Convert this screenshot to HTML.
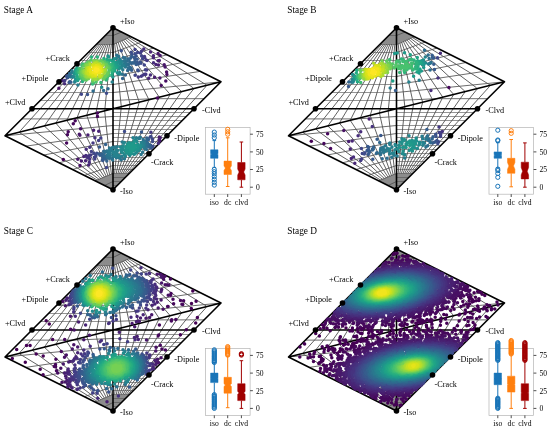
<!DOCTYPE html>
<html><head><meta charset="utf-8"><title>Source-type plots</title>
<style>html,body{margin:0;padding:0;background:#fff}svg{display:block}text{font-family:"Liberation Serif","Times New Roman",Times,serif;fill:#000}</style></head>
<body>
<svg width="550" height="432" viewBox="0 0 550 432">
<rect width="550" height="432" fill="#fff"/>
<g transform="translate(0 0)">
<text x="3.8" y="12.5" font-size="9.3">Stage A</text>
<g transform="translate(113.0 108.8)"><path d="M0 -81L-16.2 -64.8L0 -64.8L18 -72ZM0 81L16.2 64.8L0 64.8L-18 72Z" fill="#8c8c8c"/><path d="M0 72.7H8.1M0 64.7H16.2M0 56.7H24.3M0 48.7H32.4M0 40.7H40.5M0 32.7H48.6M0 24.7H56.7M0 16.7H64.8M0 7.7H72.9M0 -8.3H-72.9M0 -16.3H-64.8M0 -24.3H-56.7M0 -32.3H-48.6M0 -40.3H-40.5M0 -48.3H-32.4M0 -56.3H-24.3M0 -64.3H-16.2M0 -73.3H-8.1M0 3.7H76.95M0 11.7H68.85M0 20.7H60.75M0 28.7H52.65M0 36.7H44.55M0 44.7H36.45M0 52.7H28.35M0 60.7H20.25M0 68.7H12.15M0 76.7H4.05" fill="none" stroke="#525252" stroke-width="0.62"/><path d="M0 72.7L-8.53 76.74M0 64.7L-18 72M0 56.7L-28.59 66.71M0 48.7L-40.5 60.75M0 40.7L-54 54M0 32.7L-69.43 46.29M0 24.7L-87.23 37.38M0 16.7L-108 27M0 7.7L-40.5 10.12L-91.12 10.12M0 -8.3L40.5 -10.12L91.12 -10.12M0 -16.3L108 -27M0 -24.3L87.23 -37.38M0 -32.3L69.43 -46.29M0 -40.3L54 -54M0 -48.3L40.5 -60.75M0 -56.3L28.59 -66.71M0 -64.3L18 -72M0 -73.3L8.53 -76.74" fill="none" stroke="#525252" stroke-width="0.85"/><path d="M-16.02 71.21L-93.37 23.94L-92.53 21.81L-14.58 -64.8M-14.09 70.43L-79.79 21.16L-80.4 19.5L-12.96 -64.8M-12.19 69.68L-68.6 17.3L-67.45 15.36L-11.34 -64.8M-10.34 68.94L-56.55 15.03L-56.7 13.5L-9.72 -64.8M-8.53 68.21L-46.19 11.71L-45.56 10.12L-8.1 -64.8M-6.75 67.5L-35.56 9.88L-35.84 8.59L-6.48 -64.8M-5.01 66.8L-26.1 7.05L-26.04 5.79L-4.86 -64.8M-3.31 66.12L-17.01 4.48L-16.86 3.28L-3.24 -64.8M-1.64 65.45L-8.3 2.13L-8.2 1.04L-1.62 -64.8M1.62 64.8L8.2 -1.04L8.3 -2.13L1.64 -65.45M3.24 64.8L16.86 -3.28L17.01 -4.48L3.31 -66.12M4.86 64.8L26.04 -5.79L26.1 -7.05L5.01 -66.8M6.48 64.8L35.84 -8.59L35.56 -9.88L6.75 -67.5M8.1 64.8L45.56 -10.12L46.19 -11.71L8.53 -68.21M9.72 64.8L56.7 -13.5L56.55 -15.03L10.34 -68.94M11.34 64.8L67.45 -15.36L68.6 -17.3L12.19 -69.68M12.96 64.8L80.4 -19.5L79.79 -21.16L14.09 -70.43M14.58 64.8L92.53 -21.81L93.37 -23.94L16.02 -71.21" fill="none" stroke="#505050" stroke-width="0.9"/><path d="M0 -81L108 -27L0 81L-108 27ZM0 -81V81M-81 0H81M-108 27L108 -27" fill="none" stroke="#000" stroke-width="1.6" stroke-linejoin="round"/>
<g fill="none" stroke-linecap="round" stroke-width="3.5"><path stroke="#440154" d="M-49.7 50.6h0"/><path stroke="#46085c" d="M44.5 -10.9h0M-44.8 23h0M-37.8 11.9h0M-46.4 34.1h0M-45.6 26h0M-39.7 15h0M-15.5 4.1h0M-15.5 7.8h0"/><path stroke="#471063" d="M-54.1 -20.5h0M53.6 -36.9h0M48.2 -23.4h0M53.9 -34.3h0M52.8 -27.8h0M-33 56.7h0M-32.4 19.9h0"/><path stroke="#48186a" d="M45.1 -55.4h0M51.2 -44h0M52.1 -41.7h0M46.9 -30.7h0M47.1 -53.3h0M-35.2 50.4h0M-33.1 26.4h0M-33.7 25.4h0"/><path stroke="#481f70" d="M45.4 -43.7h0M45.1 -48h0M46.3 -48.3h0M41.6 -31.6h0M46.7 32.3h0M47.2 29h0M46.6 31.6h0M46.3 28.3h0M-31.6 52.1h0M-25.1 26.1h0M-19.4 21.5h0"/><path stroke="#482576" d="M-50.5 -28.1h0M40.4 -51.1h0M37.6 -56.8h0M35.7 -30.5h0M40.4 -53h0M42.9 -44.2h0M-29.2 47.7h0M46.2 30.6h0M-24.3 56.1h0M-27.4 51.9h0M-14.3 22.4h0"/><path stroke="#472d7b" d="M-48.4 -25h0M30.8 -59.9h0M40.5 -46.1h0M37.4 -33.8h0M45.3 34.4h0M-27.1 46.6h0M-23.7 53.4h0M-26.9 46.9h0M-26.8 40.4h0"/><path stroke="#46337f" d="M32.8 -34.5h0M-23.3 50.4h0M-25.5 48.6h0M-23.8 49.5h0M-25.8 48.2h0M-24.1 46.9h0M-23.2 38.5h0M-18.1 29h0"/><path stroke="#443983" d="M-48.2 -28.4h0M28.5 -57.5h0M33.7 -38.9h0M31.7 -51.4h0M34.1 -48.2h0M31.9 -34.6h0M28.3 -32.5h0M31.5 -52.3h0M30.1 -33.8h0M33.1 -48.9h0M25.3 -31.9h0M37.9 23.4h0M-22.2 46.2h0M-20 34.3h0"/><path stroke="#424086" d="M32.4 -39.1h0M27.4 -55.8h0M22 -59.2h0M-18.2 50.1h0M-18.6 48.5h0M-21.6 42.8h0M-12.2 29.3h0M-14.4 31.8h0"/><path stroke="#404688" d="M22.1 -33.6h0M31.3 -43.9h0M24.5 -56.2h0M28.6 -52.7h0M29.6 -50.1h0M-31.6 -14.6h0M-17.1 46.9h0M39.5 30.4h0M38 27.8h0M-17.3 47.5h0M-19.2 44.5h0M-6.5 58.7h0"/><path stroke="#3e4c8a" d="M-45.9 -31.3h0M-46.3 -32.5h0M28 -45.6h0M18.3 -56.5h0M22.1 -55h0M25.2 -38.1h0M-6.5 -15.6h0M39.9 37.7h0M39.6 32.7h0M37.2 28.1h0M-16.2 44.4h0M11.5 22.6h0"/><path stroke="#3b528b" d="M-43.9 -26.3h0M-45.5 -31.1h0M-45.4 -33.1h0M27.1 -46.7h0M18.9 -54.3h0M23 -52.9h0M24.8 -38.8h0M8.3 -58.1h0M-25.5 -14.2h0M38.3 39.2h0"/><path stroke="#38588c" d="M22 -50h0M-44.9 -31.6h0M-43.3 -27.1h0M25.4 -44.7h0M24.7 -45.2h0M24.2 -49.5h0M21.5 -51.6h0M24.1 -46.2h0M37.7 36.5h0M28.5 23.2h0M-13.5 38.3h0M-13.9 45.1h0M-10.6 51.2h0M-13 46.5h0M-10.2 51.6h0"/><path stroke="#365d8d" d="M-42.1 -26.6h0M23.2 -44.3h0M18 -51.6h0M18.7 -52.2h0M21.6 -46h0M17.8 -50.8h0M21.9 -47.6h0M18.7 -38.5h0M36.6 38.3h0M34.6 30h0M37 37.9h0M35.5 30.7h0M-9.9 49.7h0"/><path stroke="#33638d" d="M12.4 -33.8h0M-43.9 -33.3h0M20.4 -45.8h0M18.1 -40.5h0M17.6 -39.2h0M19.3 -46.1h0M9.6 -30.3h0M18.6 -45.5h0M36 37h0M-10.3 47.5h0M-11.3 45.2h0M-7.4 35.6h0M36.1 36h0M33.8 29.2h0M36.2 38.2h0M-6.2 52.2h0M34.1 30.4h0M-10.8 46.2h0M-10.5 46.7h0M-8.1 49.7h0M-10.1 46h0"/><path stroke="#31688e" d="M-42.8 -32.2h0M-43.4 -35.2h0M-43 -34.2h0M16.8 -46.8h0M15 -49.7h0M14.6 -38.3h0M16.1 -49.6h0M16.9 -41.5h0M-5 -20h0M-9.4 -18.3h0M34.8 37.5h0M33.5 32h0M-9.3 42.5h0M34.7 34.4h0M-8.6 47.1h0M-8.8 46.9h0"/><path stroke="#2e6d8e" d="M12.2 -50.7h0M14.3 -47.7h0M10.4 -51.4h0M15.6 -44.4h0M15.3 -40.7h0M-19.9 -17.8h0M34 34.8h0M33.5 40.6h0M34.1 36.6h0M-5.6 48.9h0M-8.4 42.7h0M-8.6 43.6h0"/><path stroke="#2c728e" d="M12.4 -48.1h0M13.9 -44.9h0M-41.7 -31.9h0M3.8 -53.5h0M9.2 -34.6h0M13.1 -45h0M13.3 -43.3h0M-0.3 51.3h0M30.2 30.8h0M32.8 37.5h0M8.2 50.9h0M-3.6 48.9h0M27.3 28.4h0M-3.9 49.4h0M31.6 32.8h0M-6.2 42.3h0M-5.7 46.6h0M-6.2 43h0M-7.4 42.6h0M-2.8 49.3h0M-0.7 50h0M-5.9 47.6h0"/><path stroke="#2a778e" d="M-41.5 -36.1h0M5.6 -52.1h0M11.4 -45.3h0M5.7 -52.2h0M10.6 -47.8h0M12.3 -41.7h0M-3.5 39.2h0M11.4 49.9h0M0 38.5h0M31.5 39.1h0M-4.8 42.7h0M31.7 35.8h0M28.1 45.8h0M29.7 43.1h0M31.2 34.7h0M-2.7 47h0M31.8 39.6h0M-0.5 38.7h0M6.6 49.1h0M-5.3 42.4h0M26.5 29.2h0M-3.6 41.9h0M-3.6 46.8h0M-5.2 45.6h0M-4.4 43h0M3.4 48.9h0"/><path stroke="#287c8e" d="M-38.2 -26.9h0M-40.6 -32.6h0M-41 -38.1h0M7.2 -49.2h0M-35.1 -23.8h0M10.8 -43.2h0M9.8 -39h0M-2 40.6h0M2.5 38.8h0M8.6 47.5h0M30.8 34.7h0M2.6 47.8h0M25.4 29.5h0M9.2 33.3h0M23.2 29h0M26.5 29.7h0M30.8 37.8h0M30.3 33.8h0M1.1 38.8h0M5.2 48.5h0M30.7 38h0M-1.5 40.1h0M2.1 47.4h0M0.2 47.3h0M1.6 47.4h0M-0.9 41.9h0M1 47.8h0M-2.8 45h0M4.2 37.9h0M1.2 39h0M-3.6 43.2h0M1.3 38.7h0"/><path stroke="#26828e" d="M9.1 -44.4h0M8.3 -46.8h0M-38.1 -27.4h0M6.6 -34.8h0M8.4 -46.7h0M10.1 -43.1h0M-0.8 -26.7h0M20 29h0M0.2 43.4h0M2.8 42.7h0M3.3 41.3h0M0 44.1h0M4.6 41.6h0M29.7 36.1h0M28.3 33.6h0M2.3 46.2h0M12.3 47.6h0M5.7 46.7h0M29.2 36.4h0M1.4 45.8h0M4.6 46.3h0M3.5 46.2h0M3.5 41.9h0M3.9 44.3h0M0.2 43h0"/><path stroke="#24868e" d="M8.3 -41.1h0M-39.5 -32.1h0M6.6 -36.4h0M-39.5 -31.9h0M6.2 -48.1h0M3.3 -50.3h0M7.8 -46.3h0M11.2 34.2h0M11.5 46.3h0M22.2 31h0M11.4 33.7h0M28 38.6h0M11 34.4h0M7.3 38.3h0M8 41.7h0M8.4 43.1h0"/><path stroke="#228b8d" d="M5.6 -47.5h0M5.2 -35.1h0M7 -41.6h0M6.8 -44.5h0M-5 -52.8h0M-11.3 -21.6h0M25.9 41.3h0M23.3 32.2h0M16.2 46h0M27.8 36.9h0M26.4 41.2h0M8.2 41h0M16.8 46.7h0M10.1 40.6h0M26.4 41.4h0M24.3 42.8h0M9.9 37.2h0M26.4 39.4h0M21.4 45.5h0M23.9 32.6h0M27.8 36.6h0M23.1 44.1h0M9.5 43.9h0M9.6 39.9h0M9.1 39.2h0M9.8 39.8h0"/><path stroke="#21918c" d="M4.4 -36.1h0M-37.4 -29.9h0M-37.3 -29.5h0M-38.8 -35.2h0M4.7 -46.3h0M1 -50h0M6 -39.7h0M13.1 44.3h0M25.1 40.5h0M24.8 40.4h0M25.1 36.3h0M26.2 37.1h0M25.1 37h0M24.9 37.2h0M21.1 32.4h0M25.6 37.1h0M12.6 42h0M18.8 44.9h0M16.3 44.8h0M25.1 35.4h0M14.2 44.4h0M14 43.2h0M15.3 34.2h0"/><path stroke="#1f958b" d="M-38.3 -34.8h0M-36.8 -29.4h0M4.8 -42.9h0M4.6 -43h0M3.7 -46.3h0M-4.5 -51.8h0M5.1 -42.7h0M15.2 41.5h0M23.6 36.8h0M17 42.9h0M24.5 39.1h0M22.6 40.6h0M20.6 42.2h0M20.8 35.1h0M13 39.8h0M14.9 36.4h0M14.5 36.2h0M15.1 36.5h0M13.3 38.1h0M14.8 41.2h0M13.3 42.1h0M17.8 44.1h0M18.4 34.4h0M15.3 42.6h0M13.4 39.9h0M12.6 38.2h0M24.7 38.2h0M14.8 34.9h0M15.9 35.2h0M18.2 34.8h0M14.3 38.1h0M16.8 34.3h0M13.4 42.4h0M16.3 34.3h0M21 33.5h0"/><path stroke="#1f9a8a" d="M-37.7 -37.7h0M-35.9 -43.5h0M-0.2 -31.7h0M4.6 -42.4h0M-37.5 -38.6h0M4 -42.4h0M-35.3 -28.4h0M2 -46.6h0M4 -43.1h0M20 41h0M18.6 41.9h0M21.3 38.6h0M17.4 41.8h0M18.8 39h0M18.1 42.4h0M19.3 35.7h0M17.8 39.2h0M17.8 39.2h0M15.9 37.7h0M17.6 39.7h0M21.5 37.2h0M22.1 37.2h0M16.7 37.3h0M15.9 36.8h0M19 39.2h0M19.6 37.3h0M17.6 42.3h0M14.7 38.7h0"/><path stroke="#1fa088" d="M-37.2 -38.1h0M-37.2 -38.3h0M3.5 -41.3h0M-1.9 -48.6h0M0.4 -47.4h0M0.3 -46.6h0M2.2 -44.2h0"/><path stroke="#20a486" d="M-36 -32.8h0M-36.1 -31.9h0M-35.9 -31.9h0M-35.2 -30.3h0M-35.7 -31.3h0M-36.1 -32.6h0M-34.7 -29.9h0M-36.4 -40.3h0M1.8 -42.9h0M1.8 -37.8h0M2.4 -41.4h0M1.8 -39.1h0"/><path stroke="#23a983" d="M0.8 -41.5h0M1.2 -41.1h0M-4 -48.2h0M0.1 -44.7h0M-34.3 -30.2h0M-36.3 -37.6h0M-35.8 -38.9h0M0 -45.3h0M-6.2 -49.4h0M-35.2 -31.4h0M-0.9 -34.2h0M-36.2 -34.9h0"/><path stroke="#28ae80" d="M0.2 -39.1h0M-35.8 -37.2h0M-9.1 -50.2h0M-21.4 -51.7h0M-30.5 -27.2h0M-0.7 -36.2h0M-0.3 -43.3h0M-0.7 -44.7h0M0.6 -40.6h0M-0.1 -38.3h0"/><path stroke="#2eb37c" d="M-34.7 -38.7h0M-1 -42.9h0M-1 -42.5h0M-15.6 -51.9h0M-34.3 -39.8h0M-20.4 -24.9h0M-6.7 -28.9h0M-0.8 -42.7h0M-1.1 -42.3h0M-0.7 -38.3h0"/><path stroke="#35b779" d="M-1.6 -38.8h0M-3.8 -33.5h0M-34.6 -36.5h0M-1.7 -42.5h0M-12.1 -26.2h0M-34.1 -39h0M-6.2 -29.9h0M-1.9 -41.5h0M-2.6 -44.3h0"/><path stroke="#3fbc73" d="M-6.3 -46.5h0M-33.1 -32.3h0M-33.3 -40.4h0M-31.2 -43.5h0M-32.9 -32.9h0M-19.6 -25.8h0M-30.3 -44.8h0M-4.7 -45.8h0M-33.8 -36.6h0M-2.4 -41h0M-31.4 -30.4h0M-5.4 -32h0M-3.5 -44.5h0"/><path stroke="#48c16e" d="M-3.8 -42.3h0M-28.9 -29.1h0M-30.8 -30.6h0M-33 -35.3h0M-31.8 -32.1h0M-32 -31.8h0M-32.9 -39.9h0M-4.4 -34.4h0"/><path stroke="#52c569" d="M-32.2 -33.5h0M-8.6 -47h0M-16.9 -26.9h0M-31.5 -32.1h0M-21.9 -48.7h0M-32.6 -36.3h0M-4 -37h0M-5.5 -33.2h0M-10.8 -48h0M-3.9 -38.3h0M-29.2 -29.8h0M-32.9 -36.3h0M-22.2 -48.6h0M-3.7 -41h0"/><path stroke="#5ec962" d="M-31.9 -36.3h0M-4.7 -36.1h0M-27.4 -44.7h0M-9.3 -29.8h0M-32.1 -37.7h0M-11.9 -48.1h0M-29.1 -30.3h0M-30.3 -32.6h0M-5.2 -35.8h0M-31.7 -36.1h0M-32 -34.9h0M-25.2 -46.7h0M-8.6 -30.8h0M-20.4 -27.5h0M-26.7 -28.9h0M-6.5 -44.7h0M-29.5 -42.9h0M-8.2 -31.3h0M-5.2 -42.9h0M-4.7 -40.9h0M-5.6 -35.2h0"/><path stroke="#69cd5b" d="M-9.9 -30.1h0M-31.2 -34.4h0M-12.5 -47.8h0M-30.7 -40.1h0M-7.5 -32.5h0M-31.1 -36.9h0M-6.9 -33.6h0M-31.5 -36.9h0M-7.5 -32.7h0M-30.9 -33.8h0M-27.6 -44.4h0M-5.7 -35.2h0M-26.7 -30h0M-6.9 -43.9h0"/><path stroke="#75d054" d="M-18.7 -48.1h0M-24.6 -30.1h0M-9.1 -44.8h0M-6.4 -41.2h0M-10.1 -46.1h0M-8.9 -44.9h0M-30.6 -36.6h0M-14.8 -47.9h0M-17.1 -48.4h0M-30.8 -37.3h0"/><path stroke="#84d44b" d="M-28.2 -32.7h0M-29.6 -35.9h0M-26.5 -43.7h0M-25.9 -31.4h0M-29.8 -37.5h0M-26.7 -43.3h0M-15 -29.5h0M-19.9 -29.1h0M-27.1 -31.8h0M-19.2 -47.5h0M-23.7 -45.8h0"/><path stroke="#90d743" d="M-7.3 -37.7h0M-26.1 -32.1h0M-17.8 -29.6h0M-9.8 -43.5h0M-25.2 -43.3h0M-20.1 -30.2h0M-26.9 -32.4h0M-28.4 -38.2h0M-7.4 -39.6h0M-29.1 -37.3h0"/><path stroke="#9dd93b" d="M-8.6 -36.3h0M-27.1 -40.9h0M-10.4 -43.6h0M-28.3 -37h0M-16.9 -30.6h0M-28.3 -37.8h0M-26.6 -33.4h0M-16.2 -46.7h0M-27.7 -38.5h0M-8.8 -35.6h0M-22.9 -44.6h0M-11.9 -32h0M-27.9 -35.8h0M-18.1 -46.3h0M-18.2 -30.5h0M-13.1 -31h0M-15.3 -46.1h0M-25.2 -32h0"/><path stroke="#addc30" d="M-25.4 -41.1h0M-26.6 -37.2h0M-12.5 -32.1h0M-26.9 -35.7h0M-22.6 -44.2h0M-24.6 -33.1h0M-19.1 -45.4h0M-12.9 -32.2h0M-8.7 -38.7h0M-22.8 -31.8h0M-26.9 -35.2h0M-10.8 -33.2h0M-16.5 -45.9h0M-26 -34.8h0M-13.2 -45h0"/><path stroke="#bade28" d="M-11.1 -42.2h0M-25.7 -40.3h0M-16 -44.9h0M-24.8 -34.6h0M-24.6 -41.2h0M-26.3 -36.5h0M-18.6 -44.8h0M-13.5 -43.9h0M-25.9 -35.3h0M-20.8 -32.1h0M-17.6 -45.4h0M-21.4 -32.4h0M-26.5 -37.1h0M-13.5 -32.4h0M-17 -45.2h0M-25.5 -39.1h0M-23.7 -33.8h0"/><path stroke="#c8e020" d="M-24 -40.5h0M-24.7 -35.2h0M-11 -39.7h0M-18.7 -32.9h0M-20.8 -32.8h0M-13.1 -33.2h0M-10.7 -38.5h0M-23.3 -41.3h0M-13.7 -33.5h0M-25 -36.3h0M-12.2 -42h0M-14.6 -44.1h0M-18.4 -44.1h0M-23.4 -34.4h0M-10.5 -38.5h0M-12.5 -42.4h0M-23.6 -41.1h0M-19.7 -43.8h0M-24.4 -40.5h0M-10.8 -36.8h0M-11.1 -40.4h0"/><path stroke="#d8e219" d="M-22.4 -35.1h0M-13 -41.8h0M-22.4 -35.3h0M-23.3 -40.1h0M-14.4 -42.7h0M-12.4 -40.8h0M-17.6 -33.3h0M-24.3 -38.2h0M-19.5 -42.8h0M-20 -42.6h0M-20.2 -43.1h0M-15.2 -43.6h0M-23.3 -39.9h0M-11.9 -37.4h0M-17.1 -32.9h0M-20.3 -33.6h0M-23.7 -39.1h0M-23.8 -39h0M-13 -41.9h0M-12.8 -41.5h0"/><path stroke="#e5e419" d="M-13.5 -40h0M-12 -38.2h0M-12.3 -39.4h0M-12.6 -37.1h0M-12.9 -37h0M-13.2 -36.3h0M-12.8 -40.9h0M-22.2 -36.7h0M-17.1 -34.3h0M-16.6 -42.6h0M-13 -39.8h0M-12.4 -40h0M-20.7 -35.7h0M-17 -43.1h0M-22.5 -39.3h0M-14.4 -41.9h0"/><path stroke="#f1e51d" d="M-14.9 -37.3h0M-16.1 -36.1h0M-13.8 -38.2h0M-14.9 -41.1h0M-19.6 -36.8h0M-13.5 -37.3h0M-17.5 -41.1h0M-17.9 -35.7h0M-13.5 -37.6h0M-14.8 -37.1h0M-14.2 -36.2h0M-16.9 -35.9h0M-18.4 -40.7h0M-17.9 -36.1h0M-16 -40.8h0M-19.6 -40.1h0M-19.3 -36.2h0M-13.6 -37.1h0M-19.6 -40.9h0M-16.5 -36h0M-13.7 -38.4h0M-16.9 -41.1h0"/><path stroke="#fde725" d="M-16.3 -39.5h0M-17 -39.3h0M-17.3 -40h0M-16.3 -37.5h0M-15 -38.8h0M-16.2 -39.6h0M-17.7 -39h0M-17.7 -37.9h0M-15.2 -39.3h0"/></g>
<circle cx="0" cy="-81" r="2.8"/><circle cx="0" cy="81" r="2.8"/><circle cx="-36" cy="-45" r="2.8"/><circle cx="-54" cy="-27" r="2.8"/><circle cx="-81" cy="0" r="2.8"/><circle cx="81" cy="0" r="2.8"/><circle cx="54" cy="27" r="2.8"/><circle cx="36" cy="45" r="2.8"/></g>
<g font-size="8.2"><text x="120.0" y="23.9">+Iso</text><text x="120.0" y="194.3">-Iso</text><text x="45.6" y="60.5">+Crack</text><text x="21.6" y="80.5">+Dipole</text><text x="4.9" y="105.0">+Clvd</text><text x="202.0" y="113.0">-Clvd</text><text x="174.3" y="141.3">-Dipole</text><text x="151.1" y="165.4">-Crack</text></g>
<rect x="205.5" y="127.4" width="44.6" height="66.8" fill="#fff" stroke="#b4b4b4" stroke-width="0.7"/><g stroke="#1874b8" stroke-width="1" fill="none"><path d="M214.3 149.8V140.6M214.3 158.3V167.4M212.5 140.6H216.1M212.5 167.4H216.1"/><circle cx="214.3" cy="137.8" r="2.1"/><circle cx="214.3" cy="135" r="2.1"/><circle cx="214.3" cy="132.1" r="2.1"/><circle cx="214.3" cy="169.5" r="2.1"/><circle cx="214.3" cy="171.7" r="2.1"/><circle cx="214.3" cy="173.8" r="2.1"/><circle cx="214.3" cy="176.6" r="2.1"/><circle cx="214.3" cy="179.4" r="2.1"/><circle cx="214.3" cy="182.3" r="2.1"/><circle cx="214.3" cy="185.1" r="2.1"/></g><path d="M210.6 149.8H218V153.7L216.6 154L218 154.4V158.3H210.6V154.4L212 154L210.6 153.7Z" fill="#1874b8" stroke="#1874b8" stroke-width="0.5"/><g stroke="#ff7f0e" stroke-width="1" fill="none"><path d="M227.7 161.1V137.8M227.7 174.5V186.5M225.9 137.8H229.5M225.9 186.5H229.5"/><circle cx="227.7" cy="134.2" r="2.1"/><circle cx="227.7" cy="131.8" r="2.1"/><circle cx="227.7" cy="129.3" r="2.1"/></g><path d="M224 161.1H231.4V165.9L230 168.1L231.4 170.4V174.5H224V170.4L225.4 168.1L224 165.9Z" fill="#ff7f0e" stroke="#ff7f0e" stroke-width="0.5"/><g stroke="#a00000" stroke-width="1" fill="none"><path d="M241.4 162.5V142M241.4 179.8V187.2M239.6 142H243.2M239.6 187.2H243.2"/></g><path d="M237.7 162.5H245.1V169.1L243.7 172L245.1 175V179.8H237.7V175L239.1 172L237.7 169.1Z" fill="#a00000" stroke="#a00000" stroke-width="0.5"/><path d="M250.1 187.2h2.8M250.1 169.5h2.8M250.1 151.9h2.8M250.1 134.2h2.8M214.3 194.2v2.8M227.7 194.2v2.8M241.4 194.2v2.8" stroke="#000" stroke-width="0.7" fill="none"/><g font-size="7.6"><text x="255.9" y="190.1">0</text><text x="255.9" y="172.4">25</text><text x="255.9" y="154.8">50</text><text x="255.9" y="137.2">75</text><text x="214.3" y="205.2" text-anchor="middle">iso</text><text x="227.7" y="205.2" text-anchor="middle">dc</text><text x="241.4" y="205.2" text-anchor="middle">clvd</text></g></g>
<g transform="translate(283.5 0)">
<text x="3.8" y="12.5" font-size="9.3">Stage B</text>
<g transform="translate(113.0 108.8)"><path d="M0 -81L-16.2 -64.8L0 -64.8L18 -72ZM0 81L16.2 64.8L0 64.8L-18 72Z" fill="#8c8c8c"/><path d="M0 72.7H8.1M0 64.7H16.2M0 56.7H24.3M0 48.7H32.4M0 40.7H40.5M0 32.7H48.6M0 24.7H56.7M0 16.7H64.8M0 7.7H72.9M0 -8.3H-72.9M0 -16.3H-64.8M0 -24.3H-56.7M0 -32.3H-48.6M0 -40.3H-40.5M0 -48.3H-32.4M0 -56.3H-24.3M0 -64.3H-16.2M0 -73.3H-8.1M0 3.7H76.95M0 11.7H68.85M0 20.7H60.75M0 28.7H52.65M0 36.7H44.55M0 44.7H36.45M0 52.7H28.35M0 60.7H20.25M0 68.7H12.15M0 76.7H4.05" fill="none" stroke="#525252" stroke-width="0.62"/><path d="M0 72.7L-8.53 76.74M0 64.7L-18 72M0 56.7L-28.59 66.71M0 48.7L-40.5 60.75M0 40.7L-54 54M0 32.7L-69.43 46.29M0 24.7L-87.23 37.38M0 16.7L-108 27M0 7.7L-40.5 10.12L-91.12 10.12M0 -8.3L40.5 -10.12L91.12 -10.12M0 -16.3L108 -27M0 -24.3L87.23 -37.38M0 -32.3L69.43 -46.29M0 -40.3L54 -54M0 -48.3L40.5 -60.75M0 -56.3L28.59 -66.71M0 -64.3L18 -72M0 -73.3L8.53 -76.74" fill="none" stroke="#525252" stroke-width="0.85"/><path d="M-16.02 71.21L-93.37 23.94L-92.53 21.81L-14.58 -64.8M-14.09 70.43L-79.79 21.16L-80.4 19.5L-12.96 -64.8M-12.19 69.68L-68.6 17.3L-67.45 15.36L-11.34 -64.8M-10.34 68.94L-56.55 15.03L-56.7 13.5L-9.72 -64.8M-8.53 68.21L-46.19 11.71L-45.56 10.12L-8.1 -64.8M-6.75 67.5L-35.56 9.88L-35.84 8.59L-6.48 -64.8M-5.01 66.8L-26.1 7.05L-26.04 5.79L-4.86 -64.8M-3.31 66.12L-17.01 4.48L-16.86 3.28L-3.24 -64.8M-1.64 65.45L-8.3 2.13L-8.2 1.04L-1.62 -64.8M1.62 64.8L8.2 -1.04L8.3 -2.13L1.64 -65.45M3.24 64.8L16.86 -3.28L17.01 -4.48L3.31 -66.12M4.86 64.8L26.04 -5.79L26.1 -7.05L5.01 -66.8M6.48 64.8L35.84 -8.59L35.56 -9.88L6.75 -67.5M8.1 64.8L45.56 -10.12L46.19 -11.71L8.53 -68.21M9.72 64.8L56.7 -13.5L56.55 -15.03L10.34 -68.94M11.34 64.8L67.45 -15.36L68.6 -17.3L12.19 -69.68M12.96 64.8L80.4 -19.5L79.79 -21.16L14.09 -70.43M14.58 64.8L92.53 -21.81L93.37 -23.94L16.02 -71.21" fill="none" stroke="#505050" stroke-width="0.9"/><path d="M0 -81L108 -27L0 81L-108 27ZM0 -81V81M-81 0H81M-108 27L108 -27" fill="none" stroke="#000" stroke-width="1.6" stroke-linejoin="round"/>
<g fill="none" stroke-linecap="round" stroke-width="3.5"><path stroke="#440154" d="M-85.2 32.4h0"/><path stroke="#46085c" d="M52.4 -21.4h0M-68.9 24.9h0M-72.6 34.8h0M-65.9 39.7h0"/><path stroke="#471063" d="M-52.7 21.6h0"/><path stroke="#481f70" d="M-27.3 10.1h0M-47.8 32.7h0"/><path stroke="#482576" d="M-41.7 54.5h0M-44.3 32.3h0M-45.2 49.6h0M-46.2 40.3h0"/><path stroke="#472d7b" d="M43.9 -55.5h0M34.4 -18.3h0M-38.4 26.9h0M-35.8 22.9h0M-43 48.1h0"/><path stroke="#46337f" d="M41.5 -30.8h0M45.8 22.6h0M-24.2 17.6h0"/><path stroke="#443983" d="M44.1 23.6h0M42.5 18.1h0M-35.8 51.6h0"/><path stroke="#424086" d="M44.2 26h0M-34.9 50.3h0M42.7 23.7h0M44 27.7h0"/><path stroke="#404688" d="M41 -50.7h0M41 -51h0M-35.1 39.7h0M-34.2 44.8h0M42.1 32.9h0"/><path stroke="#3e4c8a" d="M-31.5 43.9h0M-32.2 45.2h0M41.3 34.7h0"/><path stroke="#3b528b" d="M39.2 25.5h0M39.5 27.6h0M39.6 32.5h0M40.4 31.8h0"/><path stroke="#38588c" d="M-48 -22.3h0M37.1 -50.8h0M38 -39.3h0M-27.8 38.4h0M-27.6 44.5h0M-28.4 40.7h0M-29.4 41.6h0M-27.8 41.8h0M-23.7 50.4h0M-28.2 45.8h0M38.1 33.5h0M-28.8 37.8h0M-15.7 26.6h0"/><path stroke="#365d8d" d="M35.6 -53.6h0M37.3 -44.5h0M35.9 -51.4h0M-1 -18.3h0M30.4 20.8h0M-27 43h0M36.1 34.2h0M36.5 28h0M-19.4 30.4h0"/><path stroke="#33638d" d="M-47.6 -26.9h0M-24 40.1h0M-22.9 38.2h0M-23.1 40.2h0M-24 41.1h0M35.7 30.2h0"/><path stroke="#31688e" d="M-14.3 50h0M34.1 33.9h0M-19.6 43.9h0M-20.1 44.7h0M-16.8 33.7h0"/><path stroke="#2e6d8e" d="M34.6 -46.4h0M33.6 -38.9h0M31.7 -53.8h0M28 -58.6h0M-15.9 45.8h0M32.6 30.4h0M32.1 31.8h0M31.1 27h0M-9.4 49.4h0M-16.4 44.3h0M31.1 36.9h0M33.1 32.4h0"/><path stroke="#2c728e" d="M33.5 -45.6h0M33.2 -45.2h0M34 -45.9h0M32.6 -50.3h0M29.4 38.1h0M30.5 29.9h0M-16 41.1h0M-16.3 43.7h0M-15.7 39.4h0M30.3 28.2h0"/><path stroke="#2a778e" d="M-45.2 -26.7h0M-14.1 40.8h0M-13.1 42.6h0M-11.8 41.3h0M-4.8 48.4h0M29.3 30.4h0M-12.8 43.6h0M-14.2 40.9h0M-13.3 38.4h0M-11.1 36.9h0"/><path stroke="#287c8e" d="M31.9 -44.7h0M22.7 -28.6h0M-6.3 -20.8h0M8.2 49.1h0M-7.1 34.7h0M-9.1 39.8h0M28 34.4h0M0.7 47.2h0M-6.5 34.2h0M-7.3 42.3h0M-6.8 45.1h0M-6.7 35.6h0M-10.8 42.3h0M-2.3 46.5h0M-9 39.7h0M25.5 27.4h0M26.2 29.9h0"/><path stroke="#26828e" d="M-44.2 -29.2h0M-43.6 -26.5h0M28.8 -51.7h0M12.4 -26.8h0M26.3 36.4h0M-2.4 43.9h0M-3.5 44.4h0M-6.7 40.3h0M26.6 33.6h0M-4.5 38.1h0M-6.9 42h0M-4.5 44.4h0"/><path stroke="#24868e" d="M-43.1 -27.7h0M-0.9 37h0M-1.5 41h0M12.5 26.9h0M8.4 46h0M-1.4 35.8h0M23.7 34h0M5.4 29.9h0M6 45h0"/><path stroke="#228b8d" d="M-43.9 -34.3h0M29.1 -45.9h0M6.4 44.7h0M22.9 33.4h0M21 39.6h0M2.2 42.7h0M3.3 33.3h0M22.4 36.2h0M2.4 36.4h0M23 35.1h0M19.7 29.1h0M0.8 39.9h0"/><path stroke="#21918c" d="M27 -48.8h0M12.8 41.7h0M19.7 32.4h0M2.8 38.8h0M8.4 31.2h0M20.1 31.9h0M19.1 32h0M6.5 42.3h0M5.5 33.1h0M14.5 41h0M18.3 39h0M7.9 30.8h0M5.4 34.9h0M6.7 31.7h0M6.6 32.3h0M18.8 32h0M16 42.2h0M20 32h0"/><path stroke="#1f958b" d="M-41.8 -29.5h0M-42.4 -31.1h0M27.3 -45.8h0M27.2 -43.9h0M27.2 -41.4h0M13.2 32.3h0M16.9 36.8h0M6.2 38.8h0M6.9 38.1h0M15.6 34.1h0M9.5 35.3h0M14.3 32.1h0M9.6 38.8h0M15.8 39.4h0M15.1 39.9h0M14.1 32.7h0M16.3 38h0M17.3 36.3h0M15.4 34.3h0M16.9 35.6h0M16.5 34.6h0M11 33.5h0M16.6 36.7h0M10.3 35.8h0M16.6 33.1h0M15.8 31.8h0M15.7 34.3h0M19.1 34.9h0"/><path stroke="#1f9a8a" d="M-42.2 -31.9h0M-1.8 -55.4h0M24.8 -37.9h0M26 -46.1h0M0.7 -55.7h0M8 -56h0M25.9 -44.6h0M17.1 -32.6h0M25.1 -48h0M22.5 -35.8h0M14.8 35.5h0M12.9 34h0M13.2 36.8h0"/><path stroke="#1fa088" d="M-41.3 -32.3h0M-3.7 -27.8h0"/><path stroke="#20a486" d="M24.2 -46.4h0M20.8 -51.4h0M24.4 -45.4h0M23.4 -39.9h0M23.1 -38.9h0M20.6 -36.8h0M13.8 -54.1h0"/><path stroke="#23a983" d="M-39.8 -38.5h0M-39.1 -27h0M-40.2 -35.9h0M21.7 -47h0M22.5 -44.9h0M22.1 -47.5h0M21 -47.9h0M22.6 -46.5h0"/><path stroke="#28ae80" d="M-39.4 -29.4h0M-39.7 -31.1h0M21.3 -46.2h0M20.8 -39.7h0M21.2 -44.8h0M21.4 -42.4h0M21.9 -44.9h0M20.9 -42.9h0"/><path stroke="#2eb37c" d="M8.1 -36.2h0M19.1 -40.1h0M5.5 -49.8h0M17.4 -48.7h0M14.4 -49.5h0M19.8 -44.2h0M19.6 -47h0M19.1 -41.9h0M4.9 -49.8h0M19.3 -44.5h0M20.3 -45.6h0"/><path stroke="#35b779" d="M-38.7 -32.6h0M-38.6 -33.5h0M-38.4 -32.3h0M-38.8 -32.2h0M3.2 -36.2h0M6.9 -48.9h0M16.7 -39.2h0M13.1 -48.9h0M13.1 -49.4h0M14.9 -49.2h0M7.7 -37.7h0M16.3 -38.8h0"/><path stroke="#3fbc73" d="M-37.9 -31.1h0M-37.6 -31.4h0M-35.8 -26.4h0M-38 -32.1h0M6.3 -47.3h0M8.4 -46.7h0M12.7 -40.7h0M7.8 -38.8h0M16.3 -45.8h0M7.5 -47.5h0M8.1 -39.5h0M0.6 -47.7h0M15.1 -43h0M10.1 -47.5h0M1.7 -47.9h0M14.3 -42.4h0M10 -46.2h0M15.1 -41.4h0M2.9 -46.6h0M10.4 -39h0M15.1 -45.9h0M15.4 -40.8h0M-6.8 -49.3h0"/><path stroke="#48c16e" d="M-36.9 -30.2h0M5.7 -43.2h0M11.6 -42.9h0M11.4 -44.2h0M13 -42.9h0M5.8 -41.3h0M11.6 -42.6h0M4.9 -40.6h0M9.3 -40.9h0M6 -42.9h0M1.7 -40.3h0M4.2 -40.4h0M8.8 -41.4h0M9.4 -43.4h0M5.2 -43.3h0M8.6 -42.5h0M3.9 -42.3h0M-0.2 -46.5h0M9.1 -45h0M2.5 -43.1h0M10.1 -43.7h0"/><path stroke="#52c569" d="M-4.1 -44.7h0M-36.4 -30.6h0M-37 -32.7h0M-36.5 -38.8h0M-2.2 -40.9h0M-2.3 -41.2h0M-0.7 -44.1h0M0.3 -42.6h0"/><path stroke="#5ec962" d="M-6.9 -45.9h0M-9.8 -47.9h0M-36.5 -32.8h0"/><path stroke="#69cd5b" d="M-5.4 -41.9h0M-35.8 -32h0M-5.8 -43.2h0M-35.7 -38h0M-6.2 -40.1h0M-35.2 -31.9h0M-36.1 -35h0M-35.7 -32.3h0M-8.5 -45.4h0M-5.5 -40.7h0M-5.9 -43.2h0"/><path stroke="#75d054" d="M-6.6 -41.4h0M-8.1 -43.8h0M-14.5 -48.1h0"/><path stroke="#84d44b" d="M-8.9 -43.3h0M-8.1 -39.7h0M-8.9 -36.4h0M-34.3 -34.4h0M-34.2 -32h0"/><path stroke="#90d743" d="M-9.8 -38.1h0M-9.6 -40.6h0M-32.7 -29.9h0M-11.5 -43.9h0M-31.8 -29.9h0M-9.6 -38.4h0M-13.5 -45.4h0"/><path stroke="#9dd93b" d="M-32.7 -38.7h0M-11.4 -42.5h0M-32.8 -31.9h0M-10.4 -40.8h0M-33 -33.9h0M-14.5 -45h0M-11.4 -36.2h0M-12.3 -43.5h0"/><path stroke="#addc30" d="M-12.2 -38.4h0M-15.6 -32.3h0M-31.9 -33.6h0M-22.8 -45.6h0M-29.8 -29.7h0M-32 -35h0M-12.9 -36.1h0M-11.5 -37.9h0M-15.9 -45h0M-13 -42.7h0M-13.6 -33.6h0"/><path stroke="#bade28" d="M-13.2 -40h0M-31.4 -34.9h0M-29.5 -30.6h0M-13.3 -41.6h0M-14.3 -41.3h0M-13.8 -37.8h0M-13.5 -37.3h0M-31 -39.5h0M-29.8 -31.2h0M-30.8 -38.2h0M-31.5 -33.1h0M-14 -41h0M-14 -42.3h0"/><path stroke="#c8e020" d="M-30 -33.7h0M-28.2 -30.1h0M-18.1 -43.5h0M-30.5 -34.2h0M-30.3 -37.7h0M-15 -37.7h0M-29.9 -39h0M-14.6 -39.3h0M-29.6 -31.9h0M-16 -34.5h0M-13.9 -39.2h0"/><path stroke="#d8e219" d="M-29.9 -35.3h0M-28.3 -39.3h0M-29.4 -38.4h0M-20.8 -43.4h0M-29.7 -36h0M-18.4 -42.4h0M-24.1 -31h0M-27.2 -31h0M-28.2 -31.7h0M-28.3 -39.3h0M-29.4 -33.4h0M-29.5 -35.6h0M-17 -41.8h0M-19.5 -43.1h0"/><path stroke="#e5e419" d="M-18.8 -33.7h0M-16.8 -39.4h0M-18.4 -34.4h0M-28.8 -37.3h0M-18.9 -34.8h0M-18.8 -34h0M-21.6 -41.8h0M-17.3 -35.9h0M-17.2 -39.4h0M-26.5 -32.8h0M-27.3 -39.4h0M-21.2 -32.5h0M-26.7 -33.3h0"/><path stroke="#f1e51d" d="M-18.3 -36.9h0M-20.3 -40.1h0M-20.3 -36.5h0M-22.9 -40.5h0M-26 -38.9h0M-27.1 -37.4h0M-27 -34.2h0M-26.5 -37.6h0M-19.4 -34.8h0M-25.7 -38h0M-27.3 -36.6h0M-25.5 -34.1h0M-19.2 -38.3h0M-19 -37.2h0M-24.2 -40h0M-25.9 -37.2h0M-24 -34.1h0M-19 -40h0M-26 -37.5h0M-20.1 -37.2h0M-23.7 -34.2h0M-27 -38.6h0M-19.3 -34.9h0M-24.3 -32.7h0M-27.4 -34.8h0"/><path stroke="#fde725" d="M-24.2 -37.7h0M-22.6 -36h0M-21 -36.7h0M-23.9 -36.4h0M-24.2 -38.7h0M-22.6 -36.8h0M-22.2 -36.9h0M-23.5 -37.5h0M-22.2 -37.5h0M-24.9 -36h0M-22.8 -34.9h0"/></g>
<circle cx="0" cy="-81" r="2.8"/><circle cx="0" cy="81" r="2.8"/><circle cx="-36" cy="-45" r="2.8"/><circle cx="-54" cy="-27" r="2.8"/><circle cx="-81" cy="0" r="2.8"/><circle cx="81" cy="0" r="2.8"/><circle cx="54" cy="27" r="2.8"/><circle cx="36" cy="45" r="2.8"/></g>
<g font-size="8.2"><text x="120.0" y="23.9">+Iso</text><text x="120.0" y="194.3">-Iso</text><text x="45.6" y="60.5">+Crack</text><text x="21.6" y="80.5">+Dipole</text><text x="4.9" y="105.0">+Clvd</text><text x="202.0" y="113.0">-Clvd</text><text x="174.3" y="141.3">-Dipole</text><text x="151.1" y="165.4">-Crack</text></g>
<rect x="205.5" y="127.4" width="44.6" height="66.8" fill="#fff" stroke="#b4b4b4" stroke-width="0.7"/><g stroke="#1874b8" stroke-width="1" fill="none"><path d="M214.3 151.9V142.7M214.3 158.3V167.8M212.5 142.7H216.1M212.5 167.8H216.1"/><circle cx="214.3" cy="130.2" r="2.1"/><circle cx="214.3" cy="140" r="2.1"/><circle cx="214.3" cy="140.7" r="2.1"/><circle cx="214.3" cy="169.1" r="2.1"/><circle cx="214.3" cy="170.6" r="2.1"/><circle cx="214.3" cy="173.5" r="2.1"/><circle cx="214.3" cy="177.3" r="2.1"/><circle cx="214.3" cy="186.3" r="2.1"/></g><path d="M210.6 151.9H218V154.7L216.6 155.1L218 155.4V158.3H210.6V155.4L212 155.1L210.6 154.7Z" fill="#1874b8" stroke="#1874b8" stroke-width="0.5"/><g stroke="#ff7f0e" stroke-width="1" fill="none"><path d="M227.7 158.3V139.5M227.7 173.3V186.8M225.9 139.5H229.5M225.9 186.8H229.5"/><circle cx="227.7" cy="130.7" r="2.1"/><circle cx="227.7" cy="133.3" r="2.1"/></g><path d="M224 158.3H231.4V162.6L230 165.9L231.4 169.2V173.3H224V169.2L225.4 165.9L224 162.6Z" fill="#ff7f0e" stroke="#ff7f0e" stroke-width="0.5"/><g stroke="#a00000" stroke-width="1" fill="none"><path d="M241.4 162.2V142.9M241.4 178.9V187.2M239.6 142.9H243.2M239.6 187.2H243.2"/></g><path d="M237.7 162.2H245.1V167.5L243.7 171.2L245.1 174.9V178.9H237.7V174.9L239.1 171.2L237.7 167.5Z" fill="#a00000" stroke="#a00000" stroke-width="0.5"/><path d="M250.1 187.2h2.8M250.1 169.5h2.8M250.1 151.9h2.8M250.1 134.2h2.8M214.3 194.2v2.8M227.7 194.2v2.8M241.4 194.2v2.8" stroke="#000" stroke-width="0.7" fill="none"/><g font-size="7.6"><text x="255.9" y="190.1">0</text><text x="255.9" y="172.4">25</text><text x="255.9" y="154.8">50</text><text x="255.9" y="137.2">75</text><text x="214.3" y="205.2" text-anchor="middle">iso</text><text x="227.7" y="205.2" text-anchor="middle">dc</text><text x="241.4" y="205.2" text-anchor="middle">clvd</text></g></g>
<g transform="translate(0 221.2)">
<text x="3.8" y="12.5" font-size="9.3">Stage C</text>
<g transform="translate(113.0 108.8)"><path d="M0 -81L-16.2 -64.8L0 -64.8L18 -72ZM0 81L16.2 64.8L0 64.8L-18 72Z" fill="#8c8c8c"/><path d="M0 72.5H8.1M0 64.5H16.2M0 56.5H24.3M0 48.5H32.4M0 40.5H40.5M0 32.5H48.6M0 24.5H56.7M0 16.5H64.8M0 8.5H72.9M0 -8.5H-72.9M0 -16.5H-64.8M0 -24.5H-56.7M0 -32.5H-48.6M0 -40.5H-40.5M0 -48.5H-32.4M0 -56.5H-24.3M0 -64.5H-16.2M0 -72.5H-8.1M0 4.5H76.95M0 12.5H68.85M0 20.5H60.75M0 28.5H52.65M0 36.5H44.55M0 44.5H36.45M0 52.5H28.35M0 60.5H20.25M0 68.5H12.15M0 76.5H4.05" fill="none" stroke="#525252" stroke-width="0.62"/><path d="M0 72.5L-8.53 76.74M0 64.5L-18 72M0 56.5L-28.59 66.71M0 48.5L-40.5 60.75M0 40.5L-54 54M0 32.5L-69.43 46.29M0 24.5L-87.23 37.38M0 16.5L-108 27M0 8.5L-40.5 10.12L-91.12 10.12M0 -8.5L40.5 -10.12L91.12 -10.12M0 -16.5L108 -27M0 -24.5L87.23 -37.38M0 -32.5L69.43 -46.29M0 -40.5L54 -54M0 -48.5L40.5 -60.75M0 -56.5L28.59 -66.71M0 -64.5L18 -72M0 -72.5L8.53 -76.74" fill="none" stroke="#525252" stroke-width="0.85"/><path d="M-16.02 71.21L-93.37 23.94L-92.53 21.81L-14.58 -64.8M-14.09 70.43L-79.79 21.16L-80.4 19.5L-12.96 -64.8M-12.19 69.68L-68.6 17.3L-67.45 15.36L-11.34 -64.8M-10.34 68.94L-56.55 15.03L-56.7 13.5L-9.72 -64.8M-8.53 68.21L-46.19 11.71L-45.56 10.12L-8.1 -64.8M-6.75 67.5L-35.56 9.88L-35.84 8.59L-6.48 -64.8M-5.01 66.8L-26.1 7.05L-26.04 5.79L-4.86 -64.8M-3.31 66.12L-17.01 4.48L-16.86 3.28L-3.24 -64.8M-1.64 65.45L-8.3 2.13L-8.2 1.04L-1.62 -64.8M1.62 64.8L8.2 -1.04L8.3 -2.13L1.64 -65.45M3.24 64.8L16.86 -3.28L17.01 -4.48L3.31 -66.12M4.86 64.8L26.04 -5.79L26.1 -7.05L5.01 -66.8M6.48 64.8L35.84 -8.59L35.56 -9.88L6.75 -67.5M8.1 64.8L45.56 -10.12L46.19 -11.71L8.53 -68.21M9.72 64.8L56.7 -13.5L56.55 -15.03L10.34 -68.94M11.34 64.8L67.45 -15.36L68.6 -17.3L12.19 -69.68M12.96 64.8L80.4 -19.5L79.79 -21.16L14.09 -70.43M14.58 64.8L92.53 -21.81L93.37 -23.94L16.02 -71.21" fill="none" stroke="#505050" stroke-width="0.9"/><path d="M0 -81L108 -27L0 81L-108 27ZM0 -81V81M-81 0H81M-108 27L108 -27" fill="none" stroke="#000" stroke-width="1.6" stroke-linejoin="round"/>
<g fill="none" stroke-linecap="round" stroke-width="3.5"><path stroke="#440154" d="M79.8 -38.9h0M84.4 -12.5h0M73.3 -0.3h0M78.5 -26.4h0M78.3 -21.6h0M-66.8 -9.2h0M-63.7 -6.1h0M83.1 -28.7h0M82.7 -7h0M-69.9 44.7h0M-76.8 23.9h0M-100.7 28.6h0M-96.3 19.6h0M-86.5 15.4h0M-72.8 39.3h0M-60.4 9.4h0M67.4 4.7h0M-69.8 25.9h0M-82.9 15.5h0M-87.7 32.2h0"/><path stroke="#46085c" d="M57.5 -51h0M69.8 -25.4h0M60 -30.8h0M57.6 -34.7h0M68.9 -25.8h0M70.6 -29.2h0M58.4 -9h0M55.1 -23.4h0M67.5 -29.6h0M46.4 -5h0M45.7 5.1h0M54.6 -23.5h0M60.6 -26.3h0M62.8 -10.4h0M-42.4 -0.8h0M58.7 -10.3h0M58 -36.6h0M-56.5 40.8h0M52.4 19.9h0M-57.5 34.6h0M-51.7 21.4h0M-58.7 36.4h0M-57.1 29.3h0M47.3 15.3h0M-57.4 36.7h0M48.9 19h0M45.2 5.9h0M-48.3 9.4h0"/><path stroke="#471063" d="M50.6 -50.7h0M52.1 -45.2h0M54.1 -45.3h0M48.9 -54.9h0M55.9 -45h0M52 -53.8h0M-50.3 -28.6h0M55.2 -34.7h0M49.9 -52.8h0M50.1 -20.8h0M-51 52.2h0M-55.3 43h0M-48.5 27.3h0M48 27.7h0M-39.2 14.8h0M-46.7 24.9h0M-52.2 38.3h0M-38.8 0h0M43 17.3h0"/><path stroke="#48186a" d="M48.7 -40.6h0M44.1 -55.7h0M47.2 -55.7h0M48.4 -52.9h0M-47.6 -24.2h0M33 -11.7h0M19.1 -6.6h0M36.6 -12.5h0M48.1 -30.1h0M26.3 -8.6h0M45.2 -22h0M48.6 -47h0M38.7 -15.3h0M21.7 -3.3h0M-42.6 -13.7h0M43.5 31.4h0M-49.7 33.9h0M33.5 10.1h0M44 33.1h0M-47.8 51.9h0M44.5 29.3h0M-35.3 17h0M42.8 21h0M45.5 32.6h0M-40.7 18.9h0M-23.6 5.2h0M-29.2 9.8h0"/><path stroke="#481f70" d="M-47.2 -29.7h0M48.1 -38.6h0M27.5 -11.9h0M44.3 -27.8h0M24.9 -8.9h0M23.4 -8.2h0M6.3 2.3h0M-34.4 -8h0M42.7 34.6h0M41.9 30.6h0M42.8 31.3h0M42.6 34.5h0M-44.3 31.9h0M-44.2 55.4h0M-48.4 43.1h0M-46.9 47.9h0M-43.1 31.6h0M-47.4 46.2h0M-46 50.5h0M-6 71.7h0M-45.2 56.7h0M24.2 6.4h0M-45.4 54h0"/><path stroke="#482576" d="M-46 -31.4h0M-45.7 -32.1h0M43.9 -42.2h0M35 -20.3h0M43.4 -31.1h0M-27.4 -5.1h0M41.9 -25.9h0M21.4 7.6h0M24.1 -13.5h0M39.3 -24.8h0M30.2 -15.3h0M40.8 38.6h0M40 36.7h0M-46 43.2h0M-43 54.6h0M-42 57.1h0M-42.9 51.6h0M-35.3 22.7h0M-45.2 40h0M-44 41.7h0M-38.6 28.7h0M-44 51.5h0M-45.4 42.6h0M-44.8 39h0M-37.1 26.7h0M-45 43.9h0M-40.2 31.2h0M25.3 9.4h0M-40.9 57.9h0"/><path stroke="#472d7b" d="M-44.1 -29.1h0M43.4 -41.8h0M41.9 -44.9h0M42 -45.7h0M42.8 -38.8h0M43.2 -43.3h0M40.1 -51h0M36.6 -56.6h0M42.3 -36h0M42.4 -38.9h0M42.8 -34.4h0M43 -39.2h0M-44.1 -25.2h0M28 -62.2h0M22.1 9.8h0M40.5 -28.5h0M41.3 -32.1h0M18 -12.8h0M36.3 -56.7h0M-37.7 -13.8h0M39.2 38.9h0M-35.4 58.9h0M-43.2 44.2h0M-35.7 59.3h0M36.9 25h0M-42 49.6h0M-43.4 48.9h0M-35.8 59.6h0M39.5 34h0M-39.7 30.8h0M-36 28.2h0M-11.6 10.4h0M-22.8 16.3h0M-29.2 20.1h0M-13 11.8h0M-15.3 68.2h0"/><path stroke="#46337f" d="M-42.3 -25.9h0M41.6 -39.6h0M38.7 -49.7h0M40.4 -37.2h0M-3.8 -7.1h0M-39.3 -17.9h0M-4.4 -6.4h0M32.9 -21.7h0M37.9 34.1h0M36.1 27.5h0M-39.9 49.2h0M-41.3 46.8h0M-39.2 49.3h0M-40.6 48.4h0M-40.7 49.7h0M5.4 66h0M-38.1 35h0M-31.9 24.1h0M6.9 8.7h0M36.1 26h0"/><path stroke="#443983" d="M-42.5 -33.8h0M-42.3 -31.7h0M-41.8 -27.2h0M-39.2 -20.8h0M38 -47.3h0M37.3 -48.3h0M33.2 -55.9h0M39.3 -44.6h0M39.5 -42.7h0M40.3 -41h0M37.1 -48.3h0M-42.4 -29.3h0M0 -8.9h0M3.4 -10.5h0M33.7 -24.9h0M-41.7 -26.9h0M37.7 -30.6h0M25 -19h0M23.3 -18.7h0M36.5 40.3h0M36.9 34.6h0M36.7 35.6h0M34.3 44.9h0M35.4 42.2h0M-35.8 54.8h0M-38.3 45.2h0M-37 50.2h0M-38.5 42.1h0M-38.8 47.3h0M-33 57.9h0M-35.8 54.6h0M-38.4 40.7h0M-28.3 23.8h0M-30.3 25.9h0M-37 51.9h0M-37.8 38h0M-38.8 39.1h0M33.8 23.1h0M-38.7 41.1h0"/><path stroke="#424086" d="M-41.5 -32.7h0M38.4 -40.6h0M38.1 -39.2h0M35.6 -32h0M26.3 -21.9h0M34.4 -28.6h0M35.9 -33.1h0M35.8 -32.1h0M-39 -22.6h0M-41.7 -35.8h0M36.9 -35.2h0M33.6 44.1h0M35.1 41.5h0M-35.2 52.2h0M-37.6 42.1h0M-20.3 62.9h0M-15.9 63.2h0M-37.6 46.7h0M-36.8 42.3h0M-5.9 13.7h0M-34.4 32.4h0M-32.6 29.5h0M-36.8 43.4h0M-33.3 32.2h0M14.6 11.7h0M-34.7 51.6h0M-9.2 14.5h0M-25.1 23.3h0M-25.2 22.1h0"/><path stroke="#404688" d="M-40.1 -27.3h0M-40.3 -29.3h0M-41 -36.9h0M35.8 -36.2h0M36.6 -43.8h0M36.4 -41.7h0M33.6 -49.3h0M34.5 -33.2h0M34.4 -32.3h0M35.2 -46.2h0M28.3 -56h0M-40.4 -29.3h0M35.9 -37.8h0M-23.3 -10.7h0M-32.5 -16.7h0M17.7 -60h0M34.7 32.8h0M33.8 28.8h0M-35.6 47.3h0M-27.9 27.2h0M33.8 40.9h0M-29.6 57h0M-24.5 23.1h0M-33 32.9h0M33.2 27.3h0M-36.1 45.5h0M-34.1 49.9h0"/><path stroke="#3e4c8a" d="M-40 -33.8h0M-40.2 -36h0M-39.9 -39h0M-39.7 -38h0M35 -39.3h0M35.7 -41.8h0M34.9 -44.5h0M33.1 -47.4h0M33.5 -47.4h0M35.4 -42.1h0M35.5 -38.6h0M27.5 -24.9h0M2.9 -14.2h0M-40.3 -34.3h0M24 -56.9h0M32 -29.3h0M30.4 -29h0M-1.6 -12.5h0M34.6 -43h0M35.3 -42.7h0M19.6 -21.9h0M-0.3 -61.7h0M33.6 36.1h0M-30 32.1h0M32.9 30.7h0M-34.2 44.3h0M-34 48.2h0M-33.3 39.1h0M-30 53.2h0M-28 55.3h0M-33.6 46.1h0M33.2 38.4h0M-33.9 47.1h0M33 42.3h0M-28.7 30.1h0M-33.8 39.9h0M-33.8 48.7h0M-34.4 42.2h0M-34 45.2h0M-33.2 46.8h0M-25.6 25.6h0M-29.6 30.7h0"/><path stroke="#3b528b" d="M-38.4 -28.5h0M-39.1 -34.2h0M31.2 -48.3h0M-38.5 -38.6h0M-38.3 -40h0M-38.8 -31.3h0M27.4 -27.5h0M29 -51.8h0M34.2 -39.7h0M32.9 -43.9h0M30.7 -50.4h0M32.1 -49h0M32.8 -45.6h0M30.6 -50.2h0M33 -46.2h0M29.2 -29.7h0M-38.3 -29.5h0M33.3 -36.6h0M31.6 -32.1h0M30.7 25.8h0M32.1 30.6h0M32.4 35.6h0M31.9 41.3h0M-27.5 55.2h0M-21.6 57.9h0M-29.5 52.8h0M32.3 37.9h0M-33.3 41.8h0M-32.3 41.5h0M-32.7 43.2h0M-15.1 60.7h0M-30.5 51.4h0M-32.8 42.4h0M-15.5 60.8h0M-30.6 49.5h0M-19.3 59.9h0M32.8 39.4h0M-4.3 61.9h0M29.1 24.1h0M-13.1 18.9h0"/><path stroke="#38588c" d="M-37.6 -27.8h0M-38.1 -31.5h0M-37.6 -29.4h0M-38 -39.7h0M26.1 -52.8h0M28.1 -51.4h0M33.1 -40.9h0M28.7 -50.1h0M31.4 -36.8h0M31 -32.9h0M25.6 -52.3h0M32.3 -41h0M27.8 -50.5h0M32.6 -38.9h0M23.5 -53.9h0M-35.6 -24h0M17.5 -23.3h0M31.3 -35.4h0M32.7 -37.6h0M-20.5 -12.5h0M25.1 -28h0M30.4 28h0M30.8 29.9h0M30.2 42.9h0M30.8 41.7h0M-29.5 35.4h0M-31.2 41.5h0M-30.8 42.9h0M-31.7 44.1h0M-23.1 56.4h0M-23.3 56.5h0M-29.7 49.7h0M-30.5 49.3h0M-28.5 52.7h0M-19.9 24.4h0M-8.7 18.7h0M-29.7 35.4h0M22.7 19h0M30.3 27.3h0M16.5 57h0M-30 37.3h0"/><path stroke="#365d8d" d="M29.6 -35.5h0M-37.5 -32.1h0M-37 -29.5h0M-37.6 -36.4h0M-37 -39.5h0M-37.9 -34.5h0M20.7 -53.9h0M31.2 -39.2h0M26.2 -51.3h0M29.6 -45h0M20.6 -54.2h0M31.6 -38h0M29.2 -47.1h0M31.1 -36.4h0M16.7 -55.6h0M29.2 -34.1h0M30.9 -40.6h0M30.8 -39.8h0M19.5 -24.9h0M-36.9 -39.2h0M17.1 -24.1h0M13.6 -22.4h0M-18.6 -12.3h0M-37.6 -33.4h0M13.3 -22.4h0M29.5 43.3h0M29.9 42.1h0M30.4 31.7h0M31.4 34.6h0M31.2 32.5h0M29.8 43.1h0M-30 42.6h0M29.5 43.7h0M31.1 36h0M-29.2 38.5h0M-29.5 48.3h0M-30.5 43.3h0M-30 42.1h0M-29.7 42.3h0M-2.7 17.6h0M30.9 30.9h0"/><path stroke="#33638d" d="M-36.5 -39.8h0M-36 -42.2h0M-37.2 -37.3h0M-35.8 -41.6h0M29.2 -39.1h0M29.3 -45.7h0M30.2 -41.7h0M27 -48.9h0M29.1 -43h0M13.4 -55h0M29.5 -38.3h0M27.7 -34.8h0M26.2 -49.9h0M28.1 -34.6h0M14.3 -54.5h0M26.4 -48.2h0M27.2 -47h0M24.7 -50.8h0M29.3 -39.7h0M30.2 -42.9h0M28.9 -43.1h0M-15.9 -13.2h0M-23 -15h0M28.4 -46.2h0M-25.3 -15.6h0M-22.3 -14.2h0M24.2 50h0M29.9 35.8h0M24.8 22.9h0M29.1 41.4h0M29.4 41.3h0M29.7 38.8h0M-24.2 52.5h0M-28.3 44h0M-25.9 50.7h0M-25.3 51.8h0M-26.7 51h0M-26.7 49.3h0M-26.1 34.4h0M-29.1 44.8h0M28.7 44.1h0M-28.3 46.5h0M28 26.4h0M-19.6 26.2h0M-28.3 45.7h0M-23 29.9h0"/><path stroke="#31688e" d="M-34.8 -27.5h0M-36.2 -34.2h0M-36 -30.9h0M26 -46.5h0M22.4 -30.7h0M28.4 -38.7h0M26.9 -36.4h0M18.8 -51.8h0M23.6 -31.5h0M26.7 -45.7h0M28 -36h0M23.5 -49h0M28.2 -40.3h0M23.7 -49.7h0M23.7 -31.8h0M23.2 -30.7h0M-15.5 -13.4h0M0.5 -17.6h0M25.2 -32.2h0M27.6 -35.4h0M28.1 -38.4h0M25.5 -47.3h0M28.5 31h0M20.7 21.3h0M28.5 30h0M-23.1 31.7h0M24.5 49h0M29.1 35.6h0M29.2 37.6h0M29.3 31.9h0M29.7 34.4h0M27.5 28.1h0M-6.4 58.4h0M-20.5 54h0M-23.2 51.9h0M-23.5 31.6h0M-28 43h0M-26 36.1h0M-26.9 45.6h0M-1.2 58.8h0M-25.8 49.5h0M-24.9 49.9h0M-27.4 46.6h0M-28 40.7h0M26.5 26.9h0M0.9 18.4h0M-22.9 30.7h0M-26.2 48.5h0"/><path stroke="#2e6d8e" d="M-35.5 -36.8h0M-34.8 -40.1h0M-35.2 -31.5h0M-35.8 -33.1h0M-33.7 -44.5h0M-35.4 -38.1h0M-35.7 -32.2h0M-34.9 -30.4h0M-35.3 -31.9h0M-33.4 -44.4h0M21.7 -30.6h0M27.3 -40.4h0M27.2 -37.8h0M10.6 -24.3h0M26.2 -40.7h0M26.9 -40.8h0M26.8 -42.2h0M27.3 -41.7h0M27 -41h0M24.6 -34.8h0M23.9 -48.4h0M26.3 -40h0M25.7 -43.5h0M24.2 -47.7h0M26.7 -37.5h0M27.6 -39.7h0M18.6 -50.6h0M26.4 -44.8h0M-7.4 -15.2h0M9.3 -23.1h0M2.4 -19.3h0M-36 -34.6h0M24.9 -47.1h0M15.9 -27.4h0M24.3 -34.2h0M-10.6 -58h0M16.6 -27.9h0M6.4 -21.7h0M0.1 -17.7h0M3.9 -20.2h0M12.8 -53.1h0M26.9 -37h0M27.1 -37.4h0M26.4 -41.4h0M15 -26.2h0M-18.2 -14.5h0M26.4 28.2h0M25.3 46h0M28.6 33.9h0M-25.5 46.5h0M22.9 24h0M24.7 25.4h0M24.8 26h0M28.6 33.4h0M-25.4 48.2h0M-21.2 30.5h0M28.3 39.3h0M-25.8 47.4h0M-20.7 52.2h0M-25.2 48.4h0M-25.7 39.8h0M-26.7 40h0M-26 43h0M-26.7 42.6h0M15.5 19.8h0M-22.6 51.6h0M26.3 45.2h0M-26.6 39.6h0M27.8 29.8h0M25.6 46.5h0M-18.9 28.4h0M-24.8 48.9h0M-4 20h0M4.8 18.6h0"/><path stroke="#2c728e" d="M-33.1 -44.3h0M-34.5 -31.2h0M-35.1 -37.7h0M-34.8 -32.5h0M20.1 -49.2h0M-33.8 -42.7h0M-34.4 -40.3h0M-34.9 -34.6h0M-35.2 -37.5h0M25.6 -42.7h0M2.6 -19.8h0M23.2 -33.9h0M25 -41.6h0M25.1 -37.9h0M24.5 -41.5h0M24.1 -45h0M17.8 -29.6h0M20.6 -49.1h0M25.9 -42h0M24.9 -38.8h0M24.3 -37.4h0M24.8 -37h0M25.3 -39.2h0M22.4 -34.3h0M20.8 -48.1h0M19.2 -30.3h0M19.9 -49.8h0M21.7 -32.4h0M24.8 -37.7h0M-3 -17.5h0M-34.8 -36.1h0M-6.7 -16.2h0M24.4 -36.1h0M-34.8 -32.9h0M0.1 -18.7h0M-30.3 -48.7h0M24 -34.5h0M25.8 -38.1h0M27.2 40.1h0M22 48.5h0M26.2 28.7h0M26.9 31h0M25.6 45.1h0M27.8 34.3h0M27.2 31h0M-24.8 39.7h0M-23.2 34.1h0M-23.3 47.8h0M-18.4 28.4h0M-25.7 43.1h0M-25.6 42.6h0M-24.5 47.4h0M-25.8 43.1h0M-25.6 44h0M-22.4 50.5h0M-23.5 48.3h0M-16.3 54.2h0M-24.4 38.7h0M-21.5 50.9h0M-18.5 29.4h0M-24.1 46.2h0M27.8 32.8h0M12.3 54.5h0M27.6 32h0M-21 31.4h0M-3.3 20.9h0M-19.3 52.4h0M-22.6 49.3h0M-17.2 27.9h0M3.8 56.7h0"/><path stroke="#2a778e" d="M-27.2 -51.2h0M18.4 -31.5h0M-33.6 -28.8h0M-34.3 -37.7h0M-33.4 -41.1h0M17.9 -49.3h0M22.1 -44.7h0M16.5 -49.3h0M23.3 -44.5h0M23.3 -40.3h0M23.4 -42.3h0M15.4 -50.6h0M18.6 -48.4h0M7.2 -53.5h0M18.2 -48.6h0M23.3 -43.3h0M18.5 -31.8h0M23.1 -42.2h0M-34.4 -34h0M18.7 -31.5h0M22.1 -46.2h0M22.4 -44.3h0M22.6 -37.8h0M17.3 -30.2h0M-2 -55.4h0M23.5 -36.9h0M15.8 -29.6h0M-25.3 -19.2h0M18.4 -31.3h0M-22.7 -54.4h0M-16.3 -15.5h0M26.5 41.5h0M-18.2 30.2h0M27.2 38.6h0M27.3 34.2h0M23.7 45.6h0M27.3 35.6h0M-17.5 29.4h0M27.1 36h0M-24.4 39.6h0M22.4 25.5h0M26.7 31.5h0M25.8 30.5h0M25.2 43.1h0M25.5 42.3h0M24.2 27.6h0M26.6 40.7h0M23.1 47.3h0M-23.9 39.5h0M-23.8 42.5h0M-18.4 52.2h0M-23.1 37h0M-18.8 51.9h0M-23.4 37.4h0M-22.3 48.4h0M-22.9 46.2h0M-24.4 41.8h0M-23.9 45.2h0M-20.5 50.1h0M-20.7 50.7h0M-21.1 49.7h0M-23.7 39.9h0M26.3 32.2h0M-22.6 36.7h0M27 35.5h0M10 19.8h0M20.8 23.7h0M-18.4 52.3h0M-23.1 38h0M-24 45.2h0"/><path stroke="#287c8e" d="M-33.5 -39.5h0M-33.4 -37.7h0M-33.7 -37.8h0M17.7 -33h0M20.3 -43.7h0M21.5 -43h0M19.1 -34h0M11.7 -50.9h0M21.9 -39.3h0M21.2 -38.3h0M20.7 -44.1h0M19 -34.7h0M21.7 -43.1h0M17.5 -48.1h0M21.6 -42.6h0M14.3 -49.8h0M19.6 -46.8h0M14.1 -49.5h0M10.8 -27.5h0M-32.4 -28.9h0M18.4 -32.5h0M20 -45.1h0M-32.6 -42.4h0M3 -53.5h0M2.1 -21.5h0M26.6 37.1h0M26.4 37.6h0M26.4 37.4h0M24.2 29.4h0M26.1 36.7h0M24.3 42.8h0M19.3 24h0M-22.9 39h0M-20.9 47.3h0M-22.4 36.5h0M-22.8 45.4h0M-22.6 46.3h0M-20.4 33.2h0M-16 52.3h0M-23.5 41.1h0M-19.8 32.8h0M-23.1 38.7h0M-13 26.4h0M1.4 21h0M-18.3 30.7h0M-20.9 48h0M-15.2 28.4h0M-21.9 47.3h0M-20.9 34.5h0M-13.9 27.1h0M-21.6 36.9h0M-22 37.2h0"/><path stroke="#26828e" d="M-33.1 -36.3h0M20.2 -37.1h0M-32.7 -32.5h0M-30 -25.1h0M8.1 -51.7h0M-32.9 -36.3h0M18.4 -43.8h0M2.8 -53.1h0M19.5 -42.4h0M20.2 -37.5h0M19.9 -36.6h0M17.4 -46.9h0M18.7 -36.8h0M19.8 -36.1h0M19.5 -43.4h0M13.3 -48.8h0M19.9 -39.8h0M-7.7 -17.9h0M8.2 -51.2h0M-33.2 -34.5h0M4.4 -23.3h0M8.4 -26.5h0M21.5 27.2h0M11.9 21.5h0M25.4 34.6h0M22.1 46.1h0M24.9 39.2h0M22.9 43.8h0M19.8 48.1h0M24.6 32.8h0M24 41.7h0M-20.4 47.4h0M-17.8 31.7h0M-22.2 41.1h0M24.6 40.6h0M-21.5 44.7h0M-21.4 38.2h0M-18.3 49.6h0M-21 36.2h0M-11.3 53.6h0M-21.8 39.2h0M-21.8 45.3h0M-21.1 45.2h0M-5 54.6h0M-21.5 39.8h0M-2.7 54.9h0M-11.7 27h0M25.3 35.7h0M12.8 52.4h0M-16.1 30.5h0M14.6 51.7h0M24.7 32.8h0M15.4 22.8h0M-4.5 23.6h0"/><path stroke="#24868e" d="M-31.4 -42.5h0M17.8 -37.8h0M14.9 -33.6h0M-31.4 -42.5h0M-31.8 -29.9h0M-31.8 -30.6h0M-31.8 -40.7h0M16.2 -45.4h0M18.5 -43.4h0M18.6 -38h0M17.1 -35.5h0M18.2 -41.6h0M14.8 -46.6h0M17.6 -43.5h0M18.2 -39.1h0M18.9 -39.3h0M10.9 -49.5h0M12.1 -48.9h0M17 -44.1h0M18.1 -43h0M14.2 -47.8h0M-7.1 -54.6h0M18.2 -38.6h0M18.4 -40.3h0M-16.9 -17.6h0M13.1 -47.6h0M-28.7 -24.6h0M17.4 -44.3h0M18.7 -39.7h0M6.1 -25.4h0M15.7 -33.8h0M24.5 39.6h0M24.4 36.9h0M24.1 39h0M-14 29.3h0M24.6 35.4h0M24.6 33.1h0M14 50.8h0M24.3 39.1h0M23.8 30.8h0M24.6 33.5h0M24.5 34.4h0M25 35h0M24.5 36.5h0M24.2 35.3h0M19.4 46.8h0M22.9 30.2h0M24.5 38.4h0M-20 37.4h0M-19.5 37h0M-7.9 53.5h0M23.8 41.8h0M24.7 39.4h0M-21.2 41.2h0M24.6 33.8h0M-18.9 34.4h0M-20.8 39.4h0M-20.9 41.2h0M21.5 28.2h0M-20.7 38.8h0M19.7 47h0M-15.6 49.9h0M23.5 42.6h0M23.2 42.3h0M-20.7 45h0M-18.5 47.5h0M-20.3 39.2h0M-20.3 37.9h0"/><path stroke="#228b8d" d="M16.7 -37.3h0M-31.5 -31.2h0M-32.1 -34.5h0M-32.2 -35.8h0M-32 -37h0M-29.5 -26.9h0M14.3 -35.1h0M7.5 -27.6h0M-31.8 -33h0M14.9 -35.2h0M17.5 -39h0M10.6 -29.8h0M16.8 -37.2h0M17 -42.4h0M14.7 -44.2h0M15.9 -36.5h0M12.7 -46.6h0M11.9 -47.1h0M6.3 -50.5h0M17.2 -38.6h0M14.9 -35.6h0M9.4 -48.7h0M16.7 -41.6h0M16.7 -41.9h0M10.5 -47.9h0M15.4 -43.7h0M11.9 -46.7h0M16.6 -40.9h0M15.7 -35.8h0M14.5 -44.5h0M15 -45.1h0M17.3 -40.5h0M15.9 -38.3h0M17.3 -41.5h0M12.7 -46.7h0M13 -46.2h0M16.5 -40h0M16.7 -38.5h0M15.4 -34.4h0M10.4 -30.5h0M15.5 -34.6h0M16.1 -36.2h0M-4.2 -53.4h0M16.9 -39h0M-31.9 -32h0M5.6 -26.1h0M3.4 -24.7h0M11.6 -48.1h0M0.6 -22.2h0M-13.5 -17.6h0M-20.6 -18.8h0M-19.3 45.5h0M22.7 32.2h0M23.5 32.5h0M16.4 25h0M20.9 45h0M23.1 32.5h0M19.3 45.9h0M22.3 42.2h0M18.2 47.4h0M10.4 23.3h0M24.1 36.4h0M-9.4 26.8h0M23.8 35.4h0M-10.7 27.5h0M21.6 43h0M-17.6 34.2h0M-11.4 51.9h0M-18.2 45.7h0M-18.6 45.5h0M-17.9 34.7h0M20.9 28.1h0M-19.2 42.6h0M-19.7 43.8h0M-5.7 53.2h0M-13.5 50.7h0M-19 43.7h0M-10.3 27.1h0M-5.1 53.5h0M15.5 49.4h0M21.2 44.6h0M-17.9 45.9h0M-20.1 39.9h0M-15.3 49.7h0M-19.7 41.8h0M-19.3 41.7h0M1.4 54h0"/><path stroke="#21918c" d="M0.5 -51.7h0M15.7 -38.9h0M-29.9 -43.1h0M-31.1 -40h0M-30.8 -31.6h0M13.7 -34.3h0M-29.6 -42.9h0M-29.6 -27.5h0M-31.1 -31.1h0M-30.1 -42h0M-31.4 -34.7h0M12.5 -33.8h0M-30.4 -41.4h0M-29.1 -27.5h0M-31 -38.7h0M13.8 -44.8h0M14 -41.9h0M12.8 -45h0M-0.1 -52h0M13 -34.3h0M15.4 -41.8h0M10.2 -47.2h0M12.3 -45.8h0M14.6 -40.5h0M11.9 -45.7h0M10 -46.9h0M14.5 -41.3h0M9.4 -47.6h0M9.5 -47.3h0M14.7 -36.2h0M7.3 -28.3h0M14.5 -40.1h0M9 -48.1h0M22.6 34.8h0M23.3 37.6h0M14.3 24.6h0M22.1 41.6h0M21.7 41.9h0M19.9 44.5h0M23.1 38.5h0M22.8 38.3h0M23 35.2h0M22.4 40.1h0M21.9 32.2h0M20.3 28.5h0M23.4 35.6h0M22.6 37h0M22.5 33.8h0M20.9 30.2h0M-14.2 49.1h0M-15.1 48.4h0M-16.8 45.6h0M-16.7 35.1h0M-16.6 35.3h0M-16.8 35.1h0M-19 42h0M-18.9 40.4h0M-17 34.4h0M-10.2 28.5h0M20.4 43.6h0M-17.5 44.7h0M-16.2 46.8h0M-11 51.2h0M-15.5 48.2h0M-18.2 41.4h0M-17.7 45.4h0M0.6 23.9h0M22.7 39.5h0M-12.1 29.4h0M-8.7 27.6h0"/><path stroke="#1f958b" d="M-30.9 -37.9h0M-27.3 -46.5h0M-30.8 -38.3h0M-30.6 -38.8h0M14.1 -41h0M13.2 -36.7h0M-29.1 -28.2h0M12.4 -37h0M13.2 -39.4h0M12.9 -37.2h0M7.8 -47h0M13 -36.7h0M2.2 -50.3h0M12.4 -35.1h0M12.6 -36h0M-28.5 -27.5h0M11.1 -33.6h0M3.7 -49.4h0M4.1 -49.9h0M4.2 -26.6h0M7.4 -48.1h0M-23.6 -50.2h0M-16.4 -19.4h0M-5.8 -52.7h0M21.8 32.7h0M0.3 24.9h0M-16.9 37.5h0M22 37.6h0M21.9 38.4h0M13.7 25.1h0M19.3 28.8h0M-5.7 27h0M21.4 32.6h0M20.1 30h0M-3.9 52.1h0M-17 36.2h0M-15.9 35.9h0M-16.4 35.9h0M-11.7 49.3h0M-16.3 44.7h0M-17.3 44.1h0M-5.2 52.2h0M-12.7 48.6h0M-14 48h0M-9.9 29.1h0M-10.2 29h0M-15.3 45.8h0M-0.9 25.2h0M-12 30.4h0M21.3 41.5h0M20.1 30.9h0M-12.8 31.3h0M16.7 27h0"/><path stroke="#1f9a8a" d="M-29.8 -40.6h0M4.2 -27.7h0M12.4 -37.4h0M12.2 -38.5h0M-25.7 -24.7h0M-30.2 -37.9h0M-29.5 -40.2h0M-29.9 -31.9h0M-30.2 -35.8h0M-28.2 -27.3h0M-29 -42.1h0M4.8 -48.2h0M8.7 -32.3h0M12.1 -40h0M12 -40.8h0M10 -44.1h0M12.3 -41h0M6.1 -47.1h0M11.3 -37.4h0M3.6 -48.5h0M10.2 -34.2h0M2.1 -25.8h0M1.8 -49.5h0M10.1 -43.8h0M12.1 -42.1h0M11.2 -35.9h0M6 -47.5h0M-6.8 -21.1h0M5.9 -47.9h0M-27.9 -27.5h0M-1.2 -23.5h0M-12.1 -53.2h0M-30.1 -35.9h0M4.9 -28.2h0M11.4 -43.1h0M12.6 -39.7h0M18.8 30.1h0M19.8 41.4h0M19.4 42.1h0M-13 32.2h0M16.8 27.7h0M16.7 45.4h0M20.2 31.6h0M-0.6 25.5h0M21.1 34h0M20.3 40.3h0M20.4 39.4h0M21.3 37.7h0M20.6 40.4h0M2.2 24.6h0M-15.9 40.5h0M-11.6 48.5h0M21.1 36.1h0M-10 49.8h0M-4 51.6h0M7.2 50.9h0M-16.7 42.6h0M-16.1 41.8h0M-10.7 48.8h0M-6.6 28h0M-16.3 40.2h0M21.4 34.9h0M11.7 48.8h0M19.5 30.4h0M-16.3 38.7h0M17.1 45.6h0M-15.8 43.6h0M-16.5 41.1h0"/><path stroke="#1fa088" d="M-26.3 -45.6h0M-28.7 -41h0M-29.7 -37.6h0M-27.4 -26.8h0M-29.1 -31.8h0M10.9 -37.9h0M7.7 -31.8h0M-29.6 -34.1h0M9.4 -34.2h0M0.5 -49.9h0M8.8 -44.8h0M7.7 -32.8h0M9.4 -42.5h0M8.5 -44.8h0M9.5 -35.8h0M10 -41.1h0M9 -43.1h0M8.7 -44.6h0M9.3 -44.2h0M2.1 -26.7h0M10.4 -41h0M10.2 -35.5h0M10.6 -36.3h0M9.8 -42.2h0M-26.7 -45h0M8 -32.7h0M-24.1 -48.5h0M10.3 -41h0M9.9 -34.7h0M-24.8 -47.5h0M-8.4 -21.2h0M1.8 -26.8h0M-9.4 -20.8h0M15.2 28.1h0M19.2 33h0M18.8 42.7h0M19 41h0M-15.1 42.3h0M20.3 34.9h0M19.8 38.2h0M20.4 36.4h0M20.2 37.5h0M17.2 30h0M20 39.9h0M-14.9 39h0M20.3 39h0M-11.9 33h0M14.3 46.9h0M18.3 43.3h0M20.1 35.3h0M-9.6 48.8h0M20.5 38h0M2.1 25.9h0M20.4 35.7h0M19.7 39.1h0M17.9 42.7h0M19.8 39h0M-15.3 43.1h0M-15.5 41.2h0M-10 31.4h0M-14.7 43.3h0M-9.9 30.7h0M-14.8 41.5h0M-11.9 47.3h0M-12.9 34.1h0M-11.4 47.1h0M-12.9 33.6h0M-14.9 43h0M-9.9 48.3h0M-8 49.3h0M-12.1 47.2h0M-10.4 47.7h0M-13.8 36.2h0M-14.8 36.2h0M-15.3 40.3h0M-10.2 31h0M12.9 47.4h0M3.2 51h0M20.4 37.1h0M20.5 37.7h0M-14.4 37.4h0M-7.7 49.4h0M7.1 50.1h0"/><path stroke="#20a486" d="M-6.4 -51.4h0M-10 -52.1h0M-14.5 -51.9h0M-25.4 -46.1h0M-29.5 -35.5h0M-27.8 -29.3h0M3.9 -29.3h0M-29.2 -39.2h0M-29 -38.5h0M-26.9 -27.7h0M-27.4 -27.9h0M-29.3 -36.5h0M8.4 -35.3h0M-28.9 -32.3h0M7.9 -42.7h0M6.3 -31.5h0M10 -39.8h0M4.7 -46.8h0M9.4 -39.7h0M9.2 -38.3h0M8.9 -42.3h0M7.4 -34h0M8.6 -41.1h0M6.6 -44.4h0M9 -35.1h0M9 -42.6h0M9 -39.8h0M4.3 -46.7h0M4.7 -46.4h0M-20.9 -49.7h0M19 35.7h0M14.8 45h0M-13.5 43.4h0M19.1 33.2h0M19 40.3h0M18.8 40.1h0M-12.3 35.1h0M18.9 34h0M15.7 44.2h0M18.4 31.8h0M-13 35.9h0M14.4 28.4h0M18.5 32.3h0M-13.8 42.9h0M-10.3 47.3h0M1.8 50.7h0M3 50.2h0M-13.1 43.1h0M-10.9 32.5h0M-14.1 39.3h0M15.5 45h0M-14.7 41.4h0M17.9 42h0M-13.6 36.1h0M-9.2 48h0M12.6 46.8h0M-13.5 37.2h0M-9 48.3h0M-12.7 44.8h0M-14.1 37.7h0M-13.1 35.5h0M-13.4 43.1h0M-14 41.7h0M-12.8 34.8h0M19.2 33.8h0M14.6 28.5h0M-3.1 49.9h0M17.9 32.4h0M-11.6 46.4h0M-0.6 27.1h0M3.5 50.2h0M-5.8 49.7h0M1 50.2h0"/><path stroke="#23a983" d="M-28.5 -39.5h0M-28.3 -32.8h0M-24.9 -25.5h0M-28 -39.9h0M8 -40.2h0M7.7 -35.8h0M-28 -39.8h0M-26.5 -44.1h0M0.7 -26.7h0M-20.2 -49.7h0M-29 -37.1h0M-28.9 -36.8h0M-28.9 -33.9h0M4.1 -30.1h0M7.2 -34h0M-28.3 -31.4h0M-28.9 -33.7h0M-28.6 -37.5h0M3.4 -45.9h0M-28.6 -39.5h0M7.4 -34.9h0M6.5 -44.1h0M8.7 -39.8h0M7.8 -41.7h0M7.5 -34.7h0M7.7 -40.5h0M-21.4 -23.3h0M-9.9 -21.7h0M14.9 29.5h0M16.3 42.7h0M18.2 37h0M9 47.9h0M16.9 32.4h0M-9.4 32.6h0M6.4 26.9h0M17.3 32.2h0M18.9 37.2h0M-11.9 44.1h0M-12.5 41.4h0M11.5 27.6h0M3.9 27.1h0M14.8 29.7h0M-12.2 37.6h0M18.7 35.2h0M15.4 44.3h0M-12.7 39.3h0M-4.8 49.2h0M-12.8 39.5h0M-11.9 36.7h0M-12.6 41.2h0M4 49.7h0M-2.5 49.6h0M-2.9 49.2h0M-13.1 40.2h0M-10.8 46.2h0M-12.8 43.6h0M8.8 26.6h0M-9.8 33.3h0M0 27.7h0M16.9 42h0M15.2 44.6h0M14.2 29.3h0M-6.7 48h0M18.5 34.6h0M-13.2 38.3h0M-12 35.4h0M6 26.9h0M-7.9 31.8h0"/><path stroke="#28ae80" d="M-28.2 -34.3h0M6.8 -38.7h0M1.8 -46.4h0M6.7 -38.2h0M7.1 -38h0M7.1 -39.7h0M-27.4 -31h0M-12.3 -21.9h0M6.8 -36.3h0M-27.1 -30h0M7.5 -40.1h0M6 -34h0M-8.1 -50.4h0M-26.5 -28.8h0M7.3 -40.3h0M7.1 -37.4h0M7 -38.2h0M4 -44.3h0M2.7 -29.6h0M7.2 -37.8h0M6.3 -36.5h0M-24.8 -26.5h0M5.9 -42.3h0M-10.1 -22.1h0M-28.2 -32.5h0M3.8 -44.4h0M-23.9 -46.5h0M2.8 -29.9h0M7 -38.1h0M-1.1 -26.8h0M-12.2 -22h0M0.6 -27.7h0M7.1 -41.4h0M14.1 43.5h0M14.8 31.4h0M14.1 30.6h0M-3.6 29.8h0M-10.4 44.1h0M11.8 28.8h0M16.2 33.3h0M17.1 39.2h0M-9.8 33.9h0M17.4 35.4h0M-8.7 46.1h0M17.2 34h0M-10.4 35.6h0M10.5 27.8h0M17.9 36h0M-9.5 34.1h0M17.3 36.3h0M15 43.1h0M17.2 37h0M16 41.9h0M-11.1 35.7h0M-11.7 36.7h0M-11.8 38.1h0M-10.2 44.3h0M-11.8 42h0M-5.4 47.7h0M-11.9 38.3h0M-10.4 43.9h0M-10.9 37.3h0M5.6 48.3h0M-7.3 32.4h0M-11.5 37.2h0M-12.3 40.6h0M-12.5 40.7h0M5.1 27.4h0M17.8 35.6h0M8.5 47.6h0M17.5 34.5h0M-7.3 32.5h0M-11.5 36.4h0M-9.5 45.8h0M1.8 49.3h0"/><path stroke="#2eb37c" d="M0.1 -27.9h0M-27.5 -36.1h0M5.5 -41.3h0M4.8 -41.4h0M5.2 -34.8h0M-26.8 -31.3h0M-26.7 -40.6h0M4.8 -41.6h0M-0.4 -28h0M5.5 -41.7h0M6 -36.8h0M-26.7 -41.2h0M-27.8 -35.4h0M-27.9 -34.5h0M0.7 -46.3h0M6.2 -40.5h0M2 -45.1h0M5.8 -41.7h0M2 -29.7h0M-4.6 -49.2h0M5 -41.1h0M5.4 -35.3h0M2.1 -30.4h0M5.6 -40h0M4.9 -41.5h0M5.7 -41.6h0M3.7 -32.9h0M4.4 -33.7h0M2.3 -44.8h0M3.5 -44.5h0M1.3 -45.5h0M5.1 -42.7h0M-0.8 -47h0M-26.6 -30.3h0M-24 -26.3h0M3.7 -31.9h0M5.9 -35.5h0M-7 -23.9h0M16.3 34.8h0M5.9 28h0M14.2 42.4h0M-10.8 39.6h0M15.1 42.1h0M15.7 40.4h0M11.9 29.7h0M12.4 30.4h0M-3.4 47.4h0M4.9 28.1h0M-10 41.5h0M-11 39.5h0M-0.7 48.5h0M-2.1 29.6h0M6.9 28.4h0M15.1 41.1h0M15.5 40.4h0M9.4 28.7h0M16.5 35.6h0M13.8 42.7h0M12.4 29.8h0M12.7 44.2h0M4.7 47.9h0M-10.6 42.9h0M-10 43.8h0M9 47h0M-11.2 39.2h0M14.3 31.4h0M-3.4 30.4h0M-11.3 39h0M-6.8 32.1h0M-9.5 35.6h0M-10.3 38.3h0M-10.1 37.2h0M10.4 45.4h0M-11.3 39.4h0M5.6 28.2h0M-4.7 47h0M-10.1 38.1h0M-5 47.6h0M-10.8 37.8h0M-9.5 42.7h0M-7.5 33h0M13.1 30.5h0M15.9 33.4h0M-6.7 32.9h0M15.3 40.3h0M7.7 28.3h0"/><path stroke="#35b779" d="M-20.5 -24.5h0M-27.1 -35.6h0M-27.3 -37.6h0M3.8 -34h0M-27 -33.2h0M-23.1 -45.9h0M-26 -41.7h0M4.2 -41h0M-25 -43.6h0M-3 -47.5h0M-20.5 -24.1h0M3.9 -41.9h0M-26.9 -37.6h0M-8.4 -49.7h0M0.9 -45.5h0M4.9 -39.7h0M4.6 -39.9h0M-15 -49.8h0M-3.2 -47.7h0M-5.8 -25.1h0M0.9 -29.6h0M4.9 -40.5h0M2.1 -30.9h0M0.8 -45.3h0M14.9 34.4h0M0.5 29.7h0M8.3 29h0M-7.7 44.2h0M-9.3 41.2h0M2.9 47.7h0M14.6 41h0M10.5 29.8h0M14.1 32.7h0M15.4 37.7h0M12 30.9h0M14.3 33.4h0M7.4 29.1h0M14.7 33.6h0M-8.4 35.5h0M0.7 47.7h0M15.2 35h0M7.8 29.2h0M14.4 33.4h0M14.7 39.8h0M-8.7 37.4h0M14.8 35.7h0M-9.8 41.3h0M-9 38.7h0M13.9 33.4h0M13 31.5h0M14.1 41.8h0M-1 47h0M-8.7 43.2h0M-9.5 37.4h0M14.9 34.7h0M-5.4 45.5h0M8.9 29.5h0M-8.3 44.2h0M-7.7 43.4h0M-1.3 47.1h0M-4.7 46.2h0M-7.2 33.7h0M10 30.1h0M-6.5 33.3h0M-4.7 46.5h0M3.5 47.4h0M6 46.6h0M-8.3 35h0M8.3 46.2h0M11.8 31.1h0M-9.4 38.4h0M-9 43h0M-8.2 36.3h0M7.4 46.1h0M12.8 42.9h0M-7.6 44.2h0M-8.1 43.4h0M-9 37.8h0M-8.9 38.3h0M-6.4 45.6h0M1.3 29h0M-9.6 38.9h0M12.3 30.7h0M-8.8 43.7h0M-9 43h0M-7.9 35.2h0M0.7 47.8h0M-9.8 38.1h0M15.4 35.1h0"/><path stroke="#3fbc73" d="M-15.7 -49.3h0M-25.4 -42h0M-5.7 -25.9h0M-24.8 -28.7h0M-26.5 -35.7h0M1.7 -43.3h0M-26.7 -37.6h0M-25.6 -30.7h0M-0.2 -29.7h0M3.4 -35.6h0M-25.5 -30.3h0M3.9 -36.5h0M-26.5 -37.9h0M-25 -42.2h0M-0.6 -29.3h0M-26.9 -36h0M-26.4 -35.4h0M-26 -39.8h0M-26.6 -33.8h0M3.6 -36.1h0M3.4 -40.8h0M3.8 -36h0M3.1 -35.5h0M2.9 -33.8h0M2.4 -32.7h0M3.5 -40.7h0M-5.9 -25.2h0M0.6 -44.4h0M0.5 -44.6h0M3.1 -41.3h0M-3.4 -27.2h0M-14.4 -23.4h0M3.9 -36.3h0M10.8 31h0M-7 44.1h0M-5.6 34.4h0M14.3 38.3h0M1.3 46.8h0M13.3 40.9h0M13.2 41h0M-1.6 46h0M-7.1 35.5h0M-7.4 41.1h0M3.5 46.7h0M13.6 39.2h0M14.3 35.2h0M8 30.2h0M6.8 45.5h0M14.5 34.9h0M-2.4 46.2h0M14 40.5h0M3.3 47h0M13.1 41.3h0M5.4 46.3h0M-8.5 39.3h0M14.2 36.3h0M9.2 30.6h0M12.8 32.6h0M-8 41.2h0M-8.1 37.5h0M-7.7 42.1h0M-8.7 39.3h0M-6.9 43h0M-8.3 38.7h0M12.6 41.8h0M-8.5 40.5h0M1.2 46.7h0M-5.2 45h0M-5.5 34.5h0M-7 35.3h0M13.8 36.7h0M-6.9 42.8h0M-5.6 44.2h0M14.2 34.2h0M-6.8 35.6h0M-8.3 40h0M-1.7 46.5h0M-5.1 32.9h0M-8 42h0M-7.3 43.4h0M13.7 39.2h0M4.5 46.4h0M-0.3 46.2h0M10.5 30.8h0M12.2 32.7h0M-1.1 30.7h0M9.6 44.2h0M-7.2 42.8h0M-4.9 44.4h0"/><path stroke="#48c16e" d="M-16.6 -24.2h0M-6.8 -25.6h0M2.9 -37.8h0M1.4 -33.8h0M-26 -34.8h0M0.7 -43h0M-3.3 -27.7h0M-6.2 -26.2h0M-26.1 -36.5h0M-25.8 -33.9h0M-26 -38.4h0M3.1 -38.4h0M-1.1 -29.4h0M-26.1 -34h0M2.3 -36.1h0M-26.1 -33.8h0M2.5 -35.5h0M0.2 -43.6h0M-26.2 -36.2h0M-26.2 -36.5h0M-25.9 -38.3h0M2.2 -41.1h0M-0.1 -44.2h0M0.3 -32h0M3 -40h0M-26.1 -34.1h0M-7 -47.8h0M1.9 -33.8h0M1 -42.5h0M-24.7 -42.2h0M1.4 -42.9h0M2.4 -34.4h0M-19.5 -25.2h0M2.3 -39.9h0M-15.2 -23.9h0M-4.9 -26.8h0M-26.3 -35.4h0M-1.4 -29.4h0M1.8 -42.5h0M11.1 33.4h0M7.2 45.2h0M12.7 35.4h0M-6.2 40.5h0M12.5 35.4h0M-0.5 32.1h0M-4 34.1h0M13.6 38.6h0M12.4 33.8h0M13.2 36.6h0M12.5 39.8h0M12.1 41.6h0M9.5 31.5h0M2.1 31h0M10.1 42.6h0M13.1 35.1h0M8.2 31.1h0M8.6 44.3h0M-2.4 45.5h0M11.6 33.3h0M2.4 30.9h0M-4.9 34.8h0M4.2 30.2h0M12.8 34.3h0M10.3 32.1h0M13 34.4h0M13.8 36.5h0M13.5 35.9h0M13.3 35.4h0M10.1 32.4h0M12.7 33.9h0M13.6 38.8h0M-4.5 43.5h0M10.9 41.7h0M-6.3 35.7h0M11.3 32.6h0M-4.9 44.3h0M-0.6 31.5h0M-5.7 36.2h0M-6.5 37.7h0M-7 40.9h0M-7.3 39.8h0M-3.3 33h0M-4.3 34.7h0M11.9 40.4h0M0.1 31.3h0M-7.3 38.5h0M13.1 34.5h0M2.7 30.6h0M-5.7 43.2h0M-7.1 38.6h0M7.3 44.5h0M5.7 30.7h0"/><path stroke="#52c569" d="M2.2 -38.1h0M-22.7 -27.9h0M-25.3 -38.8h0M-25.2 -32.3h0M2.2 -38.7h0M-14 -48.2h0M-23.1 -28.8h0M-24.1 -42.1h0M1.9 -35.8h0M-1.2 -31h0M-24.3 -31.1h0M-1.3 -30.8h0M-22.8 -43.6h0M-10.2 -47.9h0M-0.7 -43.8h0M-25.4 -37.2h0M-23.4 -29h0M-8.8 -47.8h0M-23.8 -42.8h0M-24.4 -41.5h0M-21.2 -45.6h0M-7.8 -47.5h0M2.1 -36.9h0M-23.2 -28.9h0M-25.8 -37.6h0M2 -37.4h0M0.2 -42.9h0M-11.8 -48.3h0M1.3 -34.4h0M1.6 -37.9h0M-24.3 -30.4h0M-0.8 -31.5h0M-1.5 33.8h0M-1.3 33.4h0M-1.2 33.6h0M6.3 32.2h0M-5.7 37.6h0M7.5 43.9h0M11.4 36.6h0M10.7 40.6h0M-4.8 36.4h0M-1.2 44h0M-3.8 42.7h0M11 34.2h0M10.5 40.8h0M8 32h0M4.6 45.1h0M-4.5 41.6h0M9.9 41.3h0M9.1 42.7h0M10.9 40.4h0M11.1 33.7h0M11.7 35.9h0M-2.3 44.3h0M10.5 33h0M9.2 43h0M10.5 41.5h0M7.5 43.5h0M5.7 43.9h0M-5.3 37h0M11.3 36.4h0M11 39.6h0M-4 34.7h0M2.9 44.6h0M6.3 31.8h0M1 32.1h0M6.2 44.4h0M-4 43.1h0M-3.8 36.1h0M-4.2 36.2h0M-3.2 35.5h0M2.7 31.9h0M10.5 40.6h0M-3.7 35.1h0M-3.6 43.6h0M-3.7 36.1h0M-4.7 37.4h0M-1.6 33.3h0M10.1 42h0M-5.8 37.3h0M-4.3 41.9h0M-5.1 37.5h0M7.3 43.4h0M10.3 40.7h0M1 45.2h0M7.3 31.8h0M-4.2 43.4h0M-4.2 36.1h0M-0.6 44.8h0M11.8 39.8h0M3.5 31.1h0M-4.3 37h0M2.7 32h0M4.6 32h0"/><path stroke="#5ec962" d="M-13.7 -47.8h0M-24.9 -38.2h0M-24.9 -33.3h0M-3 -29.7h0M-4.5 -45.3h0M0.8 -39.4h0M-23.8 -30.9h0M-17.8 -46.6h0M-1.4 -31.8h0M-24.8 -37.6h0M-24 -41h0M-4.7 -28.2h0M0.6 -34.8h0M-24.2 -40.7h0M-7.5 -46.7h0M-25.1 -33.8h0M-12.8 -25.1h0M0.6 -36.1h0M-25.1 -37.9h0M-4 -29h0M-22.7 -43.4h0M0.4 -34.5h0M-2.1 -43.3h0M-11.8 -47.7h0M1 -35.3h0M0 -33.2h0M0.9 -36.7h0M0.1 -41.4h0M-0.8 -42.1h0M1.4 -38.2h0M1.5 -38h0M1.3 -36h0M-24.7 -32.1h0M-5.4 -46.2h0M-2.4 -30.1h0M-17.3 -25.6h0M-13.3 -24.9h0M-2.5 41.1h0M8.8 33.5h0M-2.1 42h0M4.5 43h0M0 33.3h0M-2.2 42.1h0M-1.8 34.7h0M4.3 43.2h0M9.2 39.7h0M3.4 32.7h0M9.7 38.9h0M1.7 33.3h0M9.8 38.4h0M8.5 41.1h0M10.8 38.6h0M6 43.5h0M8 42.4h0M8.1 33.3h0M-4.1 41.4h0M10.4 37h0M6.6 32.6h0M-0.9 34.6h0M10.6 39.7h0M9.3 40.6h0M2.4 32.8h0M7.9 34h0M-4.4 37.5h0M6.7 33.3h0M6.4 42.9h0M-3.3 39.8h0M6.6 33h0M-1.6 35.2h0M2.8 33.3h0M10.5 34.9h0M7 33.1h0M6.7 43h0M-2.1 42.1h0M5.2 43.4h0M-3.2 39.5h0M10.4 36.1h0M8.4 34.4h0M5.9 42.7h0M-2.8 42.8h0M4.6 43.1h0M-2.7 42h0M9.1 33.5h0M11 38.8h0M-3.9 37.7h0M10.3 38h0M-2.6 40.8h0M7.3 42.4h0M-1.6 43.2h0M8.7 33.5h0M2.6 43.5h0M6.5 33.5h0M-3.4 41.1h0M-3.9 41.1h0M-4.7 39.3h0M8.2 34.1h0M-1.2 35h0M0.5 33.7h0M1 33.6h0M8.9 34.9h0M-2.4 42h0M9.6 40.3h0M10.4 38h0M5.2 33.2h0M-4.4 38.8h0M-4.3 38.5h0M10.7 37.1h0M11.1 38.3h0"/><path stroke="#69cd5b" d="M-0.6 -40.4h0M-23.5 -40h0M-6.3 -46h0M-8 -26.7h0M-22.1 -29.4h0M-24.4 -36.2h0M-7.4 -46.2h0M-24.6 -35.3h0M-3.7 -44.1h0M-15.7 -46.8h0M-18 -46.4h0M-17.6 -46.2h0M-24.1 -32.7h0M0.1 -37.7h0M-23.1 -30.5h0M-0.8 -34.5h0M-0.6 -41.1h0M-1.9 -32.3h0M-0.3 -40.4h0M-24.3 -32.8h0M-24.1 -32.7h0M-18.8 -45.7h0M-24.2 -39.5h0M-18 -45.9h0M-20.8 -28.2h0M-22.9 -30.1h0M-22.5 -30.2h0M-19.1 -26.5h0M-21.5 -28.5h0M-24.5 -35.9h0M-0.6 -39.6h0M-3.6 -43.6h0M-3.9 -44.7h0M-11.5 -47.4h0M0.2 -36.8h0M-0.1 -37.3h0M-1.2 -41.7h0M0 -40h0M0.5 -37.3h0M0 -39h0M0 -37.3h0M-0.3 -35h0M9.3 38.8h0M-0.8 40h0M2 34.6h0M-1.5 37.2h0M6.9 41h0M-1 38.1h0M5.8 42.4h0M8.2 37.7h0M-0.8 40.8h0M0.9 42h0M-2.3 37.9h0M6.2 33.5h0M-1.6 37.8h0M-2.1 40h0M-0.9 36.5h0M0.7 41.8h0M-2.3 40.8h0M9 36.1h0M7.5 39.7h0M0.5 42.6h0M8.7 36.5h0M8.2 37.2h0M0.4 36.1h0M9.3 38.7h0M-1.2 39.8h0M8.2 36.5h0M3.5 42.9h0M8.4 40.6h0M4.6 34.3h0M3 42.4h0M-1.1 35.8h0M2.5 34.3h0M2.8 34.1h0M4 34.5h0M7 34.8h0M3.4 43.1h0M5.5 34.4h0M2.9 34.7h0M6.2 41.4h0M8.2 36h0M6.9 41.7h0M5.8 35h0M-1.5 38.4h0M7.9 40.1h0M1.7 34.8h0M-3 38.2h0M-0.3 36.7h0M-1.7 40.5h0M9.1 35.7h0M6.6 34.4h0M6.3 34.4h0M0.1 35.4h0M4.1 42.3h0M1.9 43.1h0M-1.4 42h0M-1.3 39.4h0M2.7 34.3h0M5.8 41.5h0M-1.2 37.5h0M-1.7 36h0M0.9 34.9h0M-1 38.9h0M0.8 42.6h0M3.9 33.9h0M-2.7 39.3h0M-2.8 38.8h0M-1.2 37.2h0M-1.9 40.7h0M-2.8 39.2h0M5.8 41.4h0M2.5 42h0M0.5 42.1h0M8.5 37h0"/><path stroke="#75d054" d="M-24 -38.1h0M-1.1 -39.9h0M-2.4 -32.1h0M-22.6 -41.3h0M-24 -36.3h0M-23.7 -38.7h0M-23.8 -38.4h0M-13.1 -25.9h0M-2.7 -32.3h0M-1.1 -40h0M-2.8 -41.8h0M-0.7 -37.3h0M-1.1 -34.2h0M-1.3 -39.7h0M-5.4 -44.1h0M-0.6 -38.5h0M-22.4 -30.3h0M-1.2 -37.7h0M-21.1 -28.8h0M-3.1 -31.4h0M-22.1 -41.8h0M-1.2 -35.6h0M-24 -38.1h0M-1.7 -41.5h0M-22.7 -40.6h0M-23.4 -38.2h0M-20.5 -44.2h0M-7.7 -45.6h0M-1.8 -40h0M-0.7 -36.2h0M-0.9 -39.7h0M-15.6 -25.9h0M-24.2 -35.8h0M1 40.3h0M7.6 37.9h0M4 40.6h0M4.7 40.1h0M5.5 40.3h0M4.1 41.1h0M2.1 36.2h0M5.2 37.8h0M4.1 38.3h0M0.9 38.6h0M6 37.9h0M6.9 36.4h0M3 40.4h0M2.4 37.9h0M0.7 40.4h0M3 35.2h0M6.9 38.7h0M4.6 39.6h0M4.2 37.7h0M2.8 38.1h0M1 39.3h0M3.2 39.4h0M1 37.8h0M7.2 37.4h0M5 36.7h0M0.2 36.6h0M7 36.8h0M3 40.8h0M5.5 37.8h0M6.6 39.1h0M5.4 40.4h0M2 41h0M3.8 37.7h0M1 41.3h0M1.3 39.6h0M-0.1 37.9h0M4.9 36.3h0M5 39.1h0M4.2 36.4h0M5.7 40.8h0M3.5 35.5h0M0.4 40.3h0M3 41.2h0M4.7 36.1h0M-0.4 39.2h0M2.3 38.3h0M5.2 36.8h0M3.8 37.7h0M4.3 38.8h0M2.2 38.8h0M2.9 37.8h0M3.2 39.4h0M7 39.2h0M1.1 36.1h0M4.7 38.1h0M6 36.8h0M0.1 40.4h0M1.7 38.3h0M5.6 36.2h0M1.6 36.6h0M3.4 40.5h0M3.4 41h0M6.1 39.2h0M5.1 37.7h0M5.3 40.3h0M6.5 39h0M4.8 36.9h0M6.6 37.9h0M1.5 36h0M7.8 38.4h0M0 38.3h0M3.9 41.2h0M3.6 38.7h0M3.1 38.5h0M5.4 38.7h0M1.6 36.4h0M5.8 37.1h0M3.3 37.8h0M6.2 39.9h0M2.5 37.2h0M7.4 36.1h0"/><path stroke="#84d44b" d="M-22.7 -39.9h0M-16.5 -45.5h0M-23.4 -35.8h0M-2.2 -39.1h0M-22.3 -40.8h0M-6.6 -29.2h0M-1.6 -37.7h0M-1.5 -38.7h0M-21.9 -31h0M-22.7 -40.4h0M-22.4 -39.8h0M-2 -39.1h0M-1.5 -38.6h0M-12.9 -27h0M-22.8 -38.2h0M-6.4 -44.4h0M-2.7 -34.2h0M-1.3 -38.4h0M-23.1 -37.3h0M-21.5 -41.4h0M-19.2 -44h0M-23.2 -37.9h0M-23.3 -37.3h0M-22.9 -39.3h0M-5 -43.5h0M-14.9 -46.1h0M-2.4 -39h0M-15 -46.2h0M-2.4 -40.8h0M-8 -28.6h0M-6.6 -29h0M-23.5 -36.9h0M-19.9 -29h0M-2.5 -34h0M-9.2 -45.7h0M-11.6 -26.9h0"/><path stroke="#90d743" d="M-22.9 -37.1h0M-18.4 -44.2h0M-9.3 -44.7h0M-3.1 -36.6h0M-18.5 -44.2h0M-22.5 -35h0M-20.5 -42.2h0M-21.6 -31.9h0M-7.5 -44.1h0M-22.6 -38.6h0M-2.8 -34.7h0M-2.8 -37.1h0M-21.9 -39.9h0M-19.3 -28.6h0M-17.2 -44.9h0M-2.7 -37.9h0M-21.7 -32.4h0M-21.7 -32.5h0M-3 -38.5h0M-23 -35.6h0M-4.5 -31.7h0M-21.1 -41.4h0M-21.9 -40.3h0M-2.9 -36.5h0M-13.8 -27.4h0M-6.8 -29.8h0M-22.6 -34.3h0M-18.7 -43.8h0M-3.3 -34.2h0M-4.9 -31.3h0M-4.8 -42.5h0M-13.9 -45.3h0M-2.4 -37.7h0M-5.6 -42.4h0M-7.2 -44.1h0M-3.9 -32.6h0M-2.8 -37.7h0M-3.5 -34.6h0M-2.5 -37.1h0M-2.5 -35.5h0M-10.9 -45.5h0M-18.7 -28.7h0M-22.4 -39.1h0M-21 -31h0M-19.4 -43h0"/><path stroke="#9dd93b" d="M-22 -38.3h0M-9.5 -29.3h0M-21.7 -39.4h0M-21.9 -34.5h0M-3.5 -35h0M-6 -41.6h0M-20.9 -32.3h0M-4.3 -34.3h0M-18.8 -29.4h0M-6.9 -30.5h0M-4.4 -34.8h0M-21.8 -39.1h0M-14.9 -28h0M-22 -38.5h0M-3.3 -37.5h0M-21.1 -32.5h0M-5.2 -41.3h0M-21.3 -40h0M-4 -35.6h0M-20.1 -41.4h0M-20.5 -31.3h0M-21.7 -38.9h0M-20.5 -40.7h0M-22.1 -33.8h0M-9.1 -29h0M-4.1 -39.1h0M-5.1 -41.1h0M-3.6 -37.1h0M-7.8 -43.4h0M-14 -27.7h0M-15.1 -27.9h0M-18.2 -43.1h0M-15.7 -28.1h0M-11.4 -28.1h0M-7.3 -42.9h0M-5.9 -42.1h0M-5.4 -41.2h0M-6.6 -42.2h0M-5.2 -41.9h0M-18.3 -28.9h0M-7.3 -30.2h0M-22.1 -35.5h0M-22.1 -38.1h0M-5.8 -32h0M-11 -44.7h0M-22 -36.2h0"/><path stroke="#addc30" d="M-4.6 -35.8h0M-21 -39.6h0M-21.2 -34.9h0M-15.9 -28.8h0M-5 -35.7h0M-4.8 -37.5h0M-16.4 -29.2h0M-21.3 -37.3h0M-4.6 -35h0M-18.9 -30.3h0M-19.9 -31h0M-12 -29.2h0M-17.3 -42.8h0M-20.8 -32.9h0M-5.3 -34.2h0M-21.1 -39.4h0M-11.4 -43.9h0M-17.8 -29.8h0M-4.9 -37.9h0M-20.9 -34h0M-21.5 -36.8h0M-4.9 -38.4h0M-8.9 -29.8h0M-9.5 -29.5h0M-6.9 -41.4h0M-12.8 -43.9h0M-6.6 -31.8h0M-7.3 -42h0M-6.4 -32.8h0M-20.8 -32.9h0M-20.9 -38.2h0M-17.5 -29.8h0M-20.5 -39.3h0M-18.4 -42.6h0M-21.7 -34.8h0M-4.5 -36.8h0M-20 -40.2h0M-6.2 -41.7h0M-19.3 -31.1h0M-21.6 -36.7h0M-4.5 -38.6h0M-4 -36.8h0M-15.1 -43.7h0M-5.9 -40.3h0M-20.1 -31.6h0M-19.7 -31.7h0M-4.4 -35.1h0M-7.5 -42.8h0M-18.8 -42.5h0M-9.8 -43.6h0M-5.3 -34.3h0M-5.3 -39.5h0M-5.9 -40.1h0M-9.5 -29.4h0M-18.9 -30.2h0"/><path stroke="#bade28" d="M-9.6 -42.6h0M-6.3 -38.9h0M-19.8 -33.2h0M-19.9 -39.4h0M-8 -31.9h0M-20.8 -36.4h0M-13.4 -43.1h0M-20.8 -35.6h0M-7.1 -33.1h0M-20 -32.7h0M-20 -33.9h0M-16.6 -43.1h0M-15.1 -43.2h0M-5.1 -38h0M-5.1 -36.1h0M-6 -35.5h0M-18 -41.5h0M-5.8 -35.2h0M-9.3 -42.8h0M-5.4 -38.5h0M-16.7 -42.9h0M-19 -40.4h0M-16.4 -30h0M-6.4 -39.7h0M-5.4 -35.9h0M-6.4 -34.6h0M-6.4 -33.9h0M-7.4 -41.7h0M-6.2 -39.1h0M-11.7 -43h0M-5.6 -35.8h0M-20.7 -34.1h0M-19.7 -40.1h0M-7.7 -32.3h0M-20.1 -32.8h0M-6.9 -33.6h0M-20.3 -33.9h0M-14.1 -29.1h0M-7.2 -41.5h0M-19.2 -40.7h0M-13.2 -43.7h0M-16.3 -29.9h0M-20.8 -34.4h0M-11.7 -29.9h0M-11.6 -29.9h0M-6.9 -40.1h0M-5.7 -36.8h0M-6.5 -40.8h0M-5.4 -35.2h0M-5.5 -35.9h0M-5 -37.1h0M-11.5 -43.2h0M-14.2 -43.4h0M-19.6 -32.9h0M-12.9 -43.4h0M-6.9 -40.2h0M-14.9 -43.2h0M-6.5 -40.4h0M-11.5 -43h0M-5.7 -36.4h0M-19.2 -41.2h0"/><path stroke="#c8e020" d="M-17.1 -42h0M-17.8 -40.5h0M-13.2 -30.2h0M-14.5 -42.5h0M-19.7 -33.6h0M-15.9 -30.5h0M-7 -37.1h0M-16.1 -42.4h0M-13 -42.4h0M-6.2 -37.4h0M-6.3 -35.2h0M-7 -39.4h0M-19.7 -38.9h0M-6.7 -39.1h0M-9.6 -32h0M-18.8 -32.6h0M-8.5 -40.7h0M-6.4 -38.5h0M-8.2 -32.5h0M-12.1 -42.6h0M-18.5 -40.6h0M-15.1 -30.2h0M-14.9 -30.3h0M-8.3 -32.5h0M-19.7 -37.3h0M-11.4 -42.7h0M-16.2 -30.1h0M-15.6 -30.4h0M-9.3 -31.6h0M-20.2 -36.1h0M-13.4 -42.6h0M-8.5 -32.5h0M-19.5 -32.9h0M-17.4 -41.3h0M-12.1 -42.2h0M-7.1 -39.5h0M-7.1 -39.6h0M-6.4 -34.9h0M-7.2 -35.2h0M-17.5 -41.6h0M-9.8 -31.9h0"/><path stroke="#d8e219" d="M-17.5 -32.3h0M-19 -35.6h0M-13.1 -31.2h0M-8.7 -34.3h0M-18.1 -32.3h0M-18.8 -37.3h0M-7.5 -37.4h0M-12.9 -31.4h0M-13.2 -41.6h0M-19.3 -36.5h0M-16.2 -31.8h0M-16.6 -32.1h0M-14.9 -31.2h0M-15 -30.7h0M-16.4 -40.6h0M-18 -40.2h0M-8 -35.1h0M-18.4 -38.6h0M-8.1 -34.7h0M-13 -41.5h0M-7.6 -35.6h0M-12.4 -41.5h0M-15.3 -41.6h0M-7.4 -38.5h0M-19.3 -36.5h0M-10.9 -31.4h0M-18.8 -33.7h0M-7.1 -36.1h0M-15.8 -41.2h0M-13 -31.2h0M-17.1 -31.6h0M-15.6 -31.4h0M-18.8 -36.4h0M-9.7 -32.9h0M-15.2 -41.9h0M-19.3 -34.8h0M-13.5 -31.1h0M-7.6 -35.3h0M-19.1 -35.4h0M-13.5 -41.9h0M-18.8 -36.4h0M-11.4 -31.5h0M-14.4 -42h0M-18.7 -33.9h0M-18.8 -38.5h0M-8.8 -33h0M-10.2 -32.1h0M-10.4 -31.9h0M-16.2 -31.8h0M-8.7 -33.1h0M-18.6 -39.5h0M-12.5 -31.6h0M-11.8 -31.5h0M-10.7 -31.8h0M-7.5 -38.7h0M-11.7 -41.9h0M-8.3 -39.7h0M-8.8 -39.8h0M-14.1 -41.8h0M-8.3 -38.6h0M-13.2 -41.8h0M-15.4 -30.7h0M-7.4 -35.7h0"/><path stroke="#e5e419" d="M-16.6 -39.3h0M-15.8 -32.3h0M-17.9 -35.5h0M-17.5 -35.2h0M-17.3 -34h0M-17.5 -38.1h0M-17.7 -38.6h0M-16.5 -40h0M-8.7 -35.2h0M-18.5 -37.1h0M-16.9 -39.2h0M-9.6 -39.7h0M-17.1 -39.7h0M-17.8 -33.8h0M-16.9 -38.6h0M-14.5 -32.6h0M-15 -41h0M-8.6 -36h0M-18.2 -37.9h0M-16.5 -32.5h0M-17 -38.4h0M-14.3 -40.3h0M-18 -36h0M-9.2 -34.1h0M-16.3 -32.8h0M-17.3 -33.7h0M-14.1 -31.9h0M-8.7 -34.7h0M-8.7 -37.3h0M-8.5 -36h0M-16.4 -33h0M-8.8 -36.8h0M-17.1 -38.2h0M-18.5 -36.7h0M-12.6 -32.8h0M-13.8 -32.2h0M-9 -36.1h0M-11.2 -32.3h0M-8.7 -37.2h0M-9.6 -34.5h0M-17 -33.1h0M-11.5 -39.9h0M-9.5 -35.4h0M-11.1 -40.8h0M-9 -37.5h0M-14.6 -40.5h0M-9.1 -38.8h0M-16.4 -39.9h0M-8.5 -36.4h0M-17.7 -35.8h0M-9.5 -35.2h0M-8.8 -39h0M-18.3 -34.5h0M-15.3 -32.7h0M-10.1 -33.3h0M-9.1 -37.1h0M-9.5 -33.8h0M-13.7 -40.7h0"/><path stroke="#f1e51d" d="M-13.3 -33.5h0M-14 -34h0M-10.1 -37.5h0M-13 -33.4h0M-10.4 -34.5h0M-14.6 -33.5h0M-12.5 -38.7h0M-11.1 -36.2h0M-11.1 -34.2h0M-13 -40.1h0M-14.4 -33.1h0M-10.4 -35.8h0M-16.5 -36.1h0M-10.1 -35.3h0M-17.4 -36.8h0M-11.3 -39.2h0M-15.5 -34.7h0M-15.6 -33.7h0M-10.1 -35.3h0M-15.9 -39.4h0M-12.8 -39.9h0M-17.1 -35.4h0M-15.3 -33.2h0M-10.3 -36.4h0M-14.2 -38.9h0M-15.8 -37.2h0M-16.5 -36h0M-9.8 -36.9h0M-11.2 -35.8h0M-16.7 -37.1h0M-12.7 -39.4h0M-15.1 -33.2h0M-17.2 -35.3h0M-16 -33.8h0M-16.2 -38h0M-15.2 -33.7h0M-14.7 -33.5h0M-11 -38h0M-15.7 -37.5h0M-16 -34.8h0M-13.3 -32.7h0M-15.7 -37.9h0M-13.4 -32.7h0M-14.8 -33h0M-16.2 -34.8h0M-17.3 -36.7h0M-13.3 -39.1h0M-16.4 -37.8h0M-15.8 -37.6h0M-13.8 -38.9h0M-13.5 -33.8h0M-16.1 -39.1h0M-15.7 -33.6h0M-12.8 -39.6h0M-12.3 -33.2h0M-15.7 -37.5h0M-12.2 -38.3h0M-17 -35.8h0M-11.2 -34.5h0M-14.4 -33h0M-10.6 -35.9h0M-15.3 -39.1h0M-16.4 -37h0M-12.6 -39.2h0M-15.9 -37.4h0M-10.5 -36.5h0M-16.7 -35.5h0M-15 -39.3h0M-10.3 -35.9h0M-13.7 -39.8h0M-12.3 -38.6h0M-14.7 -40h0"/><path stroke="#fde725" d="M-12.8 -35.1h0M-12.3 -36h0M-14.8 -35.5h0M-13.8 -36.1h0M-13 -36h0M-13.8 -35h0M-14.5 -34.4h0M-15.4 -37.1h0M-14.7 -37.8h0M-14.2 -35.5h0M-15.6 -35.6h0M-15.3 -36.4h0M-15.2 -34.7h0M-12.2 -35.7h0M-14.4 -38.3h0M-11.9 -37.2h0M-13.1 -37h0M-14.7 -36.1h0M-15 -38h0M-14.7 -35.2h0M-14.6 -37h0M-12.7 -35.3h0M-12.6 -38h0M-15.2 -37.7h0M-12.8 -36.3h0M-12.5 -37.4h0M-12 -36.3h0M-12.6 -37.3h0M-14.8 -37.2h0M-14.7 -36.8h0M-15.4 -35.4h0M-12.4 -36.9h0M-14 -34.4h0M-13 -34.8h0M-14.3 -35.4h0M-13.9 -37.5h0M-14.8 -37.8h0M-13.8 -34.4h0M-14.5 -37.6h0M-14 -35.8h0M-14.1 -35.4h0M-12.3 -35.3h0M-13.4 -38.5h0M-15.7 -35.8h0M-13 -35.9h0"/></g>
<circle cx="0" cy="-81" r="2.8"/><circle cx="0" cy="81" r="2.8"/><circle cx="-36" cy="-45" r="2.8"/><circle cx="-54" cy="-27" r="2.8"/><circle cx="-81" cy="0" r="2.8"/><circle cx="81" cy="0" r="2.8"/><circle cx="54" cy="27" r="2.8"/><circle cx="36" cy="45" r="2.8"/></g>
<g font-size="8.2"><text x="120.0" y="23.9">+Iso</text><text x="120.0" y="194.3">-Iso</text><text x="45.6" y="60.5">+Crack</text><text x="21.6" y="80.5">+Dipole</text><text x="4.9" y="105.0">+Clvd</text><text x="202.0" y="113.0">-Clvd</text><text x="174.3" y="141.3">-Dipole</text><text x="151.1" y="165.4">-Crack</text></g>
<rect x="205.5" y="127.4" width="44.6" height="66.8" fill="#fff" stroke="#b4b4b4" stroke-width="0.7"/><g stroke="#1874b8" stroke-width="1" fill="none"><path d="M214.3 151.9V141.3M214.3 161.4V173.1M212.5 141.3H216.1M212.5 173.1H216.1"/><circle cx="214.3" cy="141.3" r="2.1"/><circle cx="214.3" cy="140.3" r="2.1"/><circle cx="214.3" cy="139.2" r="2.1"/><circle cx="214.3" cy="138.1" r="2.1"/><circle cx="214.3" cy="137.1" r="2.1"/><circle cx="214.3" cy="136" r="2.1"/><circle cx="214.3" cy="135" r="2.1"/><circle cx="214.3" cy="133.9" r="2.1"/><circle cx="214.3" cy="132.8" r="2.1"/><circle cx="214.3" cy="131.8" r="2.1"/><circle cx="214.3" cy="130.7" r="2.1"/><circle cx="214.3" cy="129.7" r="2.1"/><circle cx="214.3" cy="128.6" r="2.1"/><circle cx="214.3" cy="187.2" r="2.1"/><circle cx="214.3" cy="186.1" r="2.1"/><circle cx="214.3" cy="185.1" r="2.1"/><circle cx="214.3" cy="184" r="2.1"/><circle cx="214.3" cy="183" r="2.1"/><circle cx="214.3" cy="181.9" r="2.1"/><circle cx="214.3" cy="180.8" r="2.1"/><circle cx="214.3" cy="179.8" r="2.1"/><circle cx="214.3" cy="178.7" r="2.1"/><circle cx="214.3" cy="177.7" r="2.1"/><circle cx="214.3" cy="176.6" r="2.1"/><circle cx="214.3" cy="175.6" r="2.1"/><circle cx="214.3" cy="174.5" r="2.1"/><circle cx="214.3" cy="173.4" r="2.1"/></g><path d="M210.6 151.9H218V156.7L216.6 156.8L218 157V161.4H210.6V157L212 156.8L210.6 156.7Z" fill="#1874b8" stroke="#1874b8" stroke-width="0.5"/><g stroke="#ff7f0e" stroke-width="1" fill="none"><path d="M227.7 156.1V135M227.7 172V186.5M225.9 135H229.5M225.9 186.5H229.5"/><circle cx="227.7" cy="133.9" r="2.1"/><circle cx="227.7" cy="132.8" r="2.1"/><circle cx="227.7" cy="131.8" r="2.1"/><circle cx="227.7" cy="130.7" r="2.1"/><circle cx="227.7" cy="129.7" r="2.1"/><circle cx="227.7" cy="128.6" r="2.1"/><circle cx="227.7" cy="127.5" r="2.1"/><circle cx="227.7" cy="126.5" r="2.1"/><circle cx="227.7" cy="125.4" r="2.1"/></g><path d="M224 156.1H231.4V162.6L230 163.9L231.4 165.2V172H224V165.2L225.4 163.9L224 162.6Z" fill="#ff7f0e" stroke="#ff7f0e" stroke-width="0.5"/><g stroke="#a00000" stroke-width="1" fill="none"><path d="M241.4 162.5V139.5M241.4 179.4V187.2M239.6 139.5H243.2M239.6 187.2H243.2"/><circle cx="241.4" cy="133.9" r="2.1"/><circle cx="241.4" cy="133.2" r="2.1"/><circle cx="241.4" cy="132.5" r="2.1"/></g><path d="M237.7 162.5H245.1V170.3L243.7 171.7L245.1 173V179.4H237.7V173L239.1 171.7L237.7 170.3Z" fill="#a00000" stroke="#a00000" stroke-width="0.5"/><path d="M250.1 187.2h2.8M250.1 169.5h2.8M250.1 151.9h2.8M250.1 134.2h2.8M214.3 194.2v2.8M227.7 194.2v2.8M241.4 194.2v2.8" stroke="#000" stroke-width="0.7" fill="none"/><g font-size="7.6"><text x="255.9" y="190.1">0</text><text x="255.9" y="172.4">25</text><text x="255.9" y="154.8">50</text><text x="255.9" y="137.2">75</text><text x="214.3" y="205.2" text-anchor="middle">iso</text><text x="227.7" y="205.2" text-anchor="middle">dc</text><text x="241.4" y="205.2" text-anchor="middle">clvd</text></g></g>
<g transform="translate(283.5 221.2)">
<text x="3.8" y="12.5" font-size="9.3">Stage D</text>
<g transform="translate(113.0 108.8)"><path d="M0 -81L-16.2 -64.8L0 -64.8L18 -72ZM0 81L16.2 64.8L0 64.8L-18 72Z" fill="#8c8c8c"/><path d="M0 72.5H8.1M0 64.5H16.2M0 56.5H24.3M0 48.5H32.4M0 40.5H40.5M0 32.5H48.6M0 24.5H56.7M0 16.5H64.8M0 8.5H72.9M0 -8.5H-72.9M0 -16.5H-64.8M0 -24.5H-56.7M0 -32.5H-48.6M0 -40.5H-40.5M0 -48.5H-32.4M0 -56.5H-24.3M0 -64.5H-16.2M0 -72.5H-8.1M0 4.5H76.95M0 12.5H68.85M0 20.5H60.75M0 28.5H52.65M0 36.5H44.55M0 44.5H36.45M0 52.5H28.35M0 60.5H20.25M0 68.5H12.15M0 76.5H4.05" fill="none" stroke="#525252" stroke-width="0.62"/><path d="M0 72.5L-8.53 76.74M0 64.5L-18 72M0 56.5L-28.59 66.71M0 48.5L-40.5 60.75M0 40.5L-54 54M0 32.5L-69.43 46.29M0 24.5L-87.23 37.38M0 16.5L-108 27M0 8.5L-40.5 10.12L-91.12 10.12M0 -8.5L40.5 -10.12L91.12 -10.12M0 -16.5L108 -27M0 -24.5L87.23 -37.38M0 -32.5L69.43 -46.29M0 -40.5L54 -54M0 -48.5L40.5 -60.75M0 -56.5L28.59 -66.71M0 -64.5L18 -72M0 -72.5L8.53 -76.74" fill="none" stroke="#525252" stroke-width="0.85"/><path d="M-16.02 71.21L-93.37 23.94L-92.53 21.81L-14.58 -64.8M-14.09 70.43L-79.79 21.16L-80.4 19.5L-12.96 -64.8M-12.19 69.68L-68.6 17.3L-67.45 15.36L-11.34 -64.8M-10.34 68.94L-56.55 15.03L-56.7 13.5L-9.72 -64.8M-8.53 68.21L-46.19 11.71L-45.56 10.12L-8.1 -64.8M-6.75 67.5L-35.56 9.88L-35.84 8.59L-6.48 -64.8M-5.01 66.8L-26.1 7.05L-26.04 5.79L-4.86 -64.8M-3.31 66.12L-17.01 4.48L-16.86 3.28L-3.24 -64.8M-1.64 65.45L-8.3 2.13L-8.2 1.04L-1.62 -64.8M1.62 64.8L8.2 -1.04L8.3 -2.13L1.64 -65.45M3.24 64.8L16.86 -3.28L17.01 -4.48L3.31 -66.12M4.86 64.8L26.04 -5.79L26.1 -7.05L5.01 -66.8M6.48 64.8L35.84 -8.59L35.56 -9.88L6.75 -67.5M8.1 64.8L45.56 -10.12L46.19 -11.71L8.53 -68.21M9.72 64.8L56.7 -13.5L56.55 -15.03L10.34 -68.94M11.34 64.8L67.45 -15.36L68.6 -17.3L12.19 -69.68M12.96 64.8L80.4 -19.5L79.79 -21.16L14.09 -70.43M14.58 64.8L92.53 -21.81L93.37 -23.94L16.02 -71.21" fill="none" stroke="#505050" stroke-width="0.9"/><path d="M0 -81L108 -27L0 81L-108 27ZM0 -81V81M-81 0H81M-108 27L108 -27" fill="none" stroke="#000" stroke-width="1.6" stroke-linejoin="round"/>
<g fill="none" stroke-linecap="round" stroke-width="3.5"><path stroke="#440154" d="M-72.9 -2.2h0M-69.5 -1.4h0M20.5 -6.9h0M28.6 -8.6h0M76 -30.3h0M-1.7 -76.1h0M50.3 -6.7h0M-28.7 -2h0M-5.4 -3.1h0M-6.6 3.1h0M11.7 -73.9h0M73 -26h0M-76.3 -1.2h0M-44.1 -2.1h0M64.5 -23.6h0M54.2 -19.6h0M5.3 -4.2h0M74.4 -33h0M-38.9 -1.5h0M6.2 -74h0M23.6 -10.6h0M25.5 -8.3h0M-23.7 4.2h0M-35.5 -1.6h0M66.3 -28.5h0M34.2 -10.3h0M-39.7 7.3h0M-61.4 -2.6h0M-24.3 1.6h0M-26.2 0.9h0M-34.5 3.5h0M-24.9 -0.4h0M71.3 -22.7h0M19.3 -6.7h0M-3.4 0.8h0M-35.7 -1.7h0M16.3 -8.7h0M-80.8 3.5h0M83 -18.8h0M-15.2 1.9h0M-66.3 0.7h0M-72.5 -4.3h0M71.8 -24.3h0M-28.5 -0.3h0M56 -23h0M3.6 -5.3h0M68.2 -10.4h0M68.8 -20.1h0M-4.1 -0.3h0M88.3 -34.4h0M-54.1 19.8h0M-16.7 3.2h0M43.9 0.6h0M-41.6 13.1h0M32.1 0.2h0M-77.4 33.4h0M43.9 -4.8h0M-35.8 11.6h0M-6.3 4.4h0M-27.9 3.3h0M57.6 -1.5h0M7.3 -4.3h0M65 1h0M58.9 0.6h0M76.5 -0.6h0M-49.2 19.3h0M30.1 -3.1h0M35.7 -2.2h0M18.4 -1.9h0M10.7 -5.4h0M-9.1 5.9h0M26.6 0.9h0M44.2 -8.8h0M-59.1 23.3h0M-33.1 10.9h0M-27.8 6.4h0M-76.5 41.2h0M22.3 -1.2h0M-39.5 12.2h0M-0.4 72.1h0M21.8 1.3h0M31.5 -0.9h0M-43.7 13.5h0M-83 31.4h0M-44.8 15.7h0M78 -2.2h0M78.7 -20.8h0M70.3 -4.2h0M6.5 70.8h0M-61.9 18.9h0M-62.3 22.3h0M-38.6 1.7h0M-3.1 3.5h0M-3.3 -4.1h0M-36.2 3.2h0M80.1 -11.4h0M3.4 2.8h0M57.6 -20.8h0M76.2 -16h0M74.1 -0.2h0M-82.5 23.4h0M3.7 75.5h0M22.6 -0.9h0M-35.2 9h0M-69 16h0M-19.1 7.3h0M-8.7 73h0M35.5 -5.7h0M58.1 -0.1h0M71.6 2.2h0M10.2 -0.4h0M81.1 -24.1h0M15.4 -7.9h0M61 -4.3h0M63.3 -15.8h0M47.3 -15.5h0M-69.5 -1.7h0M-58 -2.7h0M62.6 -9h0M-32.5 -1.7h0M81.1 -38.6h0M90.9 -12.5h0M98.3 -20.9h0M26.1 -7.2h0M71.1 -12.5h0M82.5 -31.2h0M89.8 -20.8h0M22.1 -8.3h0M93.1 -24.6h0M25.5 -9.7h0M0.6 -76.7h0M100.5 -27.9h0M84.6 -37.5h0M73.1 -31.6h0M29.9 -4.7h0M38.7 -12.7h0M72.4 -4.7h0M44.5 -11.8h0M85.5 -35.7h0M-34.6 -0.3h0M49 -11h0M86.6 -21h0M92.3 -24.2h0M72.6 -29.3h0M34.9 -8h0M69.5 -17.7h0M78.5 -5.1h0M71.6 -8.4h0M73.7 -17.2h0M101.5 -25.1h0M-50.5 -1.9h0M30.5 -10.4h0M81.6 -22.4h0M90.7 -19.2h0M26.3 -9.6h0M81.4 -19.6h0M62.5 -15h0M67.2 -24.9h0M79.6 -29.2h0M8.4 -6.6h0M87.9 -23.1h0M50 -15h0M21.3 -10.1h0M90.5 -25.2h0M77 -20.4h0M94.9 -20.2h0M58.2 -1.2h0M-74.1 -5.2h0M79 -32.7h0M73.8 -12.6h0M89.5 -13.4h0M8.9 -73.6h0M30.5 -9.9h0M77.2 -28.7h0M82.4 -29.6h0M76.6 -7.6h0M68.4 -16.3h0M13.1 1.6h0M-73.3 29.6h0M-91.9 14h0M-85.6 26.9h0M-96.5 16.9h0M-86.2 26.9h0M-55.6 19.6h0M-88.4 27.9h0M-56.9 11.1h0M-45 17.2h0M-14.8 0.5h0M-61.6 19.7h0M-56.5 7.7h0M-43.1 14.5h0M-23.7 7.7h0M-74.8 28.4h0M16.8 1.3h0M6.9 71.5h0M-77.1 32.7h0M-65.5 24.9h0M-68.2 20.5h0M-50.3 18.8h0M-31.5 10.7h0M-92.2 13.7h0M-44.1 0.9h0M-86.8 23.9h0M-96.7 27h0M-75.1 30.1h0M-63.3 20.5h0M-56.2 18.7h0M-42.2 16.5h0M-52.9 15.2h0M-33.8 8.9h0M-53.3 10.2h0M-56.2 13.4h0M-66.5 19.1h0M-46.2 0.7h0M-57.4 10.2h0M-48.3 14.3h0M-51.4 14.3h0M-4.9 72.7h0M-81.8 21.9h0M-77.2 26.5h0M-56.1 6.8h0M-73.8 30.7h0M-46.6 0.9h0M-72.5 22.1h0M-74.3 16.8h0M-77.1 6.1h0M-83 26.8h0M-52.8 14.9h0M-69.5 16.1h0M-38.5 10.7h0M-64.1 18.3h0M-76 26h0M-39.9 6h0M-51 9.9h0M-68.1 17.4h0M-75.3 32.1h0M82.6 -37.9h0M35.5 -9.9h0M-3.4 -75.6h0M95 -21.4h0M75.7 -28.1h0M7.1 -4.6h0M-2.5 -76.4h0M69.8 -26.1h0M-39.2 -1h0M-34.9 -1.6h0M83.1 -13h0M23.8 -6.7h0M72.1 -32.9h0M-0.1 -79.6h0M4.6 -0.6h0M33.1 -8.9h0M20.2 -3.7h0M75.6 -12.3h0M77.6 -37.3h0M0.2 74.5h0M-29.5 9.4h0M69.7 2.6h0M-57 21.6h0M-72.9 35.1h0M4.6 75h0M-50.7 11.6h0M-22.1 5.4h0M-72.2 19.5h0M-42.5 6.6h0M64.4 0.4h0M-2.2 75.1h0M-42.9 13.2h0M-19 1.5h0M-77.7 33.4h0M-76 38.4h0M-24.9 6.6h0M-64.7 27.7h0M4 1.3h0"/><path stroke="#46085c" d="M-10.6 -67.8h0M-21.5 -6.6h0M47.4 -21.6h0M4.7 -68.9h0M-59.6 -3.3h0M-0.8 -69.9h0M68.4 -40.7h0M-20.6 -7.3h0M1.4 -70h0M66.4 -35h0M-65.7 -6.7h0M33.3 -17.8h0M-53.9 -5.7h0M-61.1 -6h0M45.6 -20.6h0M-43.4 -6.4h0M52.5 -27.9h0M68.5 -42.6h0M8.1 -9.8h0M39.9 -17.6h0M67.7 -42.4h0M-26.2 -2.9h0M-37.2 -7h0M-57.6 -5.9h0M45.7 -23.6h0M18.3 -13h0M-13.2 -8h0M9.7 -10.6h0M11.1 -69.3h0M-11 -4.5h0M14.2 -69.7h0M41 -19.1h0M-32.5 -6.2h0M64.2 -32.1h0M65 -37.5h0M9.1 -10.6h0M57.3 -28.7h0M-37.9 -6.4h0M6.2 -70.3h0M57.4 -25.6h0M-39.3 -4.7h0M43.8 -20.3h0M18.4 -11.9h0M5.5 -7.3h0M-3.4 -5.2h0M-9.6 -7.4h0M67.2 -34h0M-30.3 -3.5h0M71.2 -43.5h0M57.5 -29.8h0M-53.8 -4h0M-27.6 -4.9h0M-7.5 -67.4h0M73.4 -39.8h0M72.6 -38.6h0M3.3 -9.7h0M-4.3 -7.6h0M57 -31.1h0M40.6 -20.8h0M2.4 -72.9h0M-36.2 -3h0M-33.9 -6.8h0M20.2 -13.5h0M2 -9.6h0M49.9 -21.4h0M-53.4 -5.7h0M-4.9 -70.9h0M-71.4 -5.9h0M-42.7 -7h0M-23.3 -4.4h0M21.8 -13.7h0M9.9 -10.2h0M66.5 -40.6h0M-14.1 -5.2h0M-63.2 -6.3h0M-50.9 -5.9h0M-3.4 -8.5h0M30.4 -15.8h0M-9.7 -7.9h0M47.1 -22.2h0M50.9 -23.1h0M-69.3 -10.2h0M16.7 2.8h0M-65.5 38h0M-65.7 39.8h0M9.6 5.5h0M-1.7 9.3h0M-10.2 10.3h0M-9.1 68.4h0M41.2 3.1h0M-59.5 34.2h0M31.6 5.2h0M46.2 1.9h0M-22 13.8h0M-18.9 13.1h0M45.2 5h0M-54.7 28.3h0M-49.1 24.1h0M9.2 66.1h0M-7.2 67.9h0M12.9 66h0M-65.9 37.8h0M-36.5 19.6h0M-13.2 10.2h0M-15.5 71.3h0M-58.7 28.2h0M-58.2 25.6h0M46.6 3.3h0M-18.5 11.8h0M-28 15h0M41.9 2.2h0M7.6 6.9h0M35 5.2h0M-23.9 14.8h0M67.3 7h0M20.7 4.9h0M-69.7 41.6h0M42.2 2.8h0M-29.6 12.1h0M-62.9 32.3h0M-8.1 70.7h0M-3.5 6.7h0M-42.4 20.1h0M-33.8 18.1h0M7.3 68.1h0M11.5 7.3h0M38.9 3h0M-32.6 18.3h0M-54.3 25.7h0M-29.6 14.7h0M-58.2 29.5h0M3.9 5.2h0M-57.8 25.7h0M69.9 6.5h0M-22.5 67.6h0M40.2 5.4h0M-17.1 11.2h0M-37.4 19.3h0M-7.2 67.4h0M-40.5 21.6h0M46.4 2.1h0M-65.7 39.2h0M-63.5 33.6h0M-23.7 67.5h0M48.6 3.1h0M-53.2 21.9h0M34.7 1.8h0M0.6 69.2h0M64.7 2.7h0M-10.1 67.1h0M-14.7 12.2h0M-12.1 70.6h0M-36.8 15.9h0M-13.8 67.4h0M-28.3 12.3h0M-40.9 16.6h0M-57.2 28.6h0M31.9 5h0M9.7 69.2h0M-70 35.8h0M-39.6 20h0M-42.5 18h0M-0.1 5.6h0M-71.6 37.6h0M7.7 3.6h0M10.8 5.7h0M-73.1 42.7h0M-10.4 69.8h0M29.9 2.3h0M14.8 3.9h0M29.1 -16.7h0M28.7 1.9h0M-23.9 13.8h0M-5.4 -5.4h0M-62.7 31.8h0M19.3 4.3h0M22.2 2.5h0M-15.8 67.8h0M39 -16.6h0M16.8 -12.6h0M-71.1 -6.9h0M-7.5 -5.4h0M61 -27.2h0M64.3 -34.5h0M70.8 -40.7h0M27.8 -14.6h0M-27.2 -2.7h0M36.1 -18h0M70.4 -35.5h0M33.9 -15.7h0M-9.6 -7.6h0M73.6 -35.3h0M69.4 -44h0M64 -32.2h0M23.7 -13.8h0M64.3 -32h0M9.8 -70.3h0M69.1 -39.6h0M-11 -7.6h0M23 -15.2h0M-24 -2.7h0M62 -34.5h0M-58.5 -7.7h0M-27.1 14h0M30 4.9h0M23.4 4h0M-14.2 68.4h0M-71.7 39.9h0M-70.8 40.8h0M59.3 4.2h0M-47.4 25.2h0M-41.9 22h0M-15.2 67.5h0M52.5 4.8h0M51.1 3.3h0M-21.3 67.2h0M-70.6 35.9h0M67.9 5h0M-71.6 38.4h0M4.9 69.1h0M-20.6 68.4h0M-18.1 10h0M71 7.7h0M-17.8 8.8h0M-7.2 9.6h0M-38.1 18.7h0M-67.7 39.1h0M-67.4 45.2h0M-13.6 68.7h0M-16.1 10.3h0M-20 12.4h0M30.1 4h0M-46.3 18.9h0M-55.1 29.1h0M-18.8 11.8h0M7.7 67.1h0M-65 36.5h0M71.8 -38.9h0M-4.2 -71.8h0M11.4 -71.3h0M19.7 -12.9h0M23.3 -11.1h0M-66.5 -7.8h0M-54 -5.2h0M-32.5 -4.6h0M62.5 -34.3h0M-71.1 -7.7h0M-4.7 -71.9h0M28.3 -15.8h0M59.5 -32h0M-1 -68.2h0M58.3 -30.6h0M57.9 -28.4h0M-15.7 71.4h0M0.1 69.5h0M55.8 2.3h0M-66.7 43.8h0M-13.1 68.3h0M-51.5 22.1h0M-15.7 12.4h0M-66.1 34.3h0M69.5 7.8h0M70.5 4.9h0M-30 17.3h0M-12.4 68.1h0M-13.5 8.8h0M7.4 5.8h0M-20.4 12h0M-4.8 69.5h0M-68.7 38.9h0M-55.5 26.5h0M34.1 1.4h0"/><path stroke="#471063" d="M63.6 -44h0M52.1 -32.3h0M64.5 -42.1h0M-25.5 -8.5h0M1 -12.5h0M40.7 -25.3h0M48.7 -29.2h0M-60 -11.1h0M16.7 -68.4h0M3 -12.4h0M13.6 -14.3h0M4.6 -67.2h0M13.8 -13.5h0M10.3 -67.6h0M-53 -8.6h0M1.1 -66.3h0M54.3 -32.8h0M-7.9 -9.6h0M23.3 -17.3h0M-49.6 -9.9h0M-9.9 -10.8h0M59.5 -37.5h0M-52.6 -7.8h0M55.5 -32h0M63.2 -41.8h0M62.5 -37.2h0M41.1 -22.9h0M-4.7 -10.6h0M59.6 -38.3h0M20.6 -67.4h0M62.2 -41.1h0M-65.6 -10.9h0M-3.2 -9.8h0M22.1 -17.5h0M51.8 -28h0M29.4 -18.8h0M26.8 -66.2h0M-25.8 -8.1h0M6.8 -66.9h0M-12.9 -66.1h0M-14 -9.1h0M14.8 -14.5h0M-63.6 -10.7h0M56 -34.4h0M-38.1 -8.1h0M12.2 -12.8h0M35.2 -20.8h0M49.3 -27.4h0M-53.6 -9h0M-25.8 -9.4h0M56 -32.7h0M-12.3 -8.7h0M-7.6 -10.8h0M57.6 -37h0M-60.2 -10.1h0M-10.8 -10.6h0M-53.3 -10.8h0M-20.4 -8h0M-54.8 -9.6h0M12.8 -68.2h0M-61.3 -10.3h0M30.4 -20.5h0M16.8 -15.5h0M-62.2 -12.5h0M-67.6 -11h0M65.4 -46.4h0M18.9 -68.7h0M-44.2 -9.8h0M-35.2 -9.1h0M56.5 -32h0M-64.2 -12.7h0M32.7 -19.2h0M58.7 -34.2h0M17.5 -67.4h0M33.6 -19.5h0M46.3 -25.8h0M-13 -65.1h0M61.5 -38h0M-58 -9.4h0M-27.6 -9.6h0M24.8 -18.6h0M-39 -7.3h0M61.2 -35.6h0M-34 -8.5h0M61.6 -37h0M-65.5 -10.9h0M-13.2 -65.2h0M33.4 -20.8h0M-3.1 -66.7h0M-12.5 -65.8h0M-34.6 -8.3h0M-4.4 -66.8h0M-23.5 -9.7h0M-65.7 -10.4h0M46.3 -25.8h0M-68.5 -11.1h0M16.2 -14.8h0M-1 -11.7h0M-47 -7.8h0M11.4 -15h0M24.4 -16.7h0M-3.9 66.6h0M66.4 9.9h0M-31.8 63.1h0M-57.2 33.8h0M48.4 6h0M-59.1 48.5h0M-61 36.5h0M-2.6 65h0M-28.1 63.6h0M-56.3 33.5h0M22.7 6.2h0M48.7 5.9h0M-1.6 11.5h0M-64.1 45.7h0M12 64.3h0M-36.6 21.4h0M-13.1 64.4h0M25.1 7.4h0M-33 21.6h0M-28 17.6h0M55.1 8.7h0M-60 46.2h0M-40.8 24h0M-55.2 33.4h0M25.5 7.9h0M-58.7 49.7h0M-3.2 11.9h0M4.4 9.4h0M-59.5 39.7h0M36.4 8.1h0M26 6.2h0M-16.9 15.5h0M-47.5 28.2h0M17.3 7.3h0M-24 66.5h0M-53.3 33.4h0M-61 40.4h0M61.8 10.6h0M69.5 10.1h0M-59.3 47.8h0M2.9 63.8h0M-57.3 37.3h0M14.9 62.5h0M1.2 64.3h0M-49.3 30.3h0M-62.7 45.5h0M34.1 7.3h0M-48.4 28.5h0M-23.6 64.9h0M39.5 6.7h0M-53.7 34.4h0M-2.2 10.7h0M-26.1 16.8h0M10.4 7.6h0M-58.2 33.9h0M54.7 8.5h0M-19.5 65.7h0M-58.5 34h0M-5.4 64.7h0M-56.9 35h0M10.8 64.9h0M-60 47.5h0M61 8.1h0M-22.7 65.1h0M57.7 7.8h0M-60.3 46.6h0M7.2 9.7h0M-5.4 11.1h0M-39.3 21.4h0M2.1 64.4h0M-58.8 42.1h0M-5.4 11.4h0M1.7 9.3h0M-18.2 14.2h0M-60.3 -9.4h0M-37.9 23.6h0M10 9.8h0M-25.1 66.1h0M46.4 6.5h0M52.9 7.9h0M40.3 7.3h0M24.1 6.3h0M53.1 6.5h0M-14.2 14.3h0M-31.2 20.4h0M46.1 7.2h0M7.5 9.4h0M-27.6 17.9h0M-16.6 15.2h0M59.8 -37.4h0M-10.2 -10.9h0M67 -45.2h0M59.4 -39.3h0M-0.5 -67h0M-46.4 -9.8h0M45.4 -24.5h0M22.1 -66.1h0M64 -43.7h0M3.1 -67.3h0M54.3 -31.9h0M54.3 -33.3h0M66.6 -46h0M49.3 -28.2h0M63.7 -45.7h0M-67 -10.6h0M61.1 -36.5h0M0.8 -12.6h0M22.5 -18.1h0M45.7 -28.1h0M6.5 9.5h0M53.4 8.2h0M-36.2 22.5h0M2.3 65.7h0M17.4 8.1h0M31.7 7.5h0M-63.2 40.8h0M42.2 6.8h0M-62.3 39.8h0M-46.1 25.6h0M-47 28.8h0M-59.7 45.5h0M-60.2 48.5h0M67.3 10.3h0M-47.5 25.8h0M-29.3 17.7h0M66.8 10.4h0M-3.3 -66.7h0M-1.8 -11.1h0M12.3 -68.2h0M7.4 -66.6h0M3.3 -68.2h0M-10.6 -66.3h0M56 -33.3h0M-30.8 -8.9h0M35.6 -21.1h0M64.4 -41.2h0M46.8 -27.4h0M12.5 -66.8h0M-26.2 63.9h0M3 65.5h0M-19.6 64.9h0M0.6 64.6h0M43.4 7.2h0M-12.9 64.6h0M-26 64.8h0M4.4 64.6h0M-59.8 40.9h0M-12 66.2h0M39.2 7.5h0M9.4 63.3h0M-9.1 66.3h0M8.9 65.4h0M4 9.9h0M6 65.4h0M30 7.1h0M8.4 65.2h0M-59.6 42.9h0M-4.1 65.6h0"/><path stroke="#48186a" d="M8.3 -65.6h0M-5.8 -12.3h0M8.2 -66h0M59 -40.2h0M25.6 -20.5h0M28.1 -64.5h0M-19.4 -11.1h0M-4.5 -65.1h0M61.6 -47.6h0M-35.5 -9.6h0M39.9 -26h0M-28.9 -10.2h0M0.6 -64.2h0M41.4 -28.3h0M-23.4 -10.7h0M-4.3 -64.7h0M-45.8 -11.7h0M55.7 -39.5h0M0.6 -13h0M21 -19.3h0M47.1 -30.6h0M-11.3 -11.5h0M30.4 -63.3h0M22.1 -19.7h0M-47.8 -10.9h0M-39.2 -10h0M-7 -13.2h0M28.7 -63.8h0M-20.1 -10.5h0M-29.7 -9.9h0M28.1 -22h0M-14.6 -62.5h0M-50.9 -12h0M23.6 -20.1h0M57.5 -46.1h0M-27.5 -10.3h0M25.7 -19.9h0M-3.4 -64.7h0M-13.6 -64.1h0M10.1 -65.1h0M-35 -10.4h0M20.7 -65.9h0M24.2 -64.5h0M-11.5 -11.3h0M-18.6 -11.8h0M30.9 -63.1h0M61.2 -46.9h0M32.1 -22.2h0M61.2 -48.4h0M60.5 -43.3h0M7.5 -65.4h0M42.7 -26.5h0M-47.1 -12h0M-63 -14.7h0M-52.1 -10.8h0M-36.1 -10.1h0M37.8 -25.8h0M-12.3 -63.4h0M24 -18.9h0M40.7 -26h0M7.9 -15h0M44.2 -29.7h0M53.8 -36h0M-5.4 -12.6h0M-41.1 -10.9h0M-39.9 -10.7h0M58.6 -47.2h0M47.1 -31.7h0M36.5 -25.1h0M35.9 -23.5h0M42.4 -27.2h0M53.3 -34.7h0M52.6 -35.7h0M22.6 -64.9h0M-47.6 -11.6h0M-10.5 -63.2h0M-27.5 -10h0M27.5 -21.2h0M-37.8 -10.9h0M46.5 -30h0M25.5 -20.5h0M58.3 -44.5h0M-37.7 -9.8h0M18.3 -17.7h0M3.3 -13.4h0M16.9 -17.5h0M-4.9 -12.1h0M20.4 -18.6h0M41.9 -26.8h0M-23.7 -9.9h0M-8.7 15.5h0M45.3 10.3h0M30.2 9.8h0M-22.3 18.6h0M29.4 9.5h0M-23.5 62.1h0M-23.4 62.8h0M53.1 9.6h0M-52.8 53.3h0M-44.2 29.3h0M17.9 10h0M-51.5 53.9h0M-32.5 21.8h0M-15.3 16h0M-57.2 45.2h0M-20.4 18.4h0M13.4 61.8h0M-36.9 24.5h0M-37.1 60h0M56.5 10.9h0M-26.1 19h0M-15.5 16.8h0M-41.5 59h0M35.2 9h0M-36 61.6h0M-58.9 43.5h0M45.3 9.5h0M-52.5 34.1h0M-3.8 64.2h0M-57.9 41.1h0M-51.7 35.4h0M57.2 11h0M8.8 11.2h0M-53.7 48.9h0M-0.5 62.9h0M-56.2 42.9h0M52.2 11.1h0M44.1 9.5h0M-35.5 61.2h0M-16.4 16.3h0M-47.3 32.1h0M-31.7 23.3h0M-56.1 38.5h0M-26.8 62.3h0M-56.7 39h0M-5.1 62.9h0M-55.9 49h0M24.1 9.6h0M3.1 11.5h0M64.4 13.4h0M11.4 62.1h0M-24.7 63.1h0M44.6 9.1h0M-56.1 45.5h0M56 10.9h0M65.3 12.7h0M-10.2 15.1h0M-54.6 43.6h0M-54.6 44.2h0M-34.4 60.3h0M-55.4 51.5h0M-52.6 35.5h0M-38.3 59.1h0M55.3 10.9h0M-53.2 52.4h0M4.4 63.2h0M50.4 10.3h0M13.2 61.4h0M15.1 61.3h0M6.7 10.6h0M14.3 11h0M-48.9 31h0M-56.2 49.1h0M-56.3 49.8h0M-49.6 31.7h0M-7.9 64.2h0M-12.8 63.5h0M-49.1 32.9h0M-55.4 41.1h0M-15.3 62.7h0M21 10h0M-13.9 63.7h0M36.9 10h0M-52 52.9h0M-45.8 28.6h0M-0.7 62.8h0M-56.5 51.1h0M-29.1 20.7h0M54.9 11.3h0M3.2 11.8h0M35.7 9.1h0M0.4 13.1h0M-32.3 21.5h0M-8.8 62.8h0M-40.2 58.9h0M39.2 9h0M59.1 11.7h0M-20.6 62.2h0M4.2 63.5h0M-44 29.6h0M1.4 62.3h0M-51.1 33.1h0M-31.3 62.4h0M-21.2 63.2h0M-51 53.7h0M-23.3 19.2h0M3.5 12.4h0M-48.4 32.4h0M54.7 9.4h0M-44 27.9h0M-2.7 12.9h0M-28.9 20.6h0M-56.9 44.4h0M-11.3 14.8h0M35.2 8.9h0M18.6 -17.9h0M11.6 -65.3h0M19.1 -65.1h0M13.9 -16.9h0M23.9 -65.5h0M-43.1 -11h0M50.2 -34.1h0M60 -47.9h0M33.7 -23.6h0M30.6 -21.3h0M-58.4 -12.8h0M-49 -10.3h0M-36 -11.1h0M-59.3 -14.2h0M15.1 -16.1h0M61.1 -48.5h0M46.5 9.2h0M12.3 11.3h0M-31.1 21h0M38.4 9.3h0M-57 39.7h0M15.5 10.6h0M65.1 13.9h0M-39.9 26.7h0M52.7 9.7h0M-42.2 27.1h0M-0.5 63.1h0M-32.1 61.6h0M65 13.7h0M-43.8 -11h0M43.4 -27.2h0M15.3 -17h0M7.7 -65.2h0M4 -65.3h0M-7.5 -12.9h0M4.6 -14.8h0M58 -46.5h0M17.6 -17.6h0M57.3 -39.2h0M50.9 -33h0M-38.4 -10.6h0M-8.5 -64h0M-0.6 -64.5h0M58 -43.8h0M45.3 -29.9h0M5.6 -65.5h0M-8.5 -11.6h0M5.9 63h0M10.7 61.9h0M11.1 10.7h0M-29.1 61.4h0M-55.1 42.9h0M-23.9 62.4h0M32.8 8.6h0M40.6 9.7h0M-9.2 63.6h0M61.6 11.1h0M3.7 63.5h0M-51 53.4h0M49.6 9.8h0M-45.7 31h0M-10.3 62.9h0"/><path stroke="#481f70" d="M-3.1 -62.5h0M-27.8 -12.8h0M-57 -13.9h0M39.5 -60h0M-5.3 -14.6h0M-52.1 -14.2h0M-7.5 -13.2h0M21.4 -20.3h0M-1.7 -15.4h0M-40.3 -11.8h0M-45.7 -12.6h0M19.9 -63h0M31.4 -25h0M-26.7 -12.8h0M-17.1 -60.6h0M-18.2 -61.2h0M55.6 -49.1h0M10.8 -17.6h0M-61.9 -16h0M22.1 -62.9h0M-48.6 -12.5h0M16 -63.4h0M22 -63.9h0M-49.8 -13.7h0M32.8 -62.4h0M54.2 -48.2h0M54.5 -46.8h0M33.4 -25.5h0M13.1 -63.6h0M29.8 -63h0M47.9 -34.7h0M49.3 -35.8h0M0.8 -14.9h0M51.4 -36.3h0M-50.1 -14.2h0M21.2 -63h0M25.4 -62.7h0M-14 -13.5h0M34.3 -62h0M27.7 -22.4h0M29.4 -63.3h0M33.2 -61.8h0M7.9 -17.3h0M-8 -13.6h0M15.7 -19.4h0M-47.4 -12.5h0M49.5 -36.9h0M7.9 -16.8h0M18.5 -63.7h0M55.1 -51.6h0M23.1 -20.6h0M17.9 -64h0M54 -48.5h0M55 -45h0M46.7 -34.4h0M-22.8 -12.3h0M34.4 -25.1h0M30.9 -63h0M-15.1 -13.1h0M-9.6 -62.5h0M35 -61.2h0M28.8 -23.8h0M-21.2 -13h0M22.5 -21.4h0M5.3 -15.9h0M27.9 -22.9h0M-51.5 -13.5h0M-18.5 -13.1h0M1.6 -15.7h0M-46.5 -12.4h0M43.6 -29.8h0M19.5 -62.9h0M57.1 -47.4h0M-55.6 -14.1h0M-61.1 -16.9h0M11.4 -17.2h0M-4 -14.3h0M54.1 -43h0M45.9 -33.2h0M50.2 -37.5h0M54.9 -40.6h0M39.8 -59.7h0M53.4 -38.3h0M22.4 -63h0M-37.5 -12.3h0M-6 -13.9h0M6.7 -64h0M-52.1 -13.9h0M-47.1 -13.2h0M32.2 -62.2h0M-22.3 -12.3h0M54.5 -45.2h0M54.9 -43.7h0M-61.9 -17.4h0M55.3 -40.5h0M-59.4 -14.6h0M55 -50.1h0M-33.5 -12.6h0M11.9 -17.9h0M31.3 -61.5h0M6.2 -15.8h0M15 -64.2h0M24.7 -21.6h0M55.1 -50.3h0M-48.3 -13.3h0M7.6 -16.5h0M-22.8 -12.1h0M40.5 -29h0M-39.6 -12.7h0M12 -18.1h0M2.7 -15h0M-35.7 58.5h0M-23.6 61.5h0M-23.8 60.7h0M-31.6 59.1h0M15.2 59.4h0M-24.2 61.2h0M23.6 11.3h0M-42.3 29.6h0M-51 47.3h0M63.4 13.8h0M-48 37.3h0M-50.4 46.9h0M-3.9 14.5h0M-35.3 26.6h0M-5.8 15.4h0M-12.3 16.9h0M-12.9 17.6h0M-18.2 18.9h0M-42.9 55.4h0M23.7 11.2h0M-48.1 34h0M63.4 14.3h0M-41.9 55.4h0M19 59.7h0M1.7 61.8h0M15.4 11.4h0M19 11.9h0M-0.3 14.9h0M-20.7 61.2h0M-5.6 15.7h0M-23.2 60.5h0M48.8 11.6h0M-39.7 56.9h0M46 11.1h0M-51.2 51.1h0M-38.3 27.6h0M-32.4 60h0M-29.3 60.9h0M-13.6 62.1h0M12.3 12.6h0M-11.9 17.8h0M12.2 60.4h0M1.7 61.2h0M-10.4 17.2h0M-13.9 61.7h0M-52.7 48.8h0M-49.7 39.3h0M-49.3 50.9h0M-43.5 56.2h0M-44.1 30.6h0M-4.6 61.2h0M15.9 60.1h0M-46.3 54.5h0M-28.6 23.4h0M-45.1 31.7h0M-46.5 54.4h0M-8.6 61.4h0M55.9 13.1h0M28.3 10.9h0M6.8 60.7h0M-10.3 16.5h0M-47.2 52.5h0M-48 52.4h0M-14.5 61h0M36.9 10.1h0M-24.3 61.4h0M7.9 12.4h0M-35.1 26.3h0M-50.4 50.8h0M4.2 13.1h0M52.4 12.9h0M19.5 59.2h0M-48.8 37.2h0M-52.1 46.7h0M-15.3 62.2h0M-33.3 59h0M44.2 11.2h0M-52.2 45h0M59.4 13.6h0M15.5 11.9h0M-50.6 38.8h0M-51.9 50.6h0M-44.1 56.4h0M13.5 60h0M-51.4 47.9h0M8.9 60.8h0M37.3 10.4h0M-36.9 58h0M14.9 60.3h0M38.9 10.8h0M-50.1 41.2h0M37.2 10.7h0M-7.4 61.2h0M-30.9 59.1h0M59.2 13.6h0M-50.7 43.3h0M24.3 11h0M1.5 13.9h0M32.8 11.4h0M-29.9 60.6h0M19.5 59.4h0M-52.5 43.3h0M60 14h0M-44.2 31.2h0M-25.6 61h0M-19.7 61.8h0M16.3 59.6h0M52.1 12.1h0M-9.7 16.3h0M63.4 15.6h0M5.6 60.8h0M-7.1 61.7h0M33.4 10.5h0M54.6 11.6h0M-36.9 58.8h0M-29.4 60.9h0M30.2 10.1h0M-50.4 50.9h0M-28 60.2h0M10.3 61.1h0M12.2 11.7h0M-29.7 23.8h0M3.2 13.9h0M46.8 11.7h0M28.8 10.9h0M-39.4 28.7h0M-44.4 53.9h0M-47.7 35h0M-6 15.3h0M-47.8 -12.7h0M27.7 -22.4h0M50.2 -37.1h0M30.3 -62.3h0M-54.6 -14.8h0M-9.7 -62.1h0M38.6 -27.2h0M57 -46.4h0M-51.4 -14.2h0M53.5 -42.5h0M17.8 -18.8h0M5.7 13.2h0M-49.7 36.7h0M-42.8 31.8h0M-42.9 57.4h0M-42.1 31h0M-26.6 60.2h0M9.4 12.6h0M37.6 10.7h0M54.1 12.3h0M-47.9 36.9h0M-41.7 56h0M-19.5 61.7h0M-28.2 22.4h0M-49.3 36.7h0M45.1 11h0M11.4 -18.1h0M7.4 -63.1h0M-18.8 -13.2h0M12.6 -63.1h0M-10.3 -62.2h0M-35.1 -11.8h0M41.7 -58.5h0M15.6 -63.2h0M37.7 -60.5h0M41.8 -28.9h0M-7.2 -63.2h0M1.3 -15.6h0M-42.2 -11.9h0M-12.6 -13.3h0M54.8 -43.4h0M-59.3 -15.5h0M-2.7 -63.1h0M-3.7 -62.6h0M-0.5 -63.9h0M-17.7 -60.8h0M35.4 -61.5h0M40.9 -59.3h0M1.8 62.1h0M46.7 10.8h0M-16.2 17.8h0M16.1 60.4h0M-44.4 55.1h0M45.4 11.9h0M-5.2 61.4h0M36.6 10.9h0M23.3 11.2h0M-35.2 26.3h0M-51.4 42.8h0M10.5 12.4h0M-5.8 61.6h0M19.8 58.8h0M-4 61.8h0M60.3 14.2h0M-50.7 46.3h0M-12.5 61.9h0M-8 62.3h0M-51.1 44.1h0M-53.5 44.7h0M-41.4 57.3h0M-52.4 46.3h0"/><path stroke="#482576" d="M50.4 -39.6h0M-28.8 -13.1h0M-47.8 -15.1h0M-30.9 -13h0M42.8 -32h0M51.4 -50.1h0M46.5 -56h0M51.8 -50.7h0M45.4 -56.1h0M38.7 -58.1h0M40.4 -30.5h0M-58.4 -17.6h0M44.6 -56.8h0M-2.3 -61.6h0M50 -51.6h0M51.5 -42.1h0M24.6 -61.4h0M-16.1 -13.6h0M-5.6 -15.1h0M5 -17.5h0M-4.8 -15.2h0M4 -16.8h0M11.5 -62h0M37.3 -29.7h0M19.6 -20.9h0M25.6 -61.5h0M48.4 -38.8h0M13.7 -19h0M5.9 -17.7h0M-15.9 -14.4h0M-2.1 -61.4h0M38.4 -59.1h0M37.5 -59.5h0M36.8 -29.2h0M-58.2 -16.1h0M40.6 -58h0M-24.2 -14.1h0M-44.6 -13.8h0M-9.6 -60.7h0M42.5 -56.3h0M-15.1 -59.9h0M51.7 -48h0M24.6 -62h0M41.2 -30.5h0M44.8 -34.4h0M51.3 -47.1h0M-10 -61.4h0M-56.3 -17.1h0M11.9 -62.7h0M0.9 -62.6h0M-52 -15.1h0M40.3 -57.4h0M31.7 -60.1h0M50.8 -46h0M-28.5 -13.4h0M23.2 -61.4h0M-1.3 -61.4h0M-18.8 -13.4h0M-6.5 -60.8h0M52.4 -49.3h0M-7.6 -61h0M45.8 -54.1h0M-16.3 -60h0M-42.2 -14h0M36.6 -28.4h0M50.1 -49.1h0M-48 -14.6h0M14.3 -20.2h0M10.1 -18.1h0M-26.5 -13.7h0M25.6 -22.9h0M45.4 -33.9h0M49.3 -38.4h0M44.2 -33.3h0M-52.6 -15.4h0M-1.8 -61.9h0M40.1 -30.3h0M17.7 -21.2h0M-19.3 -59h0M53.2 -44.2h0M11.8 -61.9h0M9.8 -19h0M-45.8 -13.9h0M-12.9 -61h0M19.4 -62.6h0M47.4 -36.3h0M17.3 -62.6h0M37.5 -29.2h0M50.9 -47.7h0M-10.9 -60.6h0M13.2 -19h0M39.1 -57.7h0M27.2 -61.4h0M35.3 -27.2h0M-43.8 -14h0M27 -23.9h0M38 -59.3h0M35.9 -59.7h0M49.5 -53.3h0M50.4 -39h0M-7.5 -60.7h0M48.6 -39.2h0M2.1 -16.4h0M-37.1 -13h0M50.8 -44.2h0M28.7 -25.1h0M-15.2 -60.2h0M-58.8 -16.6h0M49.2 -52.2h0M-28.7 -13.3h0M41.3 -57.8h0M34.3 -27.1h0M29 -24.7h0M28.3 -60.9h0M-17.7 -14.5h0M37.5 -28.8h0M38.3 -59.2h0M7.7 -61.9h0M-18.6 -60.2h0M51.2 -50.5h0M11.7 13.9h0M-44.8 50.5h0M-44.8 36.1h0M-48 41.9h0M-17.7 20.6h0M-15.7 60.5h0M-22.4 22.2h0M-28.9 58.3h0M12.1 59.1h0M-48.7 39.3h0M-36.4 28.9h0M-34.2 57.3h0M-14.7 60.6h0M0.7 15.1h0M-16.3 19.9h0M-4.8 61h0M-12.1 18.7h0M-6.5 60.3h0M0.7 15.1h0M-43.9 35.9h0M17 13.4h0M-45.8 37.5h0M-17.6 20.7h0M-14.2 19.8h0M-34.2 27.1h0M-37.5 29.3h0M45.1 12.7h0M2.1 60.1h0M-1.9 60.4h0M58.4 14.4h0M17.9 58.6h0M13.5 13.8h0M48.1 12.9h0M-19.9 20.5h0M-41.5 54.9h0M-22.9 22.1h0M32.8 12.4h0M-45.6 37.1h0M35.4 12.2h0M33.9 11.9h0M36.7 12.6h0M-31.7 26.3h0M-40 32.2h0M-3.1 59.9h0M21.4 12.6h0M-29.6 24.8h0M61 16.7h0M-15.5 19.9h0M-20.1 59.8h0M-36.3 29.4h0M-30.3 25h0M-34.2 57.8h0M-46.7 51.2h0M-40.1 54.1h0M59.8 15.2h0M-50.1 43.4h0M-14 18.9h0M-44.8 52.1h0M50.9 13.4h0M-41.1 53.6h0M-47.7 45h0M-38.9 54.9h0M5.1 59.4h0M-27.2 58.7h0M-39.7 55.6h0M-12.7 60.5h0M-2.2 60.2h0M-1.9 59.8h0M40.7 11.7h0M-27.3 59.4h0M-47.4 39.9h0M41.3 12.2h0M36.1 12.2h0M-20.8 60.3h0M-2 15.4h0M29.5 12.6h0M40.2 12.5h0M55.2 13.7h0M-45.9 38.3h0M-28.3 25.1h0M-22.1 60.2h0M1.3 15.1h0M-40.8 53.8h0M52.4 14h0M-20.6 21.1h0M-42.5 54.8h0M8.3 59.6h0M-27.4 59.4h0M-38 30.3h0M9.5 59h0M-37.8 30.1h0M59.5 14.8h0M-8.8 17.8h0M-43.3 52.9h0M10.9 13.8h0M6.7 14.5h0M51.7 13h0M61.2 16h0M-28.7 58.7h0M9.5 59.7h0M-15.6 60.4h0M56.4 13.9h0M7 13.8h0M-48.1 43.1h0M-45.3 37.3h0M-48.6 42.3h0M44.7 12.9h0M-43.1 53.4h0M-46.5 38.4h0M-45.6 36.7h0M-0.6 60.8h0M-50.3 44.9h0M-31.2 25.1h0M-47.7 46.2h0M-26 23.2h0M-30 25.1h0M18.4 58.3h0M-16.2 19.3h0M40.9 11.9h0M47.8 12.9h0M-40.6 54.2h0M-30.4 26h0M-45.5 52.2h0M-16.9 19.7h0M29.5 12h0M-16.2 19.7h0M-15 19.9h0M-45.5 36.6h0M12.3 13.4h0M-38.4 56.7h0M35.6 12.7h0M-40 31.7h0M20.5 58h0M35.3 12.7h0M4.3 60h0M29.2 11.6h0M-19.3 20.8h0M-47.3 49.5h0M-19.1 60.3h0M54.9 13.9h0M-17.1 20.7h0M43.7 -32.4h0M-60.8 -18.2h0M-27 -13.6h0M35.4 -28.4h0M50.2 -49.4h0M38.7 -30.2h0M24.6 -22.7h0M49.7 -52.5h0M-28.7 -13.2h0M52 -45.2h0M-27.8 -13.6h0M-44.1 53.5h0M-22.6 21.5h0M2.9 14.6h0M-28.9 58.5h0M2.2 15h0M-17.6 60.4h0M-10.7 18.7h0M-39.2 30.3h0M-39 56.5h0M-42.3 53.6h0M-27.8 25h0M11.2 13.9h0M-33.7 26.9h0M-2.9 60.8h0M12.6 13.2h0M0.7 14.9h0M23.8 12.6h0M-28.5 -13.9h0M-0.1 -61.4h0M-22.2 -13.8h0M41 -31.4h0M-27.3 -12.8h0M5.5 -62.1h0M-3.1 -62.2h0M-15.6 -60.1h0M9.4 -62.3h0M40.1 -57.2h0M-8.9 -61.5h0M-12.2 -61.1h0M-18.3 -13.9h0M-6.4 -15.4h0M22.5 -61.3h0M-4.4 -61.3h0M-19.9 -14.2h0M52 -50.8h0M22.5 -61.7h0M-8.2 -60.9h0M11.6 59.7h0M-8.3 17.8h0M-43.3 34.4h0M-47.5 48.5h0M29.8 11.7h0M-5.5 60.8h0M-14.1 60.2h0M-13.6 60.5h0M9.8 13.9h0M-45.6 37.7h0M-43.5 53.4h0M-24.8 59.6h0M-32 26.9h0M-10.8 18.3h0M-38 29h0M52.8 13.7h0M-17.9 60.6h0M1 59.7h0M-44.5 51.1h0"/><path stroke="#472d7b" d="M-38.7 -14.5h0M-22.9 -14.8h0M-14.7 -15.7h0M49.7 -45.5h0M-52.1 -17.1h0M26.8 -25h0M30.1 -59.8h0M28.9 -59.5h0M47.7 -42.3h0M44.9 -37.2h0M38.9 -56.8h0M31.9 -27.9h0M39.9 -56.5h0M-32.8 -15h0M46.9 -50.2h0M-24.7 -14.3h0M44.3 -54.2h0M-58.6 -19h0M-43.7 -15.9h0M28.6 -26.8h0M37.9 -56.7h0M-8.1 -60.2h0M-43.2 -15h0M43.9 -35.5h0M-59.7 -18.9h0M44.8 -37.4h0M-59.2 -19h0M34.4 -29.6h0M24.6 -60.1h0M-56.1 -18.8h0M49.2 -48.5h0M-58.8 -19.9h0M26.9 -25.1h0M49.5 -46.9h0M-13.2 -15.1h0M13.9 -60.7h0M-23.5 -14.7h0M39.2 -55.7h0M27.6 -60.3h0M-55.2 -17.4h0M34.4 -29.4h0M2.5 -61h0M-34.3 -15h0M-1.3 -60.9h0M-19.7 -58h0M44.2 -35.8h0M7.3 -18.9h0M49.8 -41.8h0M40.8 -55.4h0M20.7 -60.2h0M-4.4 -60.9h0M-17.4 -14.7h0M-24 -14.5h0M44.5 -53.5h0M34.8 -57.8h0M-58.4 -19.3h0M-5.5 -60.2h0M14 -61.2h0M44.1 -35.1h0M37.2 -57h0M48.1 -44.5h0M40.5 -56.7h0M-42.2 -15.7h0M37.5 -57.7h0M-43.3 -14.8h0M-7.5 -60.2h0M-39.3 -14.3h0M5.5 -18.8h0M46.5 -37.7h0M1.2 -60.9h0M17.7 -22.2h0M41.9 -55.6h0M-14.2 -59.4h0M48.2 -41.6h0M24.7 -60h0M37.8 -31.7h0M-37.6 -15.2h0M9.1 -19.6h0M48.7 -47.6h0M35.9 -29.4h0M-13.6 -15h0M10.8 -20.1h0M36.2 -58h0M22.3 -60.7h0M47.6 -50.2h0M15.5 -21.4h0M31.9 -59.1h0M42 -34.5h0M-15.1 -15.3h0M-3.6 -16.4h0M-3.8 -16.6h0M22.6 -24.3h0M37.5 -31.2h0M9.7 -61.2h0M-19.9 -58.3h0M4.9 -61.6h0M47.9 -42.2h0M45.9 -53.4h0M39 -31.6h0M25 -60.5h0M25.4 -25.2h0M40.7 -33h0M1.1 -61.5h0M-41.9 -15.6h0M14.7 -20.6h0M-41.4 -14.8h0M-14.8 -59.7h0M30.9 -27.3h0M16.4 -60.5h0M14 -20.6h0M28.1 -59.5h0M41.6 -54.6h0M-27.1 -14.8h0M-7.7 -15.9h0M39.8 -57.2h0M27.8 -59.2h0M31 -27.4h0M23.1 -60.8h0M33.8 -28.6h0M2.7 -61.3h0M21.9 -60.5h0M16.6 -21.6h0M-21.9 -14.7h0M41 -32.7h0M35.9 -29.7h0M37.7 -31.6h0M-10.9 -59.4h0M20 56.5h0M-21.9 23.3h0M-40.6 33.2h0M-40.4 33.4h0M18.7 56.8h0M36.2 12.8h0M10 15.3h0M12.3 58.1h0M-42.4 34.4h0M-0.9 16.7h0M-3.5 17.1h0M-37.4 30.4h0M35.8 12.9h0M1.4 58.7h0M12.8 14.2h0M-47.4 42.7h0M-13.3 19.8h0M-45 38.1h0M5 58.6h0M-47.1 46.2h0M17.8 57.7h0M-4.7 59.4h0M47.6 13.7h0M-10.1 59.4h0M8.7 15.2h0M-5.7 18.3h0M38.2 13.5h0M53.8 15.4h0M6.5 58.9h0M2.1 16.7h0M-45.5 45.9h0M-32.5 55.7h0M-13.9 20.8h0M-29.5 57.5h0M-45.2 47.2h0M-44.6 48.8h0M22.4 56.1h0M-44.5 36.7h0M-25.6 24.8h0M-28 57.3h0M-2.8 17.1h0M-12.9 58.8h0M-22.8 23.4h0M-45.9 46.5h0M-21.3 58.4h0M-46.7 45.2h0M40.3 13.9h0M-36 30.9h0M-23.5 58.3h0M5.9 58.4h0M-23.7 23.4h0M7 58.2h0M-8.8 59.1h0M-13.4 20.2h0M35.9 13.4h0M-44 49.9h0M-40.6 52.1h0M-46.4 43.1h0M-46.8 41.4h0M-43.9 37.2h0M-25.5 57.2h0M-44.6 47.3h0M57.4 16.9h0M-40.7 34.8h0M-44.7 38.4h0M55.4 16.4h0M43.6 13.7h0M-32.8 56.6h0M26.9 13.4h0M-13.3 19.5h0M45.6 14h0M-27.7 57.9h0M-9.3 19.4h0M-26.2 58h0M55.3 15.4h0M16.1 14.5h0M1.7 59.2h0M-38.8 54.1h0M21 13.2h0M9.3 58.5h0M-47.2 44.5h0M-42.3 37.1h0M22 13.6h0M40.1 13.4h0M-45.7 42.2h0M3.5 15.9h0M-1.1 16.7h0M5.2 16h0M-44.2 37.7h0M-32.4 28h0M1.6 16.1h0M-43 36.4h0M-38.2 54.7h0M-22.8 23.2h0M56.3 16.3h0M57.6 16h0M-33.7 55.3h0M-43.9 51h0M-38.7 53.9h0M26.7 13h0M-44.9 40.1h0M-30.9 56.4h0M-41.1 33.4h0M6.3 58.4h0M-42.4 36.2h0M20.4 57.3h0M-45.7 45.1h0M8.1 58.4h0M-32.3 56.3h0M-36.5 29.9h0M-12 59.5h0M15.4 14.3h0M-40.4 53h0M1.9 16.1h0M-42.4 50.3h0M-45.2 46.7h0M-11.9 59.1h0M46.7 13.9h0M-17.5 21.8h0M14.1 57.7h0M6.1 15.6h0M5.6 58.7h0M19.4 14.1h0M-17.1 59.2h0M-26 57.6h0M26.9 13.5h0M-34.9 29.9h0M-29.4 -14.8h0M-36 -14.7h0M47.6 -48h0M-34.3 -14.3h0M0.6 -17.8h0M31.5 -26.9h0M-34.3 -14.1h0M36.3 -58.4h0M46.9 -37.8h0M-3.8 -61.1h0M-19.3 -15.4h0M27.7 13.6h0M-4.9 58.9h0M6.2 15.8h0M-7 18.4h0M-41.7 50.4h0M-33.9 -14.2h0M-15.7 -15.5h0M38.7 -31.3h0M-43 -15.2h0M8.5 -61h0M38.3 -31.3h0M-45 -15.1h0M-58.8 -18.9h0M24.2 -59.8h0M40.7 -33.4h0M12.1 -20h0M48 -43.8h0M19.6 -23.2h0M-21.1 -58.5h0M17.3 -21.3h0M-11.4 -59.3h0M5.1 -18.4h0M-21.8 -14.7h0M5.8 -60.7h0M21.8 56.8h0M-4.3 59.3h0M24.4 13.9h0M-27.1 25.2h0M-33.9 29.4h0M-44.9 47.5h0M-6.3 18.1h0M-42.6 35.1h0M23.6 13.8h0M-43.3 36.6h0M-10.5 19.7h0M46.6 13.9h0M-42.9 36.1h0M-10.6 58.8h0M58.1 16.2h0M5.6 58.9h0M40.1 13.6h0M21.4 13.7h0M-1.9 59.6h0M-45.4 45.6h0M-0.9 16.8h0M-11.5 59.6h0M36.6 12.9h0M-44.5 39.8h0"/><path stroke="#46337f" d="M39.9 -53.7h0M-58.7 -20.5h0M28.9 -58.9h0M-40.8 -16.6h0M-7.9 -59.5h0M-13.5 -16.3h0M46.6 -41.6h0M2.6 -19.4h0M-3 -59.6h0M-8.4 -16.8h0M-1.5 -17.9h0M11.1 -60h0M42.8 -53.4h0M-41.4 -15.9h0M-47.9 -16.8h0M38.7 -54.7h0M43.8 -51.7h0M5.6 -19.9h0M21.5 -59.9h0M46.1 -40.5h0M-58.6 -20.6h0M46.1 -49h0M44.7 -51.6h0M34.1 -56.7h0M-31.4 -15.7h0M8.1 -60.6h0M-54 -18.8h0M33.2 -57.7h0M26.1 -26.9h0M43 -37.7h0M7.6 -20.6h0M7.2 -20.2h0M27.5 -27.5h0M26.2 -26.1h0M1.3 -19.1h0M-17.1 -15.9h0M-18.2 -15.8h0M35.1 -56.6h0M-55.4 -19.1h0M-39.4 -15.5h0M-41.6 -16h0M-32.9 -15.4h0M-9.1 -59.3h0M-33.6 -15.3h0M17.4 -59.4h0M-53.7 -19.3h0M31.9 -28.8h0M6.7 -60.2h0M34 -57.3h0M40.2 -34.5h0M-46.6 -17.4h0M5.8 -20.1h0M40.8 -36h0M47.5 -45.7h0M37.3 -55.4h0M46.2 -44.2h0M42.7 -37h0M47.3 -43.5h0M44.3 -50.5h0M3.4 -59.7h0M24.5 -59.1h0M-36 -16.2h0M-15.3 -15.9h0M42.4 -35.5h0M18.6 -59.9h0M45.3 -42h0M8.7 -60h0M-51.5 -17.6h0M31 -57.4h0M13.8 -60h0M21.3 -59.7h0M-52.6 -18.8h0M-56 -19.7h0M-33.9 -15.9h0M25.2 -59.3h0M41.1 -35.5h0M31.2 -28.7h0M-31.2 -15.5h0M-45.8 -16.5h0M45.3 -51.5h0M23.6 -25.7h0M18 -59.4h0M40.8 -34.8h0M-2.3 -17.7h0M37.6 -32.5h0M7.1 -20.1h0M6 -60.6h0M19.3 -59.5h0M8.9 -20.1h0M36.2 -55.5h0M22.4 -59.5h0M13.2 -60.4h0M6.9 -60h0M-7.7 -17.4h0M31.9 -29.1h0M-55.6 -18.8h0M21.4 -59.9h0M9.3 -20.5h0M34.8 -31.1h0M-1.3 -59.9h0M-30 -16h0M45.7 -47.8h0M46 -41.7h0M45.7 -39.4h0M37.2 -33h0M0 -18.5h0M45.2 -49.6h0M1.5 -60.1h0M44.2 -51.2h0M46 -39.8h0M47.5 -47.5h0M44.1 -50.5h0M-55.9 -19.9h0M-48.3 -17.1h0M-29.3 -15.5h0M25.2 -59.1h0M-48.3 -17h0M34.1 -30.9h0M-17.8 -16.4h0M46.6 -48.7h0M-47.6 -17.4h0M4.2 -60.4h0M26.9 -27h0M-16.7 -58.3h0M43.9 -51.6h0M46 -41.4h0M-43 38.4h0M43.9 15.3h0M-36.7 33h0M-21.1 24h0M-12.4 20.5h0M4.8 58.4h0M-26.8 26.6h0M8.2 16.5h0M-16 22h0M-34.2 31.4h0M4 57.6h0M29.9 14.2h0M12.5 15.4h0M39.1 14.9h0M-43.4 47h0M-6.9 19.3h0M-26.7 26.9h0M-43.1 43.8h0M33.4 14.6h0M-21.5 57.1h0M-36.6 52.1h0M-43.8 45.8h0M-16.1 21.7h0M-27.1 56.7h0M0.2 17.8h0M-27 55.8h0M-38.9 50.6h0M56 17.5h0M34.4 14.2h0M48 15.3h0M24.5 55.2h0M58.6 18.2h0M54.4 17.5h0M-31.2 29.2h0M56.2 18.3h0M32.1 13.9h0M-39 51.9h0M2 58.3h0M-41.3 38.5h0M60.2 19.4h0M-27.9 56.2h0M-31.3 28.7h0M43 14.7h0M-20.8 57.7h0M-23.3 56.9h0M36 14.6h0M-17.9 22.8h0M-22.7 24.2h0M21.4 55.4h0M-44 43.9h0M-14 21.2h0M-40.3 37h0M17 56.7h0M-24.3 25.5h0M-23.9 25h0M23.2 14.5h0M-40.6 48.7h0M59.4 19h0M27.4 13.8h0M-11.3 20.2h0M-42.7 38.2h0M15.5 15.4h0M1.5 17.4h0M-1.4 58.6h0M-23.7 56.6h0M-43.2 41.9h0M-43.1 45.1h0M-4.1 58.2h0M11.1 57.2h0M40.3 14.1h0M0.3 17.9h0M22.8 55.7h0M17.7 14.6h0M-11.7 58.4h0M48.2 15.8h0M-27.4 56h0M40.7 14.7h0M-3.1 58.8h0M52.8 16.1h0M-38.9 50.6h0M-34.8 54.2h0M40.2 14.5h0M2.5 57.8h0M-27.3 26.4h0M-11.4 20.1h0M-43.1 44.2h0M50.7 16.3h0M-30.1 28.1h0M34.7 14.3h0M-42.2 40.3h0M-21.6 24.1h0M15.7 15.5h0M-40.7 36.8h0M-43.7 44.6h0M-28.1 26.7h0M55.6 17.5h0M-8.2 58h0M-34 53.9h0M-41.1 38.3h0M-35.2 54.2h0M17.2 14.5h0M-1.2 58.3h0M2.3 57.9h0M-26.5 56.2h0M-7 57.9h0M-42.7 43.8h0M-19.3 57.4h0M-5.1 58.2h0M-43 43.2h0M57.1 18.4h0M-43.2 46.1h0M-43.7 41.8h0M-27.9 55.4h0M37.4 14.7h0M-23.9 25.4h0M-34.6 53.6h0M-9.2 20.3h0M-19 57.4h0M-12.6 20.4h0M-25.4 26.4h0M42.3 14.3h0M-10 19.8h0M37.3 14.7h0M-41 50.3h0M-11.1 20.5h0M-36.2 53.3h0M36.6 13.9h0M13.9 57.1h0M-36.5 32.2h0M-27.1 27.3h0M-37.1 51.9h0M-39.3 34.4h0M-13.4 21.6h0M14.8 56.9h0M-29.4 55.7h0M36.8 14.4h0M50.9 16.2h0M-26.5 56.2h0M-1.1 17.6h0M-10.5 58.3h0M-44.6 43.8h0M52.8 17h0M20.7 14.7h0M-39.5 36h0M26.9 -58.2h0M-24.6 -15.4h0M-13 -16.7h0M44.2 -38.9h0M-53.9 -18.4h0M19.2 -23.5h0M33.2 -30.3h0M-15.3 -16h0M45.6 -45.2h0M-52.2 -19h0M-58.5 -21h0M-44.5 41.7h0M31.7 14.1h0M-19.2 57.7h0M-35.1 32.3h0M29.5 14.6h0M-43.5 -16.8h0M-15.5 -57.9h0M5.4 -60.3h0M-5.6 -59.6h0M5.6 -60.6h0M28.5 -27.4h0M30.8 -29h0M-42 -16.3h0M40.3 -35.2h0M-51.6 -17.7h0M17.2 -59.6h0M23 -59h0M-55.8 -18.8h0M-8.7 -58.9h0M15.3 -59.7h0M-41.7 -16.5h0M43.4 -37.8h0M2.2 58h0M24.2 55.4h0M47.5 15.3h0M-3.9 18.8h0M13.9 56.8h0M-2.9 18.6h0M45.3 15.3h0M-22.2 23.9h0M38.5 14.3h0M-33.9 29.9h0M22 55.7h0M10.8 15.3h0M-31.9 29.8h0M2.9 17.2h0M-34.3 53.8h0M16.5 56.5h0M-27 56.2h0"/><path stroke="#443983" d="M-35.4 -16.3h0M-48.6 -18.8h0M18 -23.7h0M-10.7 -17.2h0M42.5 -39.8h0M5.1 -59.2h0M-8.1 -18.1h0M-56.3 -21.3h0M16.7 -24.2h0M-57 -21h0M13.8 -58.7h0M-0.8 -19.3h0M-57.9 -21.2h0M-49.1 -18.4h0M-52.3 -19.7h0M30.8 -57h0M-29.9 -16.1h0M-55.4 -21h0M-49.3 -18.9h0M14.4 -58.9h0M37.3 -34.3h0M-19.1 -56.9h0M28.5 -57.4h0M8.2 -21.1h0M39.8 -51.7h0M-29.6 -16.8h0M-41.9 -16.9h0M0.6 -58.8h0M8.8 -59.4h0M15.1 -23.4h0M44.1 -45.2h0M6 -59h0M23.4 -26.5h0M17.1 -59h0M20.7 -24.9h0M-13.1 -17.3h0M-14.3 -17.2h0M-5.7 -58.6h0M13.5 -59.2h0M24.4 -58.2h0M-23.2 -55.9h0M41.4 -51.3h0M33.1 -56.1h0M41.5 -39.1h0M19.8 -58.6h0M-51.3 -19.6h0M-4.2 -58.6h0M-11.2 -17.9h0M42.8 -50.3h0M41.1 -37.9h0M41.7 -37.8h0M-23.4 -16.2h0M43.2 -46.8h0M35 -32.6h0M11.3 -21.7h0M44.6 -46.7h0M43.4 -50.2h0M41.1 -37.7h0M30.3 -56.8h0M33.3 -55.4h0M-23.2 -55.5h0M-10.4 -58.4h0M42.6 -50.4h0M42.8 -39.6h0M45.2 -46.4h0M-20.9 -16.4h0M44.4 -48.2h0M-26.7 -16.6h0M-45.7 -17.8h0M22.8 -57.8h0M-15.5 -16.7h0M-3.8 -58.7h0M41.6 -51h0M23.5 -26.7h0M38.2 -34.9h0M-52.4 -20.1h0M-34.1 -17h0M17.6 -24.5h0M32.1 -31.1h0M-13.6 -17.5h0M21.4 -25.1h0M-19.7 -56.1h0M-9.9 -58.4h0M24.4 -26.5h0M-33.5 -16.7h0M11.1 -22.3h0M42.6 -50.9h0M24.6 -57.8h0M24 -58.2h0M-14.5 -17.3h0M-17.4 -57h0M22.8 -25.5h0M38.9 -34.5h0M43.2 -40.6h0M40.2 -53h0M-9.6 -17.9h0M28.5 -28.9h0M45.1 -44.4h0M33.6 -55h0M-15.1 -17.1h0M13 -59.6h0M20.6 -25.2h0M-9.5 -17.7h0M26.4 -57.2h0M-34.3 -16.3h0M39.6 -36.9h0M28.2 -57.8h0M-9.1 -58.3h0M-1.2 -19.4h0M27.3 14.9h0M-9.8 57.1h0M46.8 16.3h0M17.3 16.1h0M21.4 15.7h0M-4.3 57.3h0M38.3 15.4h0M-12.2 56.8h0M44.5 16.2h0M51.3 17.1h0M55.3 18.5h0M15.3 16.1h0M15.6 16.1h0M-37.4 35.5h0M37.6 15.8h0M51.5 17.4h0M23.5 15.6h0M56.3 18.3h0M8.6 16.9h0M-33.4 52.6h0M18.4 15.6h0M11.2 56h0M-35.2 33h0M11.8 56.1h0M-5 19.3h0M-42.1 44.9h0M16.3 55.9h0M-12.9 57.4h0M9.7 16.3h0M-39 38h0M-39.9 44.9h0M18.9 55.3h0M6.8 56.6h0M50.5 17.6h0M26.1 53.4h0M-0.6 57.7h0M-40.8 46.5h0M-2.1 57.8h0M-39.3 37.9h0M-40.3 47.3h0M9.5 16.4h0M-28.8 28.5h0M-37.3 49.5h0M16.7 15.4h0M-1 57.2h0M58.2 20.2h0M-19.4 23.9h0M-41.5 45.5h0M-22.5 56h0M-0.7 57h0M-26.7 55h0M-41.5 45.4h0M40.1 15.3h0M10.1 16.7h0M-38.1 50.6h0M23 15.3h0M-30.5 53.6h0M50.2 17.2h0M-39.7 47.9h0M-38 48.5h0M-8.3 20.4h0M23.9 15.1h0M-33.4 31.6h0M-35.5 32.9h0M-40.1 40.6h0M-33.5 52.3h0M-23.6 26.5h0M17.2 15.7h0M4.8 57.1h0M-25.9 27.6h0M24.2 53.9h0M-34.7 33.5h0M-40.2 48.1h0M6.4 16.9h0M-21.6 25.5h0M1.7 18.5h0M-7 57.7h0M25.7 53.7h0M-14 22.7h0M-40.4 47.2h0M-13.9 57h0M-9.8 20.9h0M-22.1 25.9h0M-10 57.7h0M57.5 18.9h0M-35.2 51.3h0M-5.3 57.8h0M-24.3 27h0M1.1 18.4h0M37 14.9h0M-32.2 31.2h0M37.3 14.9h0M-41.5 44.6h0M-9.9 20.6h0M-0.9 19h0M-36 51.6h0M-36.5 51.5h0M-40 39.6h0M-28.7 29.3h0M-36.3 34.5h0M-21.6 25.8h0M-10.7 57.6h0M-4.9 19.6h0M-21.6 25.2h0M45.6 15.8h0M-24.3 55.2h0M-40.7 43.6h0M-24.1 55.9h0M-35.9 50.6h0M-40.5 43h0M27 14.8h0M56.9 19.7h0M-5 57.8h0M-1.3 57.1h0M7.3 17h0M-6 19.7h0M-7.9 57.7h0M-8.2 20.3h0M5.8 17.3h0M-28.3 54.5h0M-38.6 48.4h0M-40 38.2h0M35.4 -33.3h0M14.2 -22.5h0M34.4 -31.8h0M3.3 -20.1h0M-29.8 -16.4h0M-32.9 52.5h0M-21.3 56.1h0M-39.6 48.1h0M21.7 15.7h0M-6.2 -58.7h0M-23.4 -55.6h0M-46.9 -18.3h0M-14.4 -16.9h0M-37 -16.5h0M-54.7 -20.7h0M43.5 -43h0M-49.1 -18.6h0M-8 -58.6h0M25.6 -58.2h0M-16.8 -56.9h0M-1.6 -59.3h0M-13.9 -57.5h0M-4 -18.9h0M22.9 -25.6h0M-1.3 -18.8h0M-2.4 -18.9h0M-37.6 -17.3h0M15.6 -23.3h0M-11.6 -57.7h0M9.8 -59.2h0M14.6 16.4h0M-37.2 35.1h0M21.1 15.8h0M-32.2 31.6h0M-4.4 57.5h0M8.8 56.3h0M2.3 57.6h0M6.6 17.6h0M18.7 55.5h0M52.3 17.7h0M17.6 55.1h0M25.2 53.7h0M13 56.5h0"/><path stroke="#424086" d="M-5.9 -19.4h0M-13.9 -18.2h0M25.9 -56.2h0M35.6 -53.7h0M-22.9 -17h0M17.4 -57.6h0M6 -21.5h0M-22.4 -17.2h0M8.7 -58.1h0M-45.9 -18.9h0M-9.9 -57.7h0M42.2 -48.7h0M34.8 -34.1h0M-11.3 -56.8h0M-53.4 -21.6h0M-14.3 -56.7h0M37.8 -36.6h0M28.1 -29.1h0M-17.5 -17.7h0M16.6 -25h0M-4 -19.1h0M0.3 -20.2h0M30.1 -56.1h0M16 -58.3h0M39.6 -37.1h0M28.1 -56.1h0M-30.1 -17.2h0M31.8 -32h0M1.9 -20.7h0M12.7 -23.4h0M2.6 -58h0M40.7 -49.2h0M32.1 -54.8h0M19 -57.7h0M42.2 -45.7h0M41.4 -48.4h0M37.2 -53.1h0M-49.1 -19.6h0M-40.7 -18.6h0M20.5 -57.2h0M-7.8 -18.5h0M19.3 -57.5h0M-26.6 -17.4h0M11.2 -22.8h0M-51.9 -21.2h0M-47.2 -19.6h0M16.3 -24.1h0M42.5 -42h0M-21.1 -55.8h0M-12.6 -18.5h0M20.2 -57.7h0M-13.1 -18.3h0M-11.4 -57h0M43.3 -45.1h0M-50.7 -20.4h0M-24.6 -55h0M-11.9 -18.1h0M-23.2 -55.2h0M18.6 -25.3h0M42.2 -47.6h0M14.1 -57.9h0M14.3 -23.8h0M-21.3 -55.2h0M21.7 -57.4h0M40.7 -50.3h0M-6.1 -57.8h0M1.9 -58.2h0M-7.8 -18.5h0M-29 -17.5h0M-5.4 -57.9h0M13.6 -58.2h0M14.9 -58.3h0M39.2 -38.6h0M37.6 -36.6h0M-11.9 -57h0M-9.6 -57.2h0M1.6 -20.1h0M39.2 -38.5h0M-47.6 -19h0M26.4 -56.6h0M-41.5 -17.9h0M-50.1 -19.6h0M16.5 -58.3h0M-32.2 -17.1h0M-0.6 -58.1h0M7.4 -21.5h0M-0.9 -57.8h0M16.4 -25h0M1.1 -58.5h0M32.1 -32.4h0M5.9 -21.3h0M37.9 -35.7h0M-12.2 -56.7h0M-42 -18.4h0M-21.8 -55.3h0M-47 -19.6h0M42.2 -43.3h0M-16.6 -56.1h0M41.1 -46.5h0M42.6 -47h0M2.6 -20.8h0M-18.2 -56.3h0M-29.3 -17.4h0M31.6 -31.3h0M24.4 -56.9h0M-24.5 -17.1h0M13.6 -23.9h0M13.6 -23.6h0M37.3 -35.9h0M39.4 -51.7h0M40.2 -50.4h0M42.6 -47h0M1.2 -20.4h0M10.5 -58.8h0M8.7 -58.4h0M-43.4 -18.2h0M-50.3 -20.6h0M-3.3 -58.1h0M-8.7 -57.5h0M-30.4 -17.5h0M32.6 -55.3h0M20 -25.8h0M-28.2 -17.4h0M-12.1 -57.3h0M-39.7 -17.8h0M37.7 16.7h0M-34.8 49.5h0M51.8 18.9h0M-29.7 53h0M2.8 56.3h0M-27.4 54h0M55 19.3h0M44.6 16.8h0M-18 55.5h0M-32.1 31.8h0M-38.6 44.7h0M23.6 16.1h0M-39.7 44.2h0M-12.3 23.1h0M-33 50.9h0M22 16.3h0M3.2 18.9h0M-26 28.4h0M-18.7 25.6h0M19.3 16.2h0M-4.9 56.3h0M54.7 19.2h0M19.6 54.7h0M-38.4 38.4h0M9.6 17.3h0M26.8 52.6h0M-3.9 56.9h0M-36.4 47.8h0M55.9 20.7h0M-33.4 34.4h0M5.7 56.3h0M-26 28.1h0M-14.8 23.5h0M-38.6 43.9h0M30.6 16h0M40.8 16.4h0M6.4 56.3h0M18 54.2h0M37 15.8h0M-38 39.6h0M-37 47.9h0M-22.5 54.4h0M-4.6 20.2h0M-23.8 27.9h0M32.8 15.8h0M-39.2 40.4h0M-27.6 53h0M31.8 16.3h0M-28.9 29.9h0M-38.4 46.5h0M11.6 17.3h0M-37.8 48h0M2.3 56.2h0M-6.6 20.6h0M46.4 17.1h0M-38.1 40.9h0M33.2 16.1h0M43.8 16.6h0M15.4 16.7h0M-39.4 41.9h0M-18.8 25.1h0M50.5 18.5h0M-36.3 48.5h0M39.8 16.9h0M-32.8 51.4h0M-25.5 53.7h0M-37.7 40h0M-35.7 48.5h0M-8.8 56.6h0M24.3 53.2h0M-20.6 55.7h0M-39.6 42.5h0M-6.8 56.2h0M-20.4 25.6h0M-5.7 56.8h0M25.1 16h0M-17.8 55.6h0M-37.4 39.5h0M-6.5 56.8h0M19.3 16.4h0M44.7 17.3h0M-11.4 56.4h0M13.9 55.2h0M-38.6 43.1h0M34.7 15.8h0M48 18.2h0M-33.1 33.6h0M41.8 17h0M-13.6 23.6h0M-15.5 23.5h0M-7.7 21.1h0M-10.1 22.1h0M49.7 18.5h0M19.3 16.6h0M-35.4 35.8h0M-29.5 30.1h0M2 19.1h0M37.9 16.6h0M-13.7 23.5h0M18.8 54.5h0M-5.1 56.3h0M-36.8 36.5h0M-37.9 38.7h0M-29.9 53h0M-27.3 53.7h0M7.8 18.1h0M-14.2 23.4h0M-38.9 45.8h0M26.6 53h0M-13.5 55.9h0M33.4 15.9h0M-38.7 45.9h0M-14 56.6h0M-1.6 19.8h0M12.8 17.2h0M-34 50h0M-37.2 37.6h0M-38.2 39.8h0M-34 50.2h0M52.7 19.1h0M-15.7 24h0M38.9 16h0M28.5 16.1h0M-37 37.7h0M13.3 16.8h0M51.9 18.5h0M3.5 18.3h0M26.9 52.4h0M-24.4 27.7h0M-21.1 55.4h0M-11.3 55.9h0M-19.5 -55.8h0M20.1 -26.3h0M48.3 17.8h0M-33.5 33.3h0M47.3 17.5h0M-27.8 30h0M-16.4 23.7h0M-22.1 26.3h0M9 17.9h0M-38.5 47h0M13.4 16.8h0M-38.5 42.4h0M-10.9 -18.3h0M10.5 -58.1h0M8.1 -58.5h0M-25.3 -17.1h0M15 -58.5h0M-33.1 -17.6h0M-51.3 -20.5h0M-39.6 -18.4h0M29.5 -30.7h0M-49.8 -19.8h0M27 -29.1h0M-53.5 -21.4h0M18 -25h0M-19 -55.9h0M42.2 -43.3h0M-0.3 -58.1h0M-31.3 31.3h0M21 15.9h0M55.9 20.1h0M17.7 54.5h0M13.1 55.5h0M22.5 53.7h0M23.4 53.2h0M13.3 16.7h0M42 16.8h0M-2.2 56.2h0M-11.2 56.5h0M-34.9 35.7h0"/><path stroke="#404688" d="M30 -54.7h0M37.3 -37.5h0M40.1 -46.8h0M39.7 -47.5h0M36.9 -36.7h0M24.2 -28.4h0M33.5 -33.6h0M-2.8 -57.2h0M-25 -17.7h0M-53.9 -23.5h0M2.4 -57.4h0M41 -45.3h0M40.2 -48.3h0M-24.3 -53.8h0M15.2 -57.2h0M-3 -57.3h0M32.4 -33.4h0M2.8 -21.2h0M-51.1 -22.1h0M40.6 -42.7h0M40.6 -42.7h0M-6.5 -19.9h0M-34 -18.4h0M33.4 -33.7h0M35.6 -36.6h0M38.2 -39.8h0M-9.6 -56.7h0M11.4 -23.8h0M-4.8 -57.3h0M7.7 -22.9h0M-34 -18.7h0M12.9 -57.5h0M33.4 -33.6h0M30.2 -54.3h0M24.2 -29h0M28.6 -54.9h0M33 -53.4h0M-52.3 -21.9h0M9.3 -23.2h0M14.1 -24.4h0M-43.1 -19.1h0M-26.5 -17.8h0M18.5 -26h0M18.5 -56.9h0M35.5 -51.8h0M-25.8 -18.2h0M40 -48.3h0M17 -57.1h0M25.4 -55.6h0M17.4 -25.6h0M22 -27.2h0M40.3 -44.5h0M2.8 -57.9h0M-50.2 -21.7h0M-24.4 -54.1h0M-8.8 -57h0M37.9 -49.7h0M14.9 -24.7h0M37.8 -49h0M38.4 -40.3h0M34.1 -52.3h0M15.1 -57.5h0M-42 -18.9h0M-12.9 -56.5h0M-6 -56.9h0M32.7 -33.8h0M-2 -20.2h0M40.1 -43.5h0M40.3 -41.9h0M-42.2 -19h0M-8.8 -19.4h0M41.1 -43.1h0M14.5 -25h0M17 -25.8h0M-9.4 -19.4h0M-19 -54.8h0M40 -45.4h0M40.4 -46.3h0M-46.7 -20.3h0M-19 -54.9h0M15.8 -25.6h0M38.6 -49.1h0M-3.3 -57.5h0M-28.8 -17.9h0M-52.5 -22.8h0M-4.4 -57.2h0M7.9 -22.8h0M-25.7 -53.4h0M7.3 -22.4h0M-43.1 -19.6h0M-6.1 -57.2h0M27.8 -30.6h0M-4.9 -57.5h0M-51.2 -21.8h0M41.3 -44.7h0M38.5 -39h0M54.2 21.2h0M25 52.5h0M-18.1 25.9h0M16.2 53.8h0M-30 31.8h0M-36.1 45.7h0M-35.6 38.5h0M20.5 17.2h0M52.1 19.6h0M-23.7 53.8h0M-35.9 37.5h0M-5.9 21.8h0M-37.5 44.1h0M-19.7 26.9h0M-18.1 25.4h0M24 17.2h0M-32 50.1h0M29.2 16.7h0M50.4 19.3h0M27.2 16.6h0M-15.8 54.7h0M-24.7 52.9h0M-26.9 52.9h0M-27 52.8h0M-13.9 24.1h0M10 55h0M2.8 55.6h0M-35.7 45.8h0M55.7 21.2h0M-27.9 30.9h0M49.2 19.4h0M-16 54.8h0M23.7 52.7h0M-29.2 31.2h0M19.3 53.5h0M-37.4 45h0M55.1 21.8h0M-0.8 20.1h0M-37 44.7h0M-35.3 37.2h0M-6.7 55.6h0M-34 35.8h0M-36.7 43.2h0M-18.3 54.8h0M37.5 17.5h0M19.7 16.9h0M-18.4 54.5h0M-35.6 39.5h0M55.7 21.6h0M-37.3 44.4h0M29.5 17h0M-28 30.8h0M15.9 17.1h0M-30.2 51.9h0M9.6 18.5h0M-14.1 24.4h0M12.1 18.3h0M-12.1 23.6h0M-25.7 53.2h0M14.3 17.9h0M-6.6 22.2h0M-20.9 26.6h0M-2 20.3h0M-9.8 23h0M-14.4 55.1h0M21.4 53.4h0M-37.1 40.9h0M-23.5 28.7h0M-37.4 45.6h0M-7.7 56.1h0M-33.5 34.9h0M52.6 20.3h0M46.7 18.1h0M41.6 17.3h0M0.2 55.4h0M49.9 19.2h0M-24.4 53.6h0M6 55.1h0M27.6 17h0M-26.1 29.2h0M40.6 17.8h0M-37 43.6h0M-34.4 47.5h0M-35 36.5h0M-18.5 54.3h0M-36.9 40.8h0M-16.7 24.8h0M-26.8 30.1h0M20 17h0M-36.5 38.3h0M-7.6 55.7h0M-20.8 54.5h0M37.1 17.3h0M26.9 17.1h0M-20.6 54.7h0M26.7 52.4h0M-9.4 22.6h0M-5.8 21.7h0M-6.8 55.9h0M5.1 55.5h0M-23.6 53.2h0M-30.3 50.9h0M6.1 18.9h0M-34.8 48.7h0M-14.3 24.3h0M14.8 54.6h0M12.5 54.8h0M-31.1 33.8h0M-10.1 55.4h0M11 55.1h0M-30.3 50.8h0M12.3 17.7h0M-26.6 52.8h0M-30.3 32.5h0M-3 20.5h0M-30.6 50.3h0M-35.1 47.9h0M-32.7 34.6h0M51.6 20h0M-26.3 52.7h0M-4.1 55.7h0M-20.1 26.7h0M-34.2 36.7h0M55.8 21h0M-9.5 22.9h0M-29.4 51.6h0M-16 24.8h0M-17.3 25.6h0M-24.4 53.2h0M15.3 17.5h0M-27.8 52.8h0M-38.1 42.9h0M-2.5 20.4h0M-13 24.1h0M-19.8 -54.6h0M13.4 -24.5h0M12.3 -57.9h0M30.2 -32h0M-11.5 -18.9h0M21.6 -56.8h0M-0.7 -20.7h0M7.1 -22.5h0M-52.9 -22.3h0M-12.3 -56.4h0M16.1 -57.3h0M2.8 -57.4h0M-15.6 -55.7h0M-26.6 -17.8h0M2.6 -57.5h0M25.4 -28.9h0M-11.5 -19.4h0M20.4 -56.7h0M21.6 -27.7h0M-4.1 -57.1h0M16.5 -25.6h0M54.9 21h0M-2.6 21h0M20.6 17.2h0M1.1 55.6h0M-15.9 54.8h0M-35 47.5h0M-33 48.6h0M-2.3 55.4h0M-27.2 30.5h0M-13.1 23.6h0M-19.6 26.5h0M-2.9 55.7h0M24.2 16.5h0M15.1 54.4h0M9 54.9h0M-4.4 55.8h0M-18.1 54.9h0M1.7 55.8h0M-6.9 55.9h0M45 18.2h0M55.3 22.1h0M26.3 51.8h0M51.7 19.5h0M31.9 17.1h0M-24.9 53.6h0"/><path stroke="#3e4c8a" d="M-11.4 -55.7h0M31.8 -52.6h0M38.2 -46.6h0M38.2 -45.6h0M26.5 -30.4h0M34.6 -37.1h0M14 -56.5h0M-49.5 -22h0M15.3 -56.4h0M36.3 -37.7h0M-5.3 -56.1h0M38.4 -44.4h0M-16.4 -19.4h0M-39.6 -19.4h0M8 -56.9h0M38.2 -44.4h0M37.6 -44.9h0M29.7 -53.8h0M36.1 -48.5h0M6.5 -56.7h0M-40.1 -20.1h0M-18.4 -54.5h0M22.9 -55.6h0M25.6 -55.2h0M36.9 -47.1h0M9 -57.2h0M24.9 -54.8h0M-6.7 -20.5h0M-26.6 -18.9h0M17.7 -26.7h0M11.7 -56.7h0M21.7 -55.3h0M39 -44.5h0M39.3 -45.5h0M28.9 -31.9h0M21 -55.6h0M14.4 -25.5h0M-52.6 -23.1h0M20.8 -28h0M36.4 -50.2h0M-35.4 -19.6h0M-17 -54.5h0M-25.2 -53h0M4 -22.3h0M33.3 -51.1h0M9 -24.1h0M-32 -18.9h0M-10.9 -55.8h0M1.5 -56.5h0M5.7 -56.8h0M-50.7 -23.2h0M-41.3 -20.1h0M15.5 -56.1h0M31.1 -34.2h0M36.5 -38.5h0M35.5 -38h0M13.1 -56.7h0M19.2 -27.7h0M-7.2 -20.3h0M16.3 -26.3h0M36.4 -38.7h0M38.2 -47.2h0M38.2 -41.4h0M25.4 -55.3h0M31.8 -33.5h0M-17.9 -19h0M8.9 -56.6h0M38 -45.7h0M-26.4 -18.9h0M18.9 -55.7h0M-0.2 -21.5h0M-29.3 -18.8h0M35.3 -37.6h0M39.3 -44.2h0M30 -52.7h0M8.4 -57.3h0M38.5 -42.7h0M30.5 -32.7h0M20.6 -27.7h0M33.2 -52.1h0M-25.8 -53h0M8.5 -56.7h0M17 -56.2h0M-42.3 -20.2h0M36 -37.8h0M-8.3 -56.2h0M25.7 -30.7h0M-53.6 -23.9h0M-29.7 -18.6h0M-7.1 -56.3h0M14.4 -56.3h0M22.8 -55.6h0M-17 -19.4h0M23.3 -29.4h0M0.5 -57h0M6.1 -56.6h0M34.5 -51.1h0M38 -46.2h0M35.8 -50.7h0M-21.5 -19h0M4.7 -57h0M29.3 -53h0M-26.4 -18.5h0M36.4 -38.8h0M10.3 -23.8h0M-4.1 -20.9h0M-14.8 -19.7h0M-0.7 -21.6h0M27.7 -54.6h0M23.2 -29h0M35.1 -50.9h0M15.8 -25.9h0M3.1 -22.3h0M16.5 -56.4h0M-23.8 -53.5h0M-23.7 -18.6h0M-22.8 -53.9h0M34.1 -36.9h0M-5.7 22.6h0M18.4 17.9h0M33.5 17.9h0M19.7 52.7h0M-31.3 49.6h0M-33.2 47.1h0M42.5 18.7h0M18.4 52.8h0M-2.8 55.2h0M32.1 17.8h0M51.6 21.6h0M-32 34.9h0M5.2 55h0M-27.3 31.5h0M-30.7 34.4h0M-1.1 55h0M54.5 22.5h0M14.4 18.1h0M-36 43.7h0M51.2 21.3h0M-28.1 32.4h0M33 17.5h0M4.2 19.9h0M-26.4 52.1h0M-26.6 51.4h0M9.9 19h0M9.7 54.3h0M41.7 18.3h0M0.9 20.7h0M-32.9 37.5h0M13.3 18.2h0M26.1 17.5h0M29.2 17.7h0M45.7 19.5h0M1.2 54.9h0M28.1 51.1h0M-31.3 49.1h0M53.5 21.5h0M26 51.2h0M8.8 54.5h0M-8.2 23.1h0M-34.5 46.3h0M-30.1 34h0M7 19.2h0M-2.4 55.1h0M6.7 19.3h0M-33.9 47.7h0M-23.9 30h0M37.6 17.7h0M-28.3 51.1h0M44.8 19.1h0M14.2 54h0M26.6 51.3h0M50.9 20.4h0M-32.1 49.3h0M54 22h0M-35.6 43.2h0M-33.5 48.1h0M29.1 17.8h0M-34.6 44.4h0M27 17.6h0M-2.9 21.4h0M16.9 18.2h0M3.7 54.7h0M-36 43.4h0M51.4 21h0M-35.3 39.9h0M21.8 52.2h0M-35.1 45.8h0M-30.7 49.4h0M50.2 20.2h0M-32.4 37.1h0M55.8 22.8h0M11.1 54.5h0M16.4 18.3h0M-28.6 50.1h0M22.6 52.5h0M49 20.2h0M48.8 20h0M-1.5 54.9h0M-34.3 41.3h0M14 53.8h0M2.4 54.8h0M40.5 18.3h0M11 18.6h0M-3.1 54.8h0M-30.1 34.5h0M26.7 17.7h0M56 22.8h0M35.7 17.5h0M36.8 17.8h0M54.6 21.9h0M-18.1 26.4h0M37.3 17.8h0M27.6 17.8h0M-10.7 24h0M-3.9 55.3h0M36.1 17.5h0M-21.6 28.6h0M-35.5 40.8h0M-10.8 24.2h0M8.5 54.8h0M7 54.5h0M39 17.9h0M-17.4 26.7h0M12.8 53.6h0M-22 28.1h0M-18 26.7h0M3.5 20.2h0M-33.6 36.8h0M5.2 20h0M26.3 17.6h0M-8.1 23.1h0M8.4 18.9h0M22.7 52.1h0M-12.3 24h0M-31.3 48.8h0M-24.2 52.6h0M38.7 17.7h0M-8.9 23.5h0M-28.7 33h0M55.7 23.3h0M51.1 20.6h0M10.3 54.6h0M53.5 22.3h0M48.9 20.4h0M-22.4 28.4h0M-35.6 42.7h0M-31.8 48.5h0M43.4 19h0M9.4 19.3h0M-25.3 52.4h0M-18 54.1h0M1.1 -21.5h0M38.9 -44h0M14.9 53.8h0M-11.5 54.4h0M11.6 18.5h0M30.7 17.6h0M33.4 17.9h0M7.7 54.7h0M-11.7 -55.6h0M-19.3 -54.6h0M-20.2 -54h0M-17.9 -19.3h0M-5.9 -56.2h0M-5.5 -56.2h0M31.1 -52.8h0M3.2 -56.8h0M26.4 -54h0M-33 -18.8h0M-15.6 26h0M6.4 19.2h0M49.8 20.6h0M-35.3 44.2h0M1.4 54.8h0M8.3 54.8h0M-26.2 52.2h0M-27.4 51.1h0M-22.5 52.7h0M12.1 54h0M15.7 53.4h0M-14.4 25.4h0M-13.2 54.5h0M-33.9 37.8h0M-36.1 43.1h0M-24.2 52.7h0"/><path stroke="#3b528b" d="M10.2 -56.3h0M19 -27.7h0M-6.5 -21.1h0M36.1 -40.6h0M-19.4 -19.5h0M-8.6 -20.9h0M12.2 -25.9h0M-31.3 -19.8h0M35.3 -40.5h0M19.8 -54.8h0M32.2 -51h0M26.5 -31.9h0M13.1 -25.6h0M28.8 -32.7h0M35.1 -40h0M31.6 -50.9h0M-34.9 -20.2h0M34.8 -37.9h0M15.9 -56h0M-43.7 -21.8h0M23.6 -30.7h0M-35.5 -20.3h0M28.5 -52.7h0M-53.4 -25.3h0M35.8 -41.7h0M-11.3 -54.8h0M29.1 -52h0M33.1 -49.9h0M-34.3 -20.2h0M37.4 -44.1h0M-46.4 -22.3h0M37.4 -43.1h0M-18.2 -19.5h0M-42.2 -21.4h0M-20.4 -19.9h0M-8 -20.5h0M37.1 -42.8h0M33.9 -38.2h0M32.4 -50.2h0M4.5 -56.5h0M26.6 -32.2h0M-20.4 -53.7h0M13.1 -55.9h0M34.1 -49.6h0M27.3 -53.1h0M-6.9 -21h0M-24.7 -19.4h0M-15.3 -54.7h0M-45.6 -22.4h0M-35.6 -19.8h0M-53.5 -25.7h0M-53.6 -25.9h0M-20 -53.5h0M-9.1 -55.3h0M-46.2 -21.7h0M-25.7 -52.5h0M36.5 -44.2h0M21.7 -54.5h0M-15.3 -19.9h0M36.6 -42.1h0M-48.8 -22.8h0M14.2 -25.9h0M36 -44.1h0M32.6 -50h0M0.8 -22.1h0M35.6 -38.9h0M14.9 -55.7h0M26.6 -53h0M36.9 -45.7h0M35 -49.5h0M8.9 -24.7h0M6 -56.5h0M35.4 -48.6h0M30.5 -52.3h0M-11.7 -55h0M24.3 -30.5h0M21.8 -29.7h0M36.1 -46h0M14.8 -55.5h0M-30 -19.9h0M-9.2 -55.2h0M-50.4 -24.2h0M-7.9 -21h0M34.8 -49.5h0M30.3 -52.3h0M25 -53.6h0M30.4 -51.6h0M35.7 -39.3h0M-40.3 -20.4h0M20.2 -54.7h0M33.9 -49.4h0M32.1 -50.8h0M37.3 -45.7h0M-17.9 -53.9h0M0.5 -22.5h0M11 -25h0M-47.4 -22.5h0M-21 -19.8h0M0.4 -22.4h0M-14 -54.4h0M-7.5 -20.8h0M36.6 -44.4h0M36.5 -41.5h0M-14 -19.9h0M4.7 -23.2h0M25.6 -53.4h0M33.1 -50.4h0M33.4 -36.5h0M17.3 -55.6h0M9 -24.7h0M34.7 -49.3h0M31.2 -51h0M27.1 -31.9h0M-15.1 -54.2h0M-6.7 -55.9h0M-16.6 -19.9h0M-14.7 -19.9h0M-36 -19.8h0M11.8 -55.8h0M-28 50h0M-32.8 45.2h0M-8.2 24.1h0M-32.8 45.1h0M33.8 18.4h0M-27.1 49.8h0M-14.1 25.7h0M-33.1 44.5h0M24.9 18h0M-33.2 43.7h0M35 18.6h0M41.1 19.4h0M-31.7 36.9h0M19.3 18.3h0M-32.5 41.3h0M-18.8 52.4h0M38.4 18.9h0M-27.2 33.1h0M45.3 20.4h0M4.3 54.4h0M17.3 52.5h0M43.5 19.3h0M53.9 22.8h0M-9.6 24.1h0M-32.6 46.8h0M-32.6 42.5h0M14.1 19h0M-5.2 54.6h0M25.9 50.6h0M4.8 20.7h0M15.4 18.9h0M-25.8 50.1h0M-3.5 22.1h0M-34.1 41.6h0M-18.7 53h0M-4.2 54.4h0M-27 50.1h0M-30 47.4h0M-32.1 37.5h0M-20.4 52.8h0M50.6 21.6h0M0.6 54.6h0M38.5 18.6h0M-32.8 42.4h0M-2.7 54.4h0M28.6 18.2h0M-25.3 51.3h0M-2 22h0M-32.4 38.8h0M26 18.2h0M-6.8 54h0M4.4 20.6h0M34.9 18.7h0M34.5 18.4h0M15.9 52.5h0M1.1 54.3h0M-32.7 43.2h0M49.2 21.2h0M-30.1 48.7h0M23.6 51.5h0M-23.3 30.7h0M19.9 52.3h0M-29.6 49h0M-33.6 42.4h0M54.4 23.7h0M11.7 19.4h0M-12.9 53.8h0M1.6 54.3h0M37.3 19.1h0M-5.9 22.9h0M-19 52.6h0M-14.1 54h0M3.8 53.8h0M-30.9 35.5h0M-32.8 45.1h0M47.2 20.4h0M47.3 20.9h0M-27.3 50.5h0M-26.7 50.4h0M-32.7 41.7h0M3.9 54.3h0M47.6 21h0M-29.3 48.7h0M-27.1 50.5h0M-33.1 38.7h0M35.4 18.3h0M-21.3 52.5h0M7.4 54.2h0M-23.7 51.3h0M53.2 23.7h0M-17.4 27.4h0M16.4 19h0M-9.1 24.2h0M16.1 18.9h0M-11.6 53.8h0M42.1 19.8h0M-34.1 41.8h0M-32 44.7h0M-33.2 45.6h0M8.9 54h0M-20.3 28.3h0M-5.3 54.2h0M-23.8 51.7h0M-33.8 42.9h0M-20.2 52.5h0M13.7 18.8h0M-12.5 54h0M11.7 19.3h0M-31.4 37.5h0M0.8 54h0M21.2 -54.9h0M30.1 -52.3h0M18.1 -55.8h0M-3.5 -21.3h0M1.5 -56.4h0M-44.6 -21.6h0M-7.6 -55.2h0M35 -47.9h0M-26.7 -19.6h0M37.3 18.7h0M-17.2 27.1h0M-20.8 29h0M-22.9 -19.5h0M-26.8 -52h0M10 -56.5h0M-34.1 -20h0M35.5 -40.3h0M-51 -24.6h0M28.5 -32.7h0M-13.2 -54.8h0M33.9 -38.2h0M-14.6 -20.1h0M32.9 -49.7h0M-25.4 -52.1h0M31.7 -50.5h0M-10.7 -55.2h0M-17.3 -54.2h0M-47.8 -22.7h0M16.7 -55.5h0M-16.8 53.1h0M-2.1 54.4h0M13.9 53.1h0M-3.6 54.2h0M26.7 18.4h0M20.5 52.2h0M9.2 19.6h0M28.1 50h0M40.3 19.4h0M-23.2 30.6h0M20 51.9h0M2 54.5h0M17.3 52.4h0M-30 48.8h0M-18.8 52.5h0M-33.1 40h0M27.1 18.4h0M-27.9 50.2h0M-18.7 52.6h0"/><path stroke="#38588c" d="M-28.6 -20.1h0M15.2 -27.5h0M34.6 -39.8h0M-7.5 -21.7h0M13 -55.3h0M34.8 -42h0M34.9 -43.9h0M13.9 -26.9h0M29.4 -35.5h0M-16.8 -20.3h0M-13.3 -21h0M-17.6 -20.5h0M17.9 -28.5h0M0.7 -55.2h0M8.5 -55.4h0M29.2 -34.3h0M-13 -21h0M-14.8 -54h0M-8.1 -55h0M3.4 -55.3h0M3.2 -55.3h0M-6.4 -21.9h0M-33.7 -20.9h0M20 -54.5h0M-46.1 -23.1h0M-52.1 -27.1h0M3.3 -55.4h0M-40.1 -21.6h0M-39.4 -21.5h0M34.9 -42.4h0M-39.9 -21.8h0M34.9 -44.8h0M-16.6 -20.3h0M-10.1 -54.8h0M15.2 -55h0M-35.2 -21.1h0M25.9 -53.1h0M30.4 -49.9h0M-46.8 -23.8h0M-5.7 -21.6h0M-44.6 -23h0M-9.4 -21.2h0M-25.5 -51.8h0M-11.4 -21.1h0M-51.4 -25.6h0M-1.9 -22.4h0M33.2 -48.5h0M-21 -52.7h0M21.2 -30.1h0M-30.6 -20.3h0M-9.6 -54.9h0M-36.9 -21.3h0M25.1 -32.3h0M18.8 -29.1h0M-4 -55.5h0M0.1 -23h0M-21.9 -20.3h0M-51.4 -26.6h0M-25.9 -51.5h0M17 -54.5h0M-46.6 -23.1h0M-42.2 -21.8h0M14.4 -26.8h0M27.2 -51.9h0M-35.1 -20.9h0M-29.2 -50.5h0M-49.4 -24.8h0M29 -50.8h0M31.4 -35.9h0M9.4 -25.2h0M35.8 -43.6h0M32.3 -37.5h0M2.5 -55.8h0M23.5 -53.1h0M33.7 -39.2h0M13.5 -55.6h0M9.8 -25.6h0M16 -27.7h0M9.2 -55.2h0M35.2 -40.9h0M-15.7 -20.5h0M27.3 -33.1h0M6 -55.7h0M-52.2 -26.5h0M34.9 -45.3h0M29.4 -35h0M19.8 -54.1h0M11.1 -25.9h0M-43.3 -22.2h0M3.3 -55.4h0M-38.1 -20.9h0M34.2 -48.1h0M2.6 -55.8h0M-24.2 -20.1h0M-17.3 -53.3h0M16.8 -54.5h0M5.2 53.3h0M-30.2 46.6h0M-21.6 30h0M-14.5 52.7h0M-29.3 35.9h0M-30.1 45.9h0M21.4 51h0M-16.9 52.5h0M-22.5 50.8h0M-29.2 36.5h0M17 19.2h0M-8.3 24.7h0M-20.6 29.6h0M-28.1 34.7h0M-1.1 22.3h0M-32.3 40.9h0M-28.5 36.1h0M49 22h0M41.8 20h0M25.5 19h0M44.3 20.7h0M-17.2 28h0M-13.2 52.9h0M-31.5 39.6h0M37.8 19.8h0M-30.9 39.4h0M4.8 20.8h0M34.7 19.3h0M-12.7 53.1h0M50.9 23.7h0M-30.6 39.7h0M-17.6 28.1h0M51.5 23.9h0M-5.2 23.4h0M-30.6 40.2h0M13.4 19.6h0M35.7 19.4h0M27.8 18.7h0M19.2 19.4h0M51.2 23.5h0M30.9 19h0M-20.9 51.2h0M4.6 21.3h0M12.3 52.7h0M9.8 53h0M22.5 50.8h0M28.4 49.7h0M53.9 25.8h0M-20.8 29.6h0M-15.4 27h0M-31.3 43h0M10.4 53h0M-31.9 44.6h0M-8.4 53.2h0M17.6 19.2h0M45.7 21.5h0M51 22.6h0M26 50.2h0M14.4 52.4h0M-21.8 51.5h0M49.7 22.8h0M16 19.2h0M-31.4 42.3h0M-4.6 53.6h0M-23.4 50.6h0M-3.3 53.8h0M-28.7 35.6h0M-18 28.5h0M-31 39.4h0M5.6 21h0M24.6 18.8h0M40.8 20h0M44.5 20.5h0M-29.2 35.4h0M-6.2 53.6h0M28.2 49.7h0M-22 50.7h0M25 50.5h0M47.3 22.1h0M2.5 53.6h0M27.3 18.8h0M-13.6 26.4h0M-6.3 24.1h0M37 19.8h0M-30.1 46.8h0M24.6 50.6h0M-18.8 28.4h0M-1 22.6h0M26.1 18.7h0M-29.7 45.9h0M-30.4 45.1h0M51.4 23.5h0M6.2 53.6h0M2.5 53.8h0M-27.2 48.9h0M-30.4 44.7h0M-31.6 43.5h0M-26 33.1h0M-28.2 34.6h0M-30.1 38h0M-6.8 24.2h0M-29 46.9h0M-26.2 33.5h0M-27.4 34h0M-28.6 35.5h0M14.7 52.4h0M3.3 21.6h0M22.4 51.1h0M26.9 19h0M18.4 51.8h0M-4 53.9h0M-30.9 44.1h0M-4.4 23.5h0M-24.1 31.7h0M-8.3 53.1h0M-8 53.8h0M-29.6 36.1h0M-16.6 27.4h0M-26.4 48.8h0M1.4 53.9h0M6.5 53.1h0M-17 -53.2h0M-3.3 -22.4h0M-30.6 46.7h0M-16.1 27.3h0M-49 -24.6h0M-2.1 -22.5h0M-5 -21.9h0M-26.1 -51.7h0M-20.6 -20.3h0M-12.2 -54.6h0M4.9 -24.1h0M-42.5 -22.2h0M33 -38.6h0M-3.5 -55.3h0M17.5 -54.4h0M-14.4 -54.1h0M8.7 -24.9h0M0.3 -23.1h0M30.4 -50.6h0M11.5 -55.7h0M31.7 -36.7h0M15.8 -27.6h0M0.9 -23.1h0M5.6 -24.4h0M-49.3 -24.1h0M8.6 -24.8h0M20.9 -53.9h0M-13.2 -20.9h0M-20.3 29.7h0M13 52.8h0M5.5 53.1h0M12 52.7h0M21.7 50.9h0M10.4 20.2h0M5.9 53.2h0M-22.7 30.7h0M51.3 23.4h0M-22.2 50.7h0M6.3 53.5h0M53 23.8h0M-6.2 23.8h0M-20.7 51.6h0M-6.9 23.7h0M17.8 51.7h0M30.4 18.9h0M-29.6 36.5h0M-14.1 26.7h0M-31.6 43.4h0M7.3 53.6h0"/><path stroke="#365d8d" d="M-25.2 -51.3h0M-25.2 -50.8h0M-0.4 -23.6h0M27.5 -50.9h0M-17.2 -52.8h0M33.2 -41h0M32 -46.6h0M29.8 -49.9h0M13.5 -54.8h0M24.9 -51.9h0M3.3 -55.2h0M-44.1 -23.5h0M2.3 -23.8h0M17 -53.9h0M-12.5 -53.4h0M-17.8 -52.8h0M-48.3 -25.4h0M24 -51.9h0M28.7 -35.7h0M-44.4 -23.7h0M15.4 -28.2h0M32.2 -48.3h0M30.9 -37.1h0M-51 -26.6h0M-36.3 -21.3h0M32.7 -40.4h0M-19.1 -52.8h0M33.3 -40.7h0M32.1 -47.5h0M16.8 -54h0M4.8 -55.1h0M-47.4 -25.3h0M22.9 -31.6h0M21.2 -53.3h0M33.3 -46.9h0M-13 -53.6h0M-39.1 -22.4h0M-0.1 -23.7h0M30.6 -48.6h0M5.5 -25h0M23.8 -31.9h0M-0.1 -54.7h0M-44 -23.3h0M20.8 -53.3h0M-4 -22.5h0M26.3 -33.6h0M25.8 -33.9h0M8.4 -25.9h0M-15.4 -21.2h0M23.3 -32h0M31.6 -39.6h0M23.2 -52.4h0M-2.9 -22.8h0M30.1 -36.8h0M30.5 -37.8h0M33 -41.4h0M23.4 -52.6h0M-46.1 -24.7h0M22.8 -53h0M25.6 -33.4h0M33.8 -44.7h0M3.1 -54.9h0M33.9 -41.6h0M-33.5 -21.4h0M0.6 -23.8h0M30 -49.4h0M-32.6 -20.9h0M4.7 -55.3h0M-22.5 -51.6h0M-22 -20.7h0M30.7 -48.7h0M27.3 -51h0M9.4 -25.7h0M26.2 -51.5h0M30.8 -48.6h0M1 -55.2h0M33.5 -44.2h0M32.6 -46.2h0M22.3 -31.2h0M-2.6 -54.9h0M-48.1 -25.1h0M-15.5 -20.9h0M34.2 -44.7h0M33.5 -45.7h0M-25.4 -21h0M-3.3 -22.7h0M17.3 -29.1h0M24.1 -52.8h0M-26.9 -50.6h0M25.5 -33.6h0M-7.9 -54.5h0M-50.2 -26.5h0M-10.9 -21.5h0M2.2 -54.7h0M30.7 -49.2h0M2.4 -24h0M-9.2 -53.9h0M-44.5 -23.8h0M41.7 20.9h0M36.7 20.2h0M-28.7 38.7h0M40.8 21.1h0M36.4 20.1h0M42 20.6h0M39.8 20.4h0M29.2 48.8h0M44.8 22h0M-6.1 24.7h0M-26.6 35.1h0M14.7 20.5h0M-30.1 43.1h0M48.3 22.7h0M50.4 23.6h0M19.6 50.8h0M14.1 52h0M-3.9 53.1h0M24.5 49.7h0M7.7 52.9h0M17.6 20h0M-30.1 43.7h0M-24 49h0M-28.1 45.6h0M-29.7 43.4h0M-7.8 53h0M-27.2 35.8h0M-19.1 51h0M3.5 21.7h0M16.7 19.8h0M-28.9 44.3h0M38 20.2h0M-25.4 34.5h0M25.3 19.7h0M19.7 19.8h0M-3.9 23.6h0M-4.6 23.8h0M-15 28h0M52.3 25.5h0M-26.6 35.4h0M-3.4 53.1h0M21.5 19.9h0M48.2 22.6h0M19.6 19.8h0M-27 35.7h0M19.1 50.9h0M-27.3 47.3h0M14.7 20.5h0M25.1 19.6h0M-27.2 47.1h0M43.5 21.5h0M36.3 20h0M49.8 23.5h0M-8.1 52.9h0M14.1 51.9h0M4.8 52.8h0M-8.3 25.1h0M-30.8 42.8h0M6.1 52.6h0M-24.6 33h0M-30.1 42.1h0M22.8 19.5h0M25.8 19.3h0M-6.8 52.9h0M-21 30.5h0M2.8 53h0M-3.7 53h0M-25.9 34.3h0M-4.6 24.3h0M2.1 53.1h0M30.6 19.8h0M-19.9 30.1h0M-21.1 30.5h0M-24.1 32.8h0M8.8 52.7h0M-10.6 52.2h0M24 19.5h0M-16.9 28.6h0M51.6 25.4h0M-29.4 42.9h0M53 26.6h0M-23.1 32.4h0M22.7 19.8h0M-11.3 26.5h0M-19.7 50.8h0M20.8 19.9h0M-29.8 43.7h0M40.4 20.5h0M38.8 20.2h0M2.1 53.1h0M-2.2 23.6h0M-5.8 53h0M-29.7 40.7h0M28.7 19.4h0M-28.2 38h0M52.4 25.9h0M-7.4 -21.9h0M-15 -53h0M-49.7 -26h0M25.4 49.6h0M-28.2 36.3h0M-16.8 51.8h0M-16.6 28.2h0M-28.7 37.4h0M5.8 -54.8h0M31 -48.9h0M-10.4 -54h0M-29.3 -50.1h0M-5.4 -54.8h0M-14.3 -53.1h0M-29.7 -49.6h0M-47.3 -24.6h0M21.2 -30.7h0M-51.3 -28h0M11.4 -54.9h0M-7.1 -54.6h0M-24 -51.6h0M-20.5 -51.9h0M34 -42.7h0M2.6 -55h0M29.3 -49.2h0M19.8 -30.4h0M12.3 -27.1h0M-19.2 -20.9h0M13.8 -54.7h0M20.9 -53h0M-18.4 -20.9h0M-1.3 22.9h0M5.8 21.9h0M16.6 20.2h0M30.2 48.6h0M15.4 51.7h0M-22.2 31.5h0M16 51.7h0M-14 52.1h0M49.9 23.6h0M49.8 24.1h0M-10.6 26.4h0M25.8 49.5h0M-2.9 23.7h0M30.3 48.2h0M-8 52.6h0M18.5 20h0M-29.4 44.5h0M16.7 19.9h0M-2.8 23.8h0"/><path stroke="#33638d" d="M-50.6 -28.9h0M-42.5 -23.5h0M-49 -27h0M31 -45.6h0M23.1 -51.5h0M16.1 -28.8h0M-30 -21.8h0M31.6 -45.8h0M3.3 -54.6h0M-36.2 -22.5h0M-27.1 -50.1h0M-50.6 -28.6h0M26.7 -35.4h0M14 -53.4h0M18.2 -52.9h0M-26.1 -21.5h0M-33.1 -21.5h0M6.6 -26.1h0M20.7 -52.5h0M0.1 -54.3h0M-12.4 -22.3h0M-41.9 -23.3h0M25.2 -50.7h0M29.1 -49h0M0.5 -54.5h0M23.4 -32.8h0M25.5 -34.1h0M28.5 -36.2h0M-4.6 -23.4h0M25.3 -50.8h0M27.9 -49.3h0M4.1 -25.3h0M-12.1 -53h0M24.6 -33.8h0M31.1 -40.7h0M25.9 -50.3h0M-19.1 -51.8h0M-24 -50.5h0M21.3 -31.9h0M-19.6 -52h0M20.7 -52.5h0M24.4 -51.5h0M-1.6 -54.5h0M-44.1 -24.2h0M28.6 -37.4h0M31.5 -43.3h0M-11.6 -53.4h0M-48.9 -26.3h0M27.6 -36.3h0M30.2 -38.4h0M-20.5 -51.8h0M-40.3 -23.1h0M-5.5 -23.1h0M2 -54.4h0M-4.7 -53.8h0M29 -48.9h0M21.2 -52.1h0M19.5 -30.3h0M-26 -21.4h0M-4.5 -23.1h0M24.5 -50.8h0M-6.9 -54h0M-1.3 -54.5h0M-4.4 -53.9h0M-28.5 -49.2h0M-42.4 -24h0M16.8 -29.6h0M-47 -26.3h0M-10 -53.7h0M23.4 -32.7h0M-50 -27.8h0M-19.6 -51.9h0M6.5 -54.4h0M15.1 -53.6h0M26.5 -35.3h0M-45.2 -24.7h0M32.1 -44.7h0M31.1 -39.6h0M-47.4 -26.1h0M20.8 -52.4h0M-27.6 -21.2h0M28.2 -35.9h0M-28.7 -21.5h0M-22.1 -21.4h0M-2.7 -54.3h0M4.3 -25.1h0M-9.8 26.6h0M-18.9 30.3h0M-27.2 38.6h0M10.6 51.9h0M-8.4 26.3h0M-26.1 47h0M2.9 23h0M-16.3 29.4h0M41.4 21.5h0M43 21.7h0M-11.6 52h0M-12.3 27.4h0M-3.1 52.1h0M-4.3 24.7h0M12 21.2h0M24.7 20h0M18.1 50.9h0M-26.6 46.2h0M38.7 21.2h0M52.1 27.5h0M-6.5 52.3h0M-19.8 49.9h0M-21.2 49.8h0M-11.8 27.2h0M10.9 21.3h0M8.2 52.1h0M-19.4 30.6h0M-9.9 51.6h0M-17.6 50.3h0M-0.3 52.4h0M-22.2 33.1h0M13.9 51.3h0M-24 33.6h0M24.9 49.1h0M13.5 51.2h0M23.5 49.5h0M-26.9 45.9h0M-28 39.7h0M6.1 22.2h0M35 20.4h0M7.1 52.1h0M47.5 23.9h0M-12.4 51.9h0M30.4 47.5h0M30.6 47.4h0M-0.7 52.4h0M-3.2 52.4h0M23.3 49.5h0M-6.4 25.6h0M25.7 20.4h0M52.1 26.6h0M23.8 49.4h0M44.5 22.3h0M-25.6 47.4h0M-25.1 34.7h0M45.9 23.3h0M32 47.4h0M30 47.6h0M48.4 24.7h0M-28.9 40.3h0M44.3 22.8h0M-6.9 25.4h0M-4.7 24.4h0M-27.5 38.5h0M19.4 50.2h0M26.8 48.9h0M31.5 20.2h0M14 51.5h0M30 47.5h0M-26.3 36.3h0M19.1 50.2h0M-23 48.2h0M-28 44h0M28.2 20.3h0M28 48.6h0M52.4 26.7h0M-15 28.5h0M-25.9 46.1h0M17.8 50.5h0M5.2 22.5h0M51.4 26.2h0M-22.9 33.4h0M-24.3 34.8h0M50.9 25.7h0M16.8 -53.2h0M-3.9 -23.3h0M11.3 -54.2h0M-27 -50h0M20.5 50.2h0M26.6 20.1h0M-28.3 41.2h0M-24.3 -21.5h0M-50.2 -28.7h0M29.2 -37.7h0M10.2 -54.4h0M16.9 -29.5h0M-9.4 -53.7h0M26.7 -49.7h0M28.2 -48.9h0M-36.4 -22.6h0M26.6 -35.3h0M4.3 -54.1h0M-10.3 -22.1h0M15.7 -53.4h0M-4 -23.1h0M8.6 -54.3h0M8.1 -25.9h0M-27 -50h0M25.1 -50.6h0M-21.8 -51.1h0M-36.2 -22.2h0M-38.2 -22.4h0M-28.7 -49.2h0M3.2 -54.2h0M-40.7 -23.5h0M24.3 49.1h0M-24.3 34.1h0M10.5 51.9h0M3.8 52h0M-11 52.1h0M-12.4 27.7h0M-27.1 45.8h0M-5.1 52.5h0M-28.3 41.5h0M20.9 50.2h0M41.6 21.7h0M-4.1 52.5h0M21.1 20.4h0M17.9 50.4h0M-4.8 24.5h0M21.2 50h0M29.4 48.1h0M26 48.9h0M-18.6 30.4h0M-25.8 35.9h0"/><path stroke="#31688e" d="M-26.4 -49.4h0M-46.8 -27.5h0M14.7 -53.3h0M-40.3 -24.2h0M27.8 -47.3h0M-32.1 -22.2h0M-35.8 -23.1h0M-32 -22.7h0M-8.8 -53h0M-18.6 -21.8h0M31 -43.5h0M-40.9 -24.5h0M-23.5 -50.4h0M29.8 -40.1h0M11.4 -53.5h0M-36.3 -23.2h0M27.9 -38.2h0M24.3 -50.5h0M15.8 -52.8h0M29 -40h0M30.8 -43.6h0M20.6 -51.5h0M-13.7 -52.1h0M30.3 -44.7h0M28.2 -38.8h0M25.3 -34.6h0M-30.7 -48.1h0M16.8 -52.9h0M-32 -22.6h0M20.6 -51.5h0M28.2 -48.2h0M14.3 -28.8h0M30.3 -43.1h0M-40.2 -23.6h0M22 -50.9h0M1.2 -53.6h0M30 -39.9h0M21.3 -32.5h0M-39.4 -23.6h0M5.1 -25.7h0M-49 -29.8h0M-6.7 -23.5h0M21.3 -51.1h0M29.8 -43.5h0M26.2 -49.1h0M15.2 -29.7h0M17.7 -52.4h0M-22.9 -50.4h0M-30.3 -22h0M23.3 -33.5h0M1 -53.5h0M14.7 -29.3h0M25.7 -35.9h0M21.7 -51.5h0M-44.5 -25.9h0M29 -47.3h0M29.4 -45.6h0M24.4 -34.3h0M30.9 -42.4h0M-3.7 -53.5h0M5.6 -53.8h0M23.9 -50.2h0M22.5 -51.4h0M1.9 -25h0M27.3 -49.2h0M29.7 -41.9h0M17.2 -52.4h0M2.7 -53.6h0M29.7 -43.2h0M27.5 -48.8h0M-30.6 -48.2h0M19.9 -31.9h0M-9.4 -52.8h0M-23.9 -22.1h0M29.7 -41h0M22.3 -32.9h0M-40 -24.1h0M-15.5 -52h0M19.5 -31.1h0M20.8 -51.7h0M30.1 -43.6h0M-15.6 -22.4h0M29.2 -40.5h0M-8.5 -23h0M-46.6 -26.7h0M-6.9 -53.1h0M-18 -22h0M27.4 -37.2h0M-3.6 -23.9h0M3.4 -54h0M-16.3 -51.8h0M-26.1 37.3h0M39.2 21.9h0M-7.8 51.6h0M-26.9 44.1h0M31.8 21.2h0M-8.6 51.7h0M-15.3 50.5h0M-17.2 49.6h0M-19.7 48.8h0M-14.8 29.1h0M-0.2 51.9h0M-26.5 44.6h0M-23.7 47h0M-25.7 44.1h0M-0.4 51.6h0M4 23h0M41.1 22.7h0M46.6 23.9h0M-18.3 31h0M-22.4 47.4h0M15.6 21.3h0M5.9 22.6h0M-13.9 50.5h0M-7.3 26h0M-23.6 47.3h0M-13.2 50.7h0M-26.9 44.2h0M51.3 28.3h0M26 20.5h0M19.9 20.7h0M-27.2 39.6h0M-8.4 26.9h0M22.1 49.2h0M46.2 24.2h0M-22.9 47.9h0M5.6 22.6h0M-19.4 31.9h0M-26.4 41.4h0M-9.5 26.9h0M-10.3 50.9h0M9.3 22.4h0M26 48.5h0M-1.2 51.8h0M21.4 21h0M34.8 21.2h0M2.4 23.7h0M-0.9 24.3h0M14.6 21.4h0M49.7 26.2h0M40.6 22.1h0M29.6 47.3h0M5.4 23h0M-0.3 52h0M26.7 20.5h0M-26.9 38.6h0M32.9 45.9h0M41.9 22.9h0M10.2 21.8h0M-11.5 50.7h0M9.8 51h0M26 20.9h0M-25.9 38.8h0M10.1 51.5h0M-25.6 38.5h0M-19.1 31.5h0M21.7 20.5h0M-10.6 27.6h0M-1.9 24.5h0M-0.1 52h0M-5.5 25.8h0M43.9 23.1h0M29.7 21h0M3.1 51.5h0M43.7 22.9h0M-18.3 49h0M-24.7 36.5h0M20.5 20.7h0M-3.7 51.5h0M-8.8 51.7h0M-25.3 45.4h0M2 23.3h0M-19.2 31.8h0M4.4 23.2h0M-19.3 32h0M-25.9 44.1h0M48.3 25.5h0M40.3 22.1h0M17.1 50.3h0M3.3 51.7h0M51.3 27.5h0M-11.6 27.6h0M-10.9 51.3h0M-5.2 25.3h0M-3.2 52h0M19.7 20.9h0M33.6 45.9h0M-12.8 28h0M-27.1 43.9h0M-12.3 28h0M25.6 -50h0M-13.2 -52.4h0M6.3 -26.1h0M-25.7 -22.1h0M6.5 -26.5h0M18.4 -30.6h0M-26.1 -22.1h0M25 20.9h0M-26.5 43.1h0M31 -43.5h0M-15.3 -22.4h0M18.4 -52.1h0M-44.2 -25.7h0M-45.3 -25.9h0M-47.8 -27.3h0M24.1 -50.6h0M-47.3 -26.7h0M6.8 -26.2h0M-44.9 -25.3h0M28.8 -46.9h0M29.5 -46.7h0M18.3 -51.9h0M-1.6 -24.1h0M-7.9 -23.1h0M-3.7 -53.5h0M26.3 -49h0M12.3 -53.2h0M30.9 -43.4h0M30.2 -40.9h0M-16.7 -51.6h0M28.9 -45.9h0M-27.2 -22h0M-7 -53h0M-18.1 -51.6h0M-35.7 -22.6h0M-7.2 51.5h0M-19.1 49h0M49.8 27h0M32.7 20.9h0M23.9 49h0M29 47.2h0M-24 47.1h0M-6.6 51.9h0M50.2 26.7h0M34.3 21.4h0M4.8 22.9h0M-17.2 30.5h0M8 51.5h0M-7.6 51.5h0M-14.7 28.9h0M24 48.7h0M31.4 46.9h0"/><path stroke="#2e6d8e" d="M17.5 -31.5h0M-12.5 -23.2h0M-48 -29.8h0M0.4 -53.3h0M25.7 -36.3h0M-10.6 -52.2h0M-46.2 -27.1h0M20.8 -51h0M14.6 -52.3h0M6.4 -53.1h0M25.5 -36.3h0M-24 -22.7h0M-36.3 -23.8h0M28.2 -42.1h0M0.6 -25.2h0M-1.6 -53.1h0M-37.8 -23.9h0M20.3 -32.3h0M6.8 -27h0M24.3 -49.1h0M27.6 -45.3h0M-40.8 -24.9h0M-18.6 -50.7h0M14.1 -52.4h0M20.8 -51.1h0M-29.7 -22.5h0M6 -53h0M11.4 -52.5h0M25.6 -48.2h0M-29.8 -47.6h0M-21.6 -22.5h0M-30.4 -47.9h0M-5 -24.3h0M24.7 -49.5h0M-8.6 -23.8h0M-23.9 -49.8h0M22.8 -34.5h0M28.5 -42h0M-13.2 -23h0M28.1 -41.2h0M17 -31.2h0M-42.7 -25.9h0M-39.2 -24.4h0M-47.2 -28.7h0M27.9 -40.5h0M18.2 -51.7h0M25.2 -36.9h0M28.8 -41.5h0M-18.5 -22.8h0M25.8 -37.4h0M5.4 -26.6h0M-11.9 -23h0M-33.2 -46.4h0M-15.7 -51.7h0M-12.4 -23.2h0M12.4 -29h0M-20.6 -22.5h0M-46.9 -27.8h0M-19.2 -22.8h0M20.1 -50.7h0M22.9 -34h0M-23.5 -49.8h0M28.6 -43.6h0M29.2 -42.9h0M28.5 -43.5h0M22.8 -49.9h0M20.7 -50.5h0M-6 -23.9h0M7.7 -53.2h0M23.5 -34.7h0M-8.2 -52.6h0M-18.1 -22.5h0M29.6 -43.9h0M-35.8 -24h0M-25.9 -49.1h0M7.4 -27.1h0M-13.2 -23.3h0M24.2 -48.9h0M-45.6 -27.9h0M-6 -24h0M15.7 -30.5h0M13.2 -52.3h0M20.1 -50.8h0M-13.1 49.8h0M-26.1 42.2h0M3 51.3h0M-2 51h0M45.6 25h0M21.6 48.7h0M-25.4 43.8h0M-9.5 50.3h0M50 28.3h0M5 23.5h0M-10.3 27.9h0M-16.6 30.8h0M49.2 28.4h0M31.2 46.4h0M6 23.2h0M21 21.3h0M30.5 21.3h0M18.4 21.6h0M49.7 27.9h0M50.3 28.7h0M-9.5 27.5h0M-22.7 45.8h0M22.1 21.2h0M-24.6 37.8h0M-17.7 31.4h0M50.1 29.6h0M-1.1 51.3h0M18.3 49.2h0M38.6 22.3h0M-7.4 51.1h0M-15.8 49.3h0M-25.3 42h0M18.4 21.6h0M41.7 23.2h0M-22.3 35.5h0M-13.6 50.1h0M-24.2 43.7h0M-15.9 30.5h0M-25.7 40.7h0M5.3 51.1h0M45.4 24.8h0M18.6 49.2h0M44.2 24.2h0M-3.7 51.4h0M5.4 51.1h0M-17.7 48.3h0M-14.7 29.7h0M-14.7 49.9h0M-21.4 34.7h0M-11.2 50.7h0M47.8 26.2h0M-11.6 28.9h0M-16.3 49.1h0M-20.2 33.1h0M-11.6 28.4h0M-24.7 42h0M6.7 50.7h0M-25.5 40.5h0M32.6 45.8h0M18.2 21.8h0M17.9 49.8h0M-23.5 45.4h0M15.9 49.8h0M21 21.3h0M4.1 51h0M-15.7 30.7h0M-17.6 31.6h0M-24.6 37.8h0M49.1 28.1h0M-25.3 41.4h0M-14 29.8h0M-25.9 40.4h0M-0.9 51.5h0M-24.8 41.7h0M31 21.2h0M-26.1 41.4h0M21 21.4h0M-26 41h0M47.1 26.1h0M-22 47.1h0M32.1 21.8h0M12.9 22.1h0M-8.5 50.9h0M28.5 46.9h0M-16.6 48.7h0M50.2 29.3h0M-23.8 37.8h0M24.5 21.1h0M8 -53.2h0M23.1 -50.3h0M28 47.2h0M25.8 48h0M30.8 21.6h0M32.4 21.4h0M-19 32.9h0M47.5 26h0M23.8 48.1h0M-46.6 -28.6h0M-9.9 -23.5h0M-2.3 -52.8h0M9.4 -28h0M-31.7 -47.3h0M-21.8 -22.8h0M-46.5 -27.3h0M-9.6 -23.4h0M-30.1 -47.9h0M-46.8 -27.9h0M-37.3 -23.8h0M-30.5 -22.9h0M-6 -24.1h0M-36.3 -23.9h0M15.9 -52.2h0M-1.9 -53h0M12.7 -52.6h0M19.1 -32.3h0M9.2 -27.5h0M-32.7 -46.9h0M-24.8 -22.8h0M26.9 -47.3h0M-16.6 31.2h0M26.9 47.3h0M42.3 23.7h0M22.6 48.5h0M-21.8 47.1h0M13.6 21.9h0M5.8 51.1h0M45.7 25h0M45.4 24.9h0M49.9 29.7h0M-7.5 51.1h0M48.8 26.9h0M24.8 47.9h0M18.4 49.7h0M2.6 51.2h0M0.5 51h0M18.6 49.2h0M-24.3 38.6h0M33.2 45.6h0M44.1 24.5h0"/><path stroke="#2c728e" d="M-41 -26.4h0M0.6 -26h0M-12.8 -51.7h0M19.8 -32.9h0M-22.7 -22.9h0M-33.3 -23.7h0M21.7 -49.1h0M-20.9 -49.7h0M-22.7 -23.2h0M-45.6 -28.4h0M0.7 -52.9h0M-16.2 -23.1h0M9.6 -28.6h0M1.1 -26.1h0M-41.8 -26.3h0M2.9 -26.5h0M-8.2 -52.1h0M23.7 -36.2h0M27 -42.8h0M-21 -50h0M21.6 -50h0M-27.6 -47.9h0M-6.4 -52.4h0M-17.5 -50.8h0M9.9 -52h0M8.5 -28.4h0M17 -51.1h0M-14.8 -23.2h0M-19.5 -23.3h0M26.5 -40h0M-1.4 -25.7h0M-28.4 -47.8h0M19.2 -32.9h0M-7.4 -24.1h0M-46.4 -30.1h0M26.6 -44.4h0M7 -52.5h0M14.3 -30.2h0M0.3 -52.6h0M27.6 -44.8h0M20.7 -33.9h0M-3.3 -24.8h0M-9.4 -23.8h0M-44.9 -27.9h0M-19.1 -50.4h0M-6.6 -24.5h0M-42.7 -27h0M23.4 -48.1h0M26.4 -45.6h0M-10.6 -51.8h0M23.7 -36.5h0M-47.6 -30.6h0M-32.8 -45.8h0M14.5 -30.3h0M9.6 -28.9h0M-6.9 -52.4h0M24.5 -37.3h0M-28.7 -23.1h0M-21.6 -49.6h0M-0.7 -25.4h0M18 -32h0M-5.7 -24.5h0M8.5 -28.4h0M10.7 -29h0M22 -34.3h0M-3.2 -52.4h0M-39.5 -25.3h0M-9.7 -51.8h0M24.9 -37.4h0M23 -49.3h0M-17.6 -50.6h0M-25.5 -48.3h0M-32.7 -23.8h0M-2.6 -52.7h0M-1.7 -52.4h0M26.8 -46.3h0M-43.9 -27.3h0M14.8 -30.9h0M-45.9 -28.8h0M-16 -23.2h0M-45.9 -29.2h0M1.4 -26h0M27.9 -42.5h0M-2.4 -25.2h0M27.8 -42.7h0M26.3 -40.2h0M-25.2 -22.9h0M-11.1 -23.6h0M-28.6 -23.5h0M26.7 -46.2h0M23.2 -36.2h0M21.7 48.2h0M48.2 29.4h0M17.4 49.1h0M32 22.1h0M9 50.2h0M38.7 23.1h0M28.8 22.2h0M46.5 26.5h0M19.3 48.5h0M25.7 47.2h0M48 28.3h0M-20.8 35.8h0M-22.6 36.7h0M2 50.8h0M19.4 21.8h0M-24.3 42.9h0M-24 38.8h0M-19 46.8h0M-12.7 29.5h0M20.6 22.2h0M31.2 45.7h0M42.4 24.9h0M33.4 44.5h0M22.5 47.9h0M-18.9 33.3h0M-23.7 42.9h0M-10.2 50.1h0M-4.2 50.6h0M38.8 23.7h0M-18.2 32.7h0M18.8 48.9h0M47.2 26.7h0M19.1 48.5h0M-23.5 40.1h0M-23.5 38.7h0M-2.7 26.1h0M-22.1 44.5h0M40.6 23.6h0M38.6 23.3h0M-10.1 28.6h0M34.9 44.1h0M15.5 22.2h0M6.1 50.3h0M15.7 49.3h0M-9.5 49.9h0M26.6 46.8h0M-22.2 45.3h0M18.5 22.2h0M28.8 46.6h0M-15.9 48.5h0M4.4 24h0M18.5 21.9h0M-20.1 34.1h0M25.1 47.4h0M-2 50.4h0M-20.8 35.5h0M40.2 24.1h0M-22.5 44.2h0M31.8 22.5h0M35.2 44h0M6.9 23.8h0M21.1 48.2h0M20.4 21.8h0M48.5 30.9h0M26.3 47h0M4.4 24h0M-10.4 49.8h0M25.7 47h0M28 46.8h0M-17.2 48h0M-5 -52.2h0M-43.3 -26.6h0M-25.4 -48.4h0M-16.1 -50.8h0M21.8 -49.4h0M2.9 50.8h0M6.8 50.3h0M-17.1 32.3h0M11.7 22.7h0M6 23.8h0M-1.7 50.5h0M-2.9 25.8h0M-12 -23.7h0M-21.9 -23h0M5.7 -52.6h0M-30.2 -46.8h0M-47.6 -30.4h0M-44.9 -28.6h0M-42.9 -26.8h0M14.4 -52h0M-46.9 -30h0M-41.4 -26.2h0M-1.8 -52.8h0M13.8 -51.4h0M-21.6 -49.4h0M-22.9 -49.6h0M-25.7 -48.7h0M-47 -30.6h0M-26.6 -48h0M8.2 50.4h0M14.4 49.5h0M5.5 50.6h0M4.2 50.6h0M-20.1 34.7h0M-11.2 49.8h0M11.9 22.9h0M47.8 27.6h0M-24 39.9h0M9.9 50.1h0M-9.1 49.7h0M45.2 26h0M33.7 22.7h0M31.9 22.3h0M34.5 22.7h0M38.9 23.6h0M21 48.4h0M17.9 49.2h0M-15.2 31.4h0M-20.3 34.5h0M27.9 21.8h0M47.2 27.7h0M48.5 29.7h0"/><path stroke="#2a778e" d="M24.1 -46.1h0M-31.4 -24.2h0M-43.8 -28.4h0M4 -27.5h0M19.8 -33.7h0M-26.6 -23.6h0M-41.5 -27.5h0M25.5 -43.9h0M24.5 -45.9h0M26.5 -41.5h0M-7.1 -51.5h0M25 -45.3h0M22.5 -36.3h0M-42.6 -27.5h0M-15.1 -50.7h0M5.8 -52h0M0.9 -26.3h0M0 -51.9h0M-1 -25.9h0M11.9 -30.1h0M-40.3 -26.8h0M9.8 -29.1h0M-35.3 -44.4h0M23.1 -47.4h0M-45.3 -29.6h0M3.1 -52h0M-7 -25h0M-45.8 -29.8h0M-12.4 -24.1h0M13.8 -31.2h0M-1.5 -52.2h0M-27.4 -47.7h0M22.4 -48h0M-30 -46.5h0M-15.1 -50.7h0M25.2 -44.5h0M-29.3 -24.1h0M-42.6 -28h0M15.8 -32.1h0M-12.4 -51.2h0M14.9 -50.5h0M-45.6 -32h0M26.7 -41.8h0M-45.7 -33.5h0M1.1 -26.6h0M23.6 -37.6h0M4.9 -52h0M20.7 -34.8h0M26.1 -42.4h0M10.6 -29.3h0M-13.4 -51.1h0M-43.8 -29.2h0M7.9 -51.8h0M-5.2 -25.1h0M4.5 -52.1h0M25.7 -41.9h0M4.7 -27.4h0M-20.1 -23.5h0M25.2 -39.5h0M6.3 -51.8h0M-31.1 -24.1h0M9.8 -29h0M5.2 -52.3h0M1.4 -26.9h0M26.4 -43.5h0M-14.8 -23.8h0M25.4 -42.9h0M-21.3 -49.1h0M17 -50.4h0M-17.8 -50h0M-23.7 -48.4h0M-6.5 -52h0M-16.4 -23.6h0M-31.2 -46.1h0M4.8 -27.5h0M25.4 -41.4h0M-45 -29.8h0M16.9 -32.2h0M-37.9 -25.6h0M-3.3 -51.7h0M-22.3 -49h0M22 -48.3h0M7.4 -52h0M-42.5 -27.6h0M4.8 -51.8h0M-22.5 -23.4h0M23.8 -38.2h0M26.1 -44.7h0M-45.8 -32h0M26.2 -42h0M39.2 24.2h0M-10.5 29.5h0M-22.2 42.7h0M2.9 50.3h0M47.2 31.2h0M-19.4 35.5h0M28.1 46.3h0M-5.9 27.6h0M29.4 22.7h0M-6.8 27.9h0M-21.3 37.9h0M47.5 29.3h0M37 23.9h0M29.5 22.9h0M48.2 30.6h0M42.2 25.5h0M3.4 50h0M-22.8 42.1h0M-15.9 47.2h0M31.7 44.9h0M-22 42.1h0M1.8 25.1h0M46.8 29.9h0M-12.9 48.5h0M-2.4 50h0M-18.7 46.4h0M-23.1 41.3h0M46.5 28.2h0M21.9 47.6h0M45.2 27.4h0M2.2 25.3h0M12.5 49.3h0M-18.3 34.4h0M-22 43.9h0M40.2 24.8h0M43.2 25.5h0M5 24.5h0M10.9 23.4h0M20.7 48h0M38.4 24.4h0M3.8 50.2h0M14.8 23.1h0M-18.4 46.5h0M3.4 24.8h0M14.9 48.9h0M34.1 44.1h0M-18.9 34.5h0M10.6 49.7h0M28 22.5h0M-16.4 32.7h0M-15.4 32.5h0M4 49.9h0M-17.8 46.6h0M42.9 26.2h0M-1.6 26.3h0M-0.4 25.8h0M24 22.3h0M-19.3 35.2h0M-10 49.3h0M30.4 22.4h0M-21.7 39.1h0M43.3 25.9h0M48 30.3h0M13.3 23h0M-4.5 49.8h0M-15.6 32h0M-8.2 49.7h0M-8.3 28.7h0M-19 46.3h0M-20.4 35.8h0M13.1 23h0M47.7 31.2h0M32 22.7h0M6.4 24.2h0M-22.5 42.1h0M27.6 22.6h0M-18.5 34.5h0M-0.9 26.2h0M37.1 24h0M40.8 24.8h0M-12.8 48.8h0M19.8 48.2h0M-19.6 46.2h0M28.5 45.7h0M8.4 49.8h0M-17.6 46.6h0M44.8 26.3h0M-14.1 31.4h0M-30.5 -46.2h0M26.1 -45h0M16.1 -32h0M-18.8 35.1h0M15.7 22.7h0M-12.1 48.7h0M-42 -27.5h0M7.7 -52h0M-42.7 -27.6h0M16.7 -32h0M-30.8 -24.3h0M19.9 -34h0M-46.8 -32h0M26.4 -42.1h0M8.3 -28.6h0M-0.7 -52.3h0M-25 -23.5h0M0.9 -52.3h0M-8 -24.9h0M-45.7 -33.2h0M-34.3 -24.6h0M-35.8 -25.3h0M-27 -47.4h0M-18.4 -49.9h0M3.5 -52h0M-35.6 -43.9h0M-15.2 -50.5h0M5.2 -52.3h0M25.7 -45.3h0M-15.3 48h0M-16 32.2h0M11.5 49.4h0M3.4 50.2h0M19.9 48.3h0M31.6 22.7h0M13.3 23.1h0M2.9 25.2h0M44.7 27.4h0M9.3 49.5h0M17.9 22.9h0M8.5 49.7h0M48.1 30h0M-22.3 38h0M-12.7 30.9h0M36.1 23.2h0M-12.6 48.8h0M35.2 43.5h0M32.7 22.9h0M28.6 46.1h0M25.3 22.6h0M-11.9 29.9h0M-11.6 48.7h0M11.9 49.2h0M-17 33.6h0"/><path stroke="#287c8e" d="M24.4 -39.7h0M3.4 -51.3h0M10.2 -30.2h0M6.1 -51.5h0M17.5 -33.9h0M-1 -51.3h0M-6.2 -25.4h0M13 -31.4h0M-44.2 -31h0M17.5 -33.6h0M16 -32.9h0M2.2 -51.5h0M-44.2 -30h0M23.8 -44.8h0M23.9 -39.2h0M-15.7 -49.8h0M23.9 -44.9h0M-2 -26.2h0M23.4 -46.4h0M-5.6 -25.7h0M15 -32.5h0M-36.2 -25.6h0M-35.4 -26h0M15.5 -32.2h0M-31.5 -24.6h0M-41.7 -28.6h0M9.3 -51.2h0M-45 -31.6h0M-42.3 -28.6h0M24.6 -44.5h0M19.4 -48.5h0M24.1 -41.2h0M-24.4 -24.3h0M-41.1 -27.5h0M-44.8 -33.7h0M-24.8 -47.8h0M20.1 -35.7h0M7.6 -29h0M24.2 -42.6h0M-10.3 -51h0M17.9 -49.3h0M10.8 -30.3h0M5.9 -28.7h0M-35.8 -43.6h0M-35.2 -25.7h0M7.4 -51.4h0M2.2 -27.4h0M7.5 -29.1h0M-41.4 -27.7h0M-35.8 -43.6h0M-44.5 -32.9h0M-23 -24.3h0M-6.6 -25.6h0M-23.7 -24.2h0M-44.8 -30.8h0M-12 -50.8h0M8.1 -29.1h0M-39 -26.5h0M24.5 -40.1h0M-44.4 -31.4h0M-10.9 -50.5h0M21.7 -37.3h0M10.9 -30.6h0M3.6 -27.9h0M-11.5 -50.8h0M10.2 -30.2h0M-16.4 -49.8h0M-26.8 -24.2h0M-42.6 -28.8h0M-45 -31.4h0M23.8 -39.7h0M21.5 -36.7h0M7.8 -51.3h0M42 26.4h0M-20.3 39.6h0M38.3 41.4h0M31.5 44h0M41.8 26.2h0M36.4 24.2h0M37.2 41.8h0M45.6 30.8h0M33 23.3h0M6 49.4h0M24.2 46.6h0M-20.2 37.1h0M-20.7 38h0M-20.3 43.8h0M22.7 46.7h0M-21 40.7h0M14.8 48.7h0M11.5 24.1h0M-19.7 37.6h0M35 24h0M1.9 49.3h0M-12.9 31.4h0M23.1 22.9h0M-6.6 48.9h0M10.6 24.2h0M-9.5 48.5h0M31.9 23.6h0M17.7 48.2h0M0.1 26.5h0M45.9 30.1h0M5.7 49.6h0M7.1 49.4h0M13 48.7h0M45.7 33.6h0M-20 38.1h0M-16.8 45.7h0M45.7 28.7h0M45.8 32h0M28.9 23.1h0M32.8 23.6h0M11.5 48.8h0M7.8 49h0M7 24.5h0M9.9 49.2h0M43.4 27.2h0M45.8 33.9h0M-20.5 38.3h0M-15.7 33h0M-18.1 44.9h0M45.2 28h0M-15 32.2h0M5.2 49.3h0M28.5 45.3h0M20.3 23h0M-20.8 40.4h0M-17.6 34.6h0M45.4 28.7h0M-20.2 38.8h0M33.3 23.8h0M8.1 49.3h0M-20.7 43.7h0M-17.9 45.4h0M15.1 48.7h0M7.1 49.2h0M43.7 27.9h0M-0.7 49.3h0M36.1 42.4h0M26.9 23.3h0M-13.7 31.8h0M-15.6 46.4h0M-2.2 49.4h0M-15.7 46.8h0M10.5 -51.2h0M-5.7 -51.5h0M-15.2 -50h0M16.3 -49.9h0M23.4 -39.3h0M46 33.4h0M24.5 -44.9h0M-29.9 -46.2h0M-26.1 -24.2h0M23 -46.1h0M19.2 -49h0M-4.6 -25.7h0M-23 -48.4h0M-40.8 -27.6h0M-4.9 -51.1h0M18.2 -48.9h0M22.9 -46.6h0M-9 -50.7h0M-5.4 -25.7h0M-40.3 -27.8h0M22.4 -47.2h0M-25.3 -24.4h0M-8.9 -51h0M-36.8 -42.5h0M9.4 -50.9h0M-0.9 -51.4h0M-15.5 -50.2h0M-16.1 -24.2h0M-42.9 -28.7h0M-1.1 49.3h0M14.9 48.7h0M-14.9 46.9h0M-6.8 49.1h0M-13.9 32.2h0M46.3 30.5h0M46.3 30.8h0M-14.2 32.6h0M16.8 23.3h0M-10.5 48.5h0M-19.8 44.3h0M30.5 44.8h0M-15.1 46.6h0M23.8 46.5h0M23.4 47h0M-20.5 41.5h0M-17.3 45.7h0"/><path stroke="#26828e" d="M-41.6 -29.9h0M-4.6 -51h0M17.2 -48.2h0M-24 -47.6h0M18.2 -48.5h0M-10.7 -50.1h0M12.3 -31.3h0M11.9 -31.6h0M-31.1 -44.8h0M-12.3 -50h0M22.9 -44.3h0M-23.5 -24.5h0M-44.1 -34.4h0M-32.2 -25.5h0M22.8 -39.9h0M-6.2 -25.8h0M-43 -34.4h0M20.3 -37.2h0M-43.5 -32.6h0M-43.4 -33.1h0M1.3 -51h0M-22.9 -24.5h0M-37.3 -26.7h0M2.5 -51.2h0M22 -46h0M22.2 -44.8h0M-14 -49.6h0M-23 -47.6h0M-9.7 -50.2h0M-34.7 -43.5h0M8.3 -29.9h0M-37.1 -26.6h0M19.6 -35.9h0M10.8 -31h0M-35.1 -26.1h0M6.2 -29.2h0M-36.7 -27.1h0M-12.9 -50h0M22.5 -39.1h0M11.2 -31.2h0M-2.5 -50.8h0M-33.2 -25.9h0M13.7 -32.1h0M-30.2 -25.3h0M19 -48.2h0M-27.2 -24.9h0M20.8 -37.7h0M-15.7 -49.3h0M-29.3 -25.4h0M-35.1 -26.3h0M23.8 -41.6h0M-15.6 -49.7h0M-23.9 -47.7h0M-25.3 -24.9h0M9.1 -30.1h0M2.7 -51.1h0M-41.4 -37.7h0M22.9 -42.7h0M19.6 -46.8h0M12 -31.6h0M-11.9 -50.3h0M-33.7 -25.7h0M-40 -39.7h0M-37.7 -41.2h0M-20.6 -48.4h0M22.7 -43.4h0M-40.9 -29h0M-2.1 -26.6h0M-37.2 -42h0M-33 -44.3h0M8.7 -50.8h0M22.5 -43.5h0M-11.3 -50.1h0M-25.6 -47h0M-43 -32.5h0M2 -28h0M-28.4 -45.8h0M23.2 -40.9h0M-40.9 -28.4h0M-0.4 -27.2h0M-15.5 -49.4h0M-41.7 -37.3h0M-17.3 -49.1h0M-43.7 -34.2h0M19 -48h0M-34.8 -43.4h0M-29.1 -24.8h0M18.1 -48h0M-42 -36.7h0M-12.1 -25.2h0M-16.3 35.1h0M22.5 46.6h0M11.5 24.3h0M38 25.1h0M-19.7 41.1h0M24 23.3h0M19.9 23.5h0M40.1 25.9h0M19.3 47.2h0M30.4 23.8h0M32.5 43.3h0M-17 35.5h0M41.7 37.5h0M36.9 25.3h0M-6.9 29.2h0M-17.2 45.2h0M29.1 44.7h0M20.3 47.1h0M9.3 48.7h0M8.6 48.7h0M-17 44.3h0M5.5 48.7h0M-11.4 47.3h0M33.3 42.8h0M26.1 23.6h0M30.8 44.1h0M2.7 48.9h0M-9.1 47.7h0M-8.1 29.5h0M21.8 46.5h0M-0.4 48.7h0M-4.4 28.4h0M1.6 26.5h0M26.4 23.7h0M-19.3 42.8h0M-10.4 30.9h0M38.3 40.2h0M28.6 44.8h0M40.9 26.7h0M-18.9 36.9h0M22.7 46.3h0M44.7 32.1h0M0.4 48.8h0M28 45h0M26.2 23.4h0M-18.9 39.9h0M-1.3 27.1h0M-8.5 29.7h0M25 23.5h0M1.8 48.9h0M0 27.1h0M-1.2 27.3h0M-19.8 41.5h0M13.1 24.1h0M-19.4 41.9h0M25.3 45.9h0M32.2 24h0M-13.2 46.9h0M14.7 24h0M45.1 32.7h0M43.6 35.2h0M25.6 45.6h0M-3.7 48.9h0M-16.8 45.6h0M-6.8 29.1h0M-11.3 47.7h0M44.7 30h0M6.4 48.6h0M32.2 43.4h0M31.9 23.7h0M43.5 35.4h0M3.9 25.6h0M-16.7 44.9h0M-19.6 38.8h0M-20.6 -48.3h0M18.7 -35.2h0M-42.1 -37h0M37.7 25.1h0M35.7 41.6h0M-19.4 -48.6h0M-22 -47.9h0M-25.3 -47.3h0M-37.2 -42h0M-26.1 -46.7h0M-43 -30.8h0M-25.9 -47h0M-20.6 -48.1h0M-18.8 -24.4h0M-42.6 -37h0M4.2 -28.3h0M3.1 -28.1h0M-33.5 -43.9h0M-32.8 -25.5h0M22.8 -40.2h0M-33.4 -43.8h0M18 -48.7h0M-22.8 -47.9h0M-26.4 -46.8h0M-4.7 -50.8h0M4.1 -28.5h0M22.2 -38.8h0M-29.5 -24.9h0M-2.7 48.6h0M39 39.5h0M8.1 49h0M-10.5 31.2h0M29.9 44.3h0M9.9 48.4h0M2.6 26.3h0M30.3 23.8h0M32.3 43.4h0M1.4 26.7h0M-15.9 34.4h0M13.2 48.3h0M22.7 46.2h0M-4.1 48.5h0M15.3 24h0M-18.9 40.7h0M9.4 48.5h0M32.8 24.2h0M22.4 46.4h0M41.5 37.8h0M12.9 48.1h0M-1 48.8h0M-9.5 30.2h0M21 46.7h0M43.9 29.5h0M-20.2 40.9h0M41.6 38h0"/><path stroke="#24868e" d="M2.5 -28.5h0M-32.6 -43.5h0M-36.8 -40.8h0M-19.8 -25.3h0M-14.3 -25.5h0M-27.9 -45.8h0M19.8 -37h0M2 -50.5h0M4.9 -29.4h0M-22.7 -25.1h0M18.6 -46.5h0M22 -41.8h0M-35.9 -27.3h0M-25.2 -46.6h0M19.4 -46.5h0M20.8 -44.1h0M-40.9 -31h0M-1.8 -27.4h0M-0.3 -50.4h0M-22.1 -25h0M17.4 -34.9h0M-5 -50.3h0M-20 -48h0M-8.6 -50.1h0M-37.2 -41h0M20.6 -45.5h0M17.2 -47.2h0M22.1 -42.4h0M-34.7 -26.7h0M9.4 -50h0M-19.6 -48.1h0M16.4 -47.7h0M-21.2 -24.9h0M-15.9 -25.2h0M-37.8 -27.7h0M-41.6 -31.5h0M20.9 -44h0M4 -29h0M-13.7 -25.7h0M17.5 -35.8h0M-40.8 -37.5h0M-38.7 -28.5h0M14.7 -33.4h0M-16.8 -25.4h0M-11.6 -25.5h0M-40.7 -29.4h0M-22.7 -25.1h0M-14.9 -49.2h0M-42.5 -33h0M0 -50.3h0M-19.7 -48.1h0M11.5 -31.8h0M-38.4 -40.1h0M-42.9 -32.5h0M18.4 -47.2h0M-8.9 -25.8h0M12.1 -49.2h0M15.1 -33.6h0M-38 -40.6h0M19.5 -46h0M-36.5 -41.7h0M20.1 -37.3h0M-42.6 -32.5h0M12.5 -32.1h0M1.4 -28h0M21.6 -42.9h0M-13 -25.6h0M19.4 -36.6h0M-23.5 -47.2h0M-31 -44.5h0M-10 -26.1h0M-16.2 -49.1h0M21.2 -43.6h0M-35.9 -27.2h0M-34.1 -43h0M12.5 -49h0M32.2 43.1h0M41.6 27.9h0M29 24.2h0M18.7 46.8h0M8.4 48.2h0M43.9 33.8h0M15.7 47.4h0M38.5 26.6h0M34.9 41.4h0M36.1 40.9h0M-17.3 42.7h0M-7.4 30.5h0M-2 48.1h0M-6 47.9h0M39.1 38.7h0M17.7 24.3h0M-4.5 48h0M-17.7 42.2h0M2.9 26.5h0M27.9 44.5h0M30.3 24.4h0M24.2 45.5h0M-0.2 27.5h0M-18.9 40.1h0M-0.9 48.3h0M3.3 26.4h0M24.9 24.2h0M-3 28.2h0M-11.6 46.1h0M-16.2 35.6h0M-6.8 29.6h0M-10.7 32.2h0M-11.3 46.6h0M14.9 47.5h0M43.5 29.9h0M3.3 26.4h0M37.5 26.1h0M-17.4 41.3h0M-8.3 47.1h0M5.8 48.4h0M-4.7 48.1h0M6.6 48.5h0M43.3 30.3h0M-13 33.4h0M28.3 24.2h0M1 27h0M34.2 24.9h0M-3.2 28.5h0M-18.7 40h0M23.9 23.8h0M-0.1 27.3h0M-12 46.2h0M39.7 38.2h0M38.2 26.5h0M32.8 42.3h0M-16.7 35.9h0M42.8 34.8h0M32.1 24.4h0M-17.6 43h0M38.3 39.9h0M17.2 24.3h0M22.4 24h0M-12.6 32.6h0M27.9 24h0M39.5 38.9h0M18.6 47h0M42.8 30.1h0M28 24.1h0M31 24.7h0M-4.7 29.1h0M-17.9 39.1h0M-12.4 46h0M-5.4 29.6h0M-41.9 -34.3h0M29 24.1h0M27.6 24.1h0M-17.5 40.4h0M-4.9 29h0M-10.2 -25.7h0M21.3 -42.3h0M-37.3 -27.9h0M-5.3 -26.7h0M-7 -50.1h0M-24.7 -46.7h0M2 -28.1h0M-8.1 -50.3h0M-40.2 -29.9h0M-13.1 -49.2h0M4.5 -28.9h0M-31 -44.4h0M-41.8 -34.3h0M-37.7 -40.6h0M-11.4 -25.5h0M22.1 -43.9h0M5.1 -50.4h0M-13.4 33.3h0M43 28.9h0M35.1 25.5h0M-8.1 30.4h0M20.6 23.8h0M-3.1 28.2h0M31.2 43.1h0M-13.9 46h0M42.7 34.5h0M-4.2 48.2h0M21.7 46.4h0M17.1 47.4h0M44.1 31.9h0M-14.7 45.2h0M30 43.8h0M-3.4 28.7h0M43.3 34.7h0M-18.1 38.3h0M-16.7 35.8h0M-17.6 42.8h0M44 32.2h0M41 37.3h0M4.2 26.5h0M-16.7 37.2h0M41.4 37.3h0M43 34.8h0M5.1 48.7h0M32 24.7h0M42.3 35.9h0"/><path stroke="#228b8d" d="M-2.4 -49.8h0M-34 -42.1h0M-40.4 -30.6h0M-14.6 -48.6h0M19.4 -38.2h0M12.4 -32.7h0M17.8 -46h0M1.8 -49.7h0M-40.9 -34.4h0M20 -40.4h0M11.9 -32.9h0M-37.8 -39.6h0M19.5 -38.9h0M19.2 -45.3h0M-26.9 -45.7h0M7.5 -49.6h0M14.1 -48h0M16 -35.7h0M-13.4 -49.1h0M-36.4 -41h0M20.6 -42.9h0M-41.4 -35h0M15.6 -35.2h0M-23.5 -25.9h0M-30 -26.2h0M-41.4 -35.6h0M20.1 -40.3h0M18.1 -46.4h0M15.4 -47.2h0M-35.4 -27.9h0M-30.9 -26.2h0M-7.2 -26.8h0M-8 -26.6h0M-18.4 -48.1h0M1.9 -28.8h0M19 -38.7h0M3.6 -49.7h0M-37 -28.2h0M-7.1 -26.9h0M4.2 -29.9h0M18 -36.9h0M-31.8 -26.9h0M-39.9 -36.6h0M11.9 -32.7h0M20.3 -44.1h0M-40.3 -32.2h0M4.8 -29.7h0M-39.6 -30.2h0M-38.3 -29.5h0M-32.2 -42.9h0M-36.1 -27.8h0M-1.2 -28.1h0M3 -29.3h0M-37.9 -39.8h0M20.7 -43.9h0M-38 -29.6h0M9.4 -49.2h0M-39.8 -31.1h0M-40.2 -35.9h0M-29.3 -44.8h0M20.4 -43h0M-14.8 -25.9h0M-12.2 -26h0M-7.2 -49.6h0M19.7 -45.1h0M-8.9 -49.7h0M-19.9 -25.7h0M-40.3 -36.3h0M-33 -27.1h0M-16.6 -48.5h0M-30 -44h0M-20.3 -25.8h0M-2.3 -49.8h0M-30.1 -26.6h0M-27.8 -26.1h0M-41.5 -32.6h0M15.5 -35.2h0M6.8 26h0M-5.1 47.4h0M22.1 45.6h0M23 45.5h0M-13.3 45.1h0M22.2 45.7h0M42 34.8h0M39.5 27.7h0M9.9 47.6h0M-13.9 35h0M36.4 40.1h0M-16.9 39.6h0M-16.6 38.1h0M-6.9 30.4h0M-15.8 43.3h0M40.2 37.4h0M26.1 44.4h0M40.2 28.5h0M25.7 24.5h0M12.6 47.2h0M42.8 31.4h0M4 26.8h0M-9 31.5h0M38.5 27.5h0M6 47.7h0M-3 47.8h0M-11.5 33h0M36 40.3h0M42.8 31.6h0M-15.9 38.7h0M-4.1 29.6h0M14.1 47.1h0M41.9 30.9h0M-13.8 35h0M18.6 46.2h0M36 40.6h0M41.2 36.4h0M1.1 27.6h0M40.3 37.3h0M22.2 45.8h0M24.2 24.5h0M11.3 47.4h0M26.4 24.8h0M-13.2 45.3h0M-13.9 44.8h0M-16.4 38.1h0M41 35.9h0M-13.6 35.3h0M21.5 45.7h0M6.2 48h0M28.1 44.1h0M-10.2 45.8h0M26.2 44.5h0M35.9 40.5h0M24 45.2h0M-15 43.6h0M0.5 47.9h0M15.4 46.7h0M41.9 34.2h0M-9.9 32.5h0M-12.3 33.5h0M-2 47.5h0M5.8 48.1h0M38.8 27.6h0M17.9 46.5h0M37.4 27h0M39.9 37.6h0M11.9 25.3h0M15.4 25.1h0M29.4 43.4h0M-3.8 47.6h0M17 46.9h0M38.3 38.9h0M-9.6 32.3h0M19.8 24.4h0M5.7 48h0M41.6 35.7h0M40.2 36.6h0M38.8 27h0M-24.8 -46.3h0M-14.9 -48.7h0M-39.1 -38.7h0M18.2 -46h0M-2.8 -50h0M-10.8 -26.3h0M-24 -25.8h0M-10.2 -49.4h0M-31.2 -43.5h0M-33.8 -42.4h0M16.3 46.6h0M-21.7 -25.4h0M15.1 -34.6h0M-36.4 -40.8h0M-32.5 -27.1h0M-25.6 -46h0M-26.8 -25.8h0M1.5 -49.8h0M-39.9 -37.1h0M-12.3 -48.9h0M9.8 -31.4h0M-41.5 -33.2h0M2.6 -28.9h0M-4.7 -49.7h0M-6.2 -27.1h0M17.5 24.8h0M-1.3 47.6h0M25.2 44.9h0M12 47.3h0M29.7 43.3h0M41.6 29.7h0M-1.5 28.4h0M-3.3 47.8h0M28.4 24.7h0M-12.5 45.4h0M42.4 31.4h0M-9.3 31.5h0M38.4 27.2h0M15.7 46.7h0M11 25.5h0M23.6 24.2h0M37.5 39.5h0M18.9 46.6h0M-9.9 46.4h0M42 29.4h0"/><path stroke="#21918c" d="M5.3 -30.4h0M-24.7 -26.1h0M-39.1 -32.4h0M18.6 -42.6h0M-18.4 -47.4h0M15 -46.8h0M6.9 -31.4h0M16.7 -45.2h0M-33.5 -27.9h0M10.8 -48.3h0M-32 -27.4h0M-37.8 -30.1h0M-34.4 -28.5h0M11.2 -33.1h0M-23.2 -46.3h0M-5 -49.5h0M7.2 -48.9h0M0.5 -49.6h0M15.5 -46.4h0M-37.9 -29.6h0M-6.1 -49.4h0M-3.2 -27.8h0M-40 -34.2h0M10 -48.4h0M-39.3 -30.9h0M18.5 -42.3h0M-13.6 -26.4h0M18.4 -39.9h0M-36 -40.4h0M14.5 -35.3h0M-40.2 -35.6h0M18.7 -41.3h0M18.7 -41h0M16.1 -36.7h0M-40.1 -32h0M-39.1 -36.2h0M-19.3 -47.2h0M-10.4 -49h0M15.8 -46.2h0M-5.5 -27.5h0M11 -47.8h0M10.2 -48.6h0M-39.8 -36.1h0M-8.8 -49h0M-38.7 -36.7h0M-39.5 -34.3h0M15.2 -46.3h0M-34.8 -28.7h0M16.2 -45.7h0M-14.7 -48.1h0M-13.1 -26.4h0M-34.9 -41.3h0M-11.2 -26.7h0M-15.3 -48.1h0M-39.7 -32.4h0M-5.4 -27.8h0M-39.4 -36.4h0M-28.7 -44.2h0M-1.4 -28.5h0M1.8 -29.2h0M18.8 -40.1h0M-21.4 -46.8h0M-29 -26.8h0M13.9 -46.9h0M19.7 -40.3h0M13.2 -47.7h0M11 -33.2h0M-12.7 -48.4h0M6.4 -49.1h0M-39 -37.7h0M6.8 -49h0M-20.8 -47h0M8.4 -31.8h0M-38.9 -37.2h0M-11.6 34.1h0M40 36.6h0M30.7 25.5h0M28.8 43.3h0M40.5 30.5h0M-15 39.8h0M-16 39.4h0M34 26.3h0M-11 44.8h0M5.3 27h0M32.9 25.9h0M24.2 25.1h0M41 33.3h0M5.2 27h0M-13.6 35.6h0M41.7 31.1h0M-9.3 32.9h0M-4.9 30.3h0M-5.1 47h0M1.8 47.5h0M12.3 46.8h0M40.7 34.8h0M-1.2 28.8h0M6.2 47.3h0M25.4 44.1h0M19 25h0M-2.4 29.5h0M33.4 41.2h0M-8.4 46.2h0M19.8 45.5h0M23.7 44.8h0M33.5 41.2h0M-10.4 45.4h0M17.9 25.3h0M10.9 26h0M-5.5 46.5h0M22.5 25h0M-15.6 40.1h0M-2 29h0M27.7 43.6h0M-9.7 32.8h0M9.7 47h0M-10.5 33.1h0M-14.6 38.7h0M36.1 26.9h0M-7.8 46.4h0M15 46.5h0M36.5 27.2h0M8.5 47.3h0M-11.4 34.2h0M-0.3 47.4h0M-12.8 43.7h0M28.8 43h0M26 25.2h0M12.9 46.9h0M34.1 40.5h0M34.8 40.4h0M25.3 44.4h0M-1.1 29.1h0M39 28.5h0M34.3 26.5h0M25 44.1h0M32.7 41.3h0M-13.4 36.4h0M-13.3 35.8h0M-10.1 32.9h0M40.3 36h0M17.4 -45.7h0M26.8 43.6h0M39.5 36.4h0M40 35.4h0M-14.2 42.6h0M27.7 43.5h0M9.6 -48.4h0M4.1 -49.5h0M5.7 -49.2h0M-3.2 -28.2h0M15.3 -36h0M12.3 -34.1h0M3.9 -29.8h0M-3.9 -27.9h0M-26.9 -45.1h0M2.9 -49.6h0M1.9 -29.6h0M-7.8 -27.1h0M5.6 -49.1h0M18.7 -44.2h0M-21.3 -46.7h0M17.8 -38.6h0M-15.1 39.4h0M12.3 47h0M-6.1 46.6h0M25.9 25.2h0M0.6 47.6h0M32.2 26.1h0M-1.1 47.1h0M-5.7 46.7h0M10.9 26h0M40.2 30.3h0M41 32.1h0M9.6 47.4h0M-8.1 31.6h0M38.1 28.1h0M39.2 36.4h0"/><path stroke="#1f958b" d="M-37.8 -36.8h0M17.9 -41.6h0M10.6 -33.7h0M16.2 -38.2h0M-23.1 -26.7h0M14.7 -45.6h0M3.2 -30.2h0M-38.1 -31.8h0M3.6 -48.7h0M-31.9 -27.9h0M5.8 -31.3h0M-36.1 -39h0M-32.4 -42.1h0M8.7 -48.3h0M-20.1 -46.7h0M-33.2 -41.5h0M16.2 -45h0M-38.9 -34.3h0M18.2 -40.8h0M8.2 -32.1h0M-34.8 -29.3h0M-33.8 -41h0M-38.1 -37.6h0M3.9 -48.6h0M-37.2 -38.4h0M-18.8 -47.1h0M-38.3 -33.2h0M14.3 -36h0M18.3 -40.6h0M-18.1 -26.7h0M1.6 -49.1h0M-37.7 -31.3h0M-35.2 -29.1h0M18.3 -42.4h0M-30.6 -27.7h0M-31.9 -42.2h0M18.1 -41.6h0M-15.5 -26.6h0M17.4 -43.7h0M17.6 -41.8h0M2.4 -30.3h0M-21.8 -46h0M-21.3 -46.3h0M-32.8 -41.7h0M-38 -37.6h0M17.1 -38.5h0M-37.7 -37.1h0M4 -30.7h0M-26.5 -44.4h0M-38.7 -33.2h0M4.7 -48.4h0M-10.9 -48.6h0M-32.2 -41.9h0M-12.5 -26.9h0M-29.8 -27.5h0M-24.9 -26.5h0M-27.1 -44.2h0M-10.5 -48.3h0M7.6 -31.9h0M16.4 -37.5h0M-24.5 -45.2h0M-2.8 -49h0M-4.3 46.4h0M-14 41.6h0M10.5 46.7h0M37.5 28h0M18.1 25.5h0M2.6 47.1h0M39.7 30.8h0M40.2 31.5h0M-8.4 32.8h0M27.5 25.4h0M-7.3 45.1h0M-6 31.9h0M38.8 36.5h0M38.4 29.5h0M18.1 25.4h0M33.7 26.7h0M36 28h0M4 47h0M-8.6 45.1h0M-6.9 45.8h0M10.2 46.5h0M-10.2 34.4h0M32.1 26.4h0M24.6 25.5h0M39.6 34.2h0M-2.6 46.5h0M-10.2 44.2h0M-8.1 33.1h0M-8.7 32.9h0M9.2 46.9h0M37.4 37.7h0M-4.8 45.8h0M-5.2 31.2h0M-5.9 45.7h0M10.9 46.8h0M-14.3 41.5h0M-13.9 41.6h0M-2.6 30.3h0M35.8 27.9h0M10 26.5h0M-4.8 31h0M33.5 26.5h0M-2.7 46.2h0M-4 30.8h0M-10.3 43.8h0M17 45.7h0M40.6 33.7h0M16.9 46h0M-3.1 30.5h0M13.1 26h0M40.2 34.7h0M-5.5 31.3h0M35.9 38.6h0M39.8 35.6h0M29.4 25.7h0M-5.7 46.2h0M-11.7 35.3h0M40.3 33.6h0M-10.3 43.8h0M1.6 46.8h0M-8.1 33.1h0M39.8 32.7h0M40.8 32.5h0M13.1 46.5h0M29 25.7h0M40.4 33.3h0M33.6 40.4h0M8.3 26.7h0M32.6 26.3h0M40.1 33.1h0M5.3 27.8h0M19.7 45.4h0M13.7 46.4h0M39.8 33h0M38.9 36.3h0M32.9 26.6h0M38.9 30.1h0M-0.9 46.9h0M-3.5 46.4h0M40.1 34.4h0M7.9 46.8h0M33.8 40.3h0M-12 43.3h0M-11.5 -27.1h0M17.2 -41.1h0M16.1 -37.9h0M4.5 -48.8h0M-6.6 -27.7h0M17 -39.8h0M-22.3 -46.1h0M-23.5 -45.9h0M-37.9 -36.5h0M-24 -26.7h0M17.6 -42.6h0M-25.4 -44.8h0M-14.2 -47.8h0M-17.2 -26.8h0M-8.8 -27.3h0M10.1 -33.6h0M-38.4 -31.5h0M-27 -44.4h0M-20.2 -26.7h0M-12.9 -48.1h0M-34.2 -28.7h0M3.9 -48.6h0M-11.9 35.6h0M24 25.3h0M38.9 36.2h0M-7.4 45.4h0M31.6 26.5h0M40.3 33.7h0M-13.5 40.8h0M40.6 32.8h0M0.3 28.8h0M-1.8 29.5h0M3.2 28.1h0M39.4 35.8h0M21.6 45h0M30.4 25.9h0M4.1 27.7h0M-3.7 30.5h0M-3.7 46.4h0M5.9 47h0M39.6 35.8h0"/><path stroke="#1f9a8a" d="M15.9 -42.4h0M5.7 -48.2h0M-17.2 -46.9h0M-31.4 -28.3h0M-35 -29.6h0M3.1 -48.2h0M-17.7 -46.6h0M-28.4 -27.5h0M-36 -30.3h0M15.6 -38.1h0M-36.7 -37.5h0M-5.7 -28.4h0M-27.7 -27.4h0M14.6 -45h0M16.1 -41.5h0M-35.6 -38.8h0M-8.4 -28h0M15.1 -45h0M5.4 -31.7h0M-16.5 -46.9h0M-26.3 -27.5h0M6.8 -48h0M-26.9 -27.5h0M-9.9 -27.6h0M-15.3 -27h0M-1.2 -29.6h0M-23.9 -27.3h0M11.4 -46.8h0M-37.9 -35h0M0.7 -48.5h0M16 -39.4h0M3.3 -30.8h0M-20.8 -46h0M-37.7 -35.9h0M-33.2 -40.9h0M-20.8 -27h0M14.9 -37.8h0M5.4 -48.3h0M-19.8 -26.8h0M4.8 -31.7h0M-37.3 -32.7h0M-32.3 -41.2h0M9.8 -47.2h0M11 -34.6h0M16.4 -39.7h0M-6.6 -28.2h0M16.9 -42.2h0M11.9 -46.1h0M-34.1 -29.5h0M8.6 -33.5h0M-0.4 -48.7h0M-36.4 -38.3h0M-37.1 -32.2h0M-14.5 -47.3h0M3 -30.8h0M-5 -48.2h0M11.5 -46.2h0M-6.1 -48.5h0M-4.9 -28.5h0M-35.3 -39.3h0M-0.1 -48.3h0M-28.7 -27.5h0M-37.8 -34.6h0M-27.7 -27.5h0M5.7 -32.2h0M-38.3 -34.8h0M-37.1 -31.5h0M-32.7 -29h0M-20 -46.1h0M-38 -35.2h0M-6.3 -48.6h0M-2.8 -48.5h0M-8.1 -48.4h0M21.5 44.6h0M-12.5 38.8h0M-10.2 42.8h0M31.1 40.9h0M12.9 26.5h0M5.8 46.1h0M1.6 46.4h0M32.6 27.4h0M25.8 26h0M27.7 42.6h0M-10.6 36h0M37.1 36.5h0M-9 44.1h0M-4.3 45.3h0M20.5 25.7h0M-11.4 42.5h0M-11.4 41.7h0M-12.8 40.8h0M-9.6 35.3h0M-5.7 31.9h0M29.7 26.3h0M-4.3 45.7h0M-6.4 45.2h0M11 46.3h0M32.8 27h0M11.8 26.8h0M-9.8 43.1h0M-2.8 46h0M-11.9 40.9h0M34.1 39.2h0M24.7 25.9h0M-6.6 32.5h0M37 28.7h0M-5 45.4h0M33.4 27.1h0M0.5 29.5h0M39.6 32.9h0M-6 32.4h0M1.1 46.3h0M39.5 32.5h0M-10.7 36.3h0M2.4 46.6h0M38.8 32.8h0M19.5 26h0M16.8 26.3h0M3.8 46.5h0M-1.7 45.9h0M-2.7 46h0M-4.6 31.8h0M38.4 36h0M28.4 42.4h0M38.5 31h0M38.6 33.6h0M39.2 34.2h0M23.1 44h0M11.5 46h0M17.4 26h0M9.5 27.3h0M19.4 25.9h0M32.7 27h0M27.1 26.1h0M20 45h0M-8.3 44.5h0M-11.8 37.3h0M37.8 35.8h0M-28.2 -43.2h0M35.7 28h0M20.6 44.8h0M-28.2 -43.3h0M-15.1 -27.1h0M-26.1 -27.5h0M-15.1 -47.1h0M-37.8 -34.8h0M11.1 -34.8h0M6 -32.1h0M-32.9 -40.7h0M-3.5 -48.3h0M-18.9 -46.5h0M15.1 -38.6h0M-6.7 -48.2h0M-28.9 -27.5h0M17 -41.3h0M-29.2 -27.8h0M-3 -48.7h0M-11.5 -47.9h0M-22.8 -45.2h0M16.7 -40h0M-9.7 -48.3h0M-28.3 -27.7h0M-34 -39.8h0M24.8 25.8h0M-12.7 39.1h0M-12.9 39.6h0M15.9 45.4h0M22 44.4h0M-11.6 41.3h0M19.4 26h0M-8 33.5h0M38.8 31.9h0M37.9 30.3h0M4.2 46.4h0M3.8 28.7h0M38.4 31.3h0M-12.8 39.7h0M2.4 28.9h0M19.7 44.7h0M18.6 45h0M7.9 27.6h0M37.3 29.2h0"/><path stroke="#1fa088" d="M-18.1 -27.6h0M-36.9 -33.8h0M9 -46.4h0M-36.6 -36.1h0M-25.9 -43.7h0M-13 -27.8h0M-0.8 -48.2h0M-2.1 -48.1h0M14.5 -38.6h0M-29.6 -28.6h0M-32.7 -39.9h0M-35.5 -37.3h0M-22.6 -27.4h0M-13.1 -27.6h0M-17.6 -27.6h0M-17.3 -46.5h0M-33.6 -29.7h0M-36.7 -33.7h0M15.1 -40.9h0M-20.7 -27.2h0M-17.2 -27.4h0M-35.3 -31.3h0M15 -39.5h0M-36.8 -34.3h0M11.7 -36.1h0M-12.1 -47.4h0M0.9 -30.7h0M-34.2 -30.7h0M-35 -30.6h0M-15.8 -27.5h0M3.9 -47.5h0M11.6 -45.7h0M-16 -46.6h0M15.4 -42.9h0M-28.4 -28.3h0M12.6 -36.8h0M2.9 -31.6h0M7 -33.1h0M-6.6 -47.8h0M-7.3 -47.7h0M15.4 -40.3h0M-28 -28h0M-5.4 -29h0M-16.4 -27.3h0M6.6 -32.9h0M-34.3 -38.9h0M-36.5 -35.2h0M-3.9 -29.2h0M-34.9 -31.5h0M14 -43.6h0M-10.2 -47.7h0M-17.9 -27.6h0M-13.8 -46.9h0M12.5 -45.2h0M10.3 -34.6h0M-10.3 -28.3h0M-28.1 -28h0M-35.2 -37.7h0M37.8 31.8h0M-6.5 44h0M-10.6 40.4h0M33.2 39.3h0M37.8 35.4h0M26.9 26.6h0M-10.8 41.8h0M13 45.7h0M8.8 45.9h0M0.2 45.8h0M4.3 29h0M17.8 44.9h0M36.8 36.2h0M-10.6 38.7h0M19.4 44.6h0M12.1 45.6h0M-2.3 31.5h0M14.5 26.6h0M4.4 28.8h0M13.1 45.6h0M27.4 41.9h0M2.4 29.4h0M33.4 39.4h0M-9.8 37h0M20.2 26.1h0M9.7 27.5h0M5 28.6h0M38.2 34.8h0M37.9 32.3h0M-1 45.3h0M15.2 26.5h0M-8.6 34.8h0M-10.4 38.2h0M3.9 29h0M-7.3 33.8h0M-10.2 42.1h0M-2.8 45.4h0M7.6 46.1h0M-10.4 37.5h0M-9.5 35.4h0M-7 43.6h0M22.9 26.2h0M-5.7 44.2h0M24 43.3h0M36.1 29h0M-9.3 35.1h0M-9.9 41.1h0M37.6 32h0M-10.6 36.5h0M37.7 34h0M-11.1 40.8h0M30.4 26.8h0M-5.3 32.4h0M9.5 27.7h0M-10.6 37.7h0M24.2 26.2h0M33.4 39.2h0M24 43.3h0M35.9 37.2h0M24.5 42.9h0M12.1 27.2h0M28.1 41.7h0M37.9 34.1h0M24.8 26.4h0M-0.6 45.8h0M34.4 28.7h0M38.2 31.3h0M-10.3 37.7h0M2.3 29.5h0M7.3 45.8h0M7.2 45.9h0M36.4 29.8h0M-34.7 -38.1h0M-35.7 -32.4h0M16.7 45.1h0M36 29.2h0M12 45.6h0M14.5 -39.1h0M-12.9 -27.9h0M-34.7 -38.6h0M-12.9 -27.7h0M14.5 -39.3h0M-33 -29.4h0M-19.9 -45.7h0M-2.6 -29.6h0M-26.3 -43.7h0M-21.4 -27.2h0M-36.4 -36.5h0M1.8 -31.1h0M-12.4 -47.4h0M-20.6 -45.8h0M-1.6 -48.2h0M9 -33.9h0M12.1 -45.1h0M14.3 -38.9h0M-37.1 -33.8h0M14.6 -39h0M-36.7 -35.9h0M11.9 -45h0M-36 -32.7h0M38 32.6h0M-10.7 42.1h0M20.2 26.2h0M37.5 34.3h0M8.2 45.8h0M12.6 27.2h0M14.7 45.1h0M9.3 27.5h0M32.2 40.2h0M28.2 41.6h0M-4.8 32.2h0M21.2 26.4h0M28.7 26.7h0M10.4 45.8h0M16 26.4h0M0.6 29.8h0M-8.3 43.7h0M38 34h0M-1.7 45.6h0M5.9 46.1h0M-9.9 41.6h0M-3.4 45.1h0"/><path stroke="#20a486" d="M7.4 -46.4h0M-33.4 -39h0M-7.5 -47.5h0M11.1 -36.6h0M11.5 -37.2h0M9.3 -35.2h0M-31.3 -29.9h0M6.8 -46.2h0M-2.1 -30.4h0M-25.7 -43.5h0M-18.3 -27.7h0M-1.5 -47.5h0M3.2 -32.2h0M-35.9 -33.4h0M-8 -29.1h0M-7 -47.4h0M-6.3 -47.4h0M-13.6 -46.7h0M-11.4 -47.1h0M-35.2 -33.5h0M-27.8 -28.4h0M-35.4 -33.4h0M-16.7 -46.1h0M-35.4 -32.1h0M-35.7 -33.7h0M-26.3 -43.3h0M14.1 -41.9h0M-31 -40.6h0M-19.1 -45.5h0M-35.6 -34h0M-35.8 -35.4h0M8.3 -34.8h0M-17.3 -45.9h0M-33 -30.2h0M14.1 -40.2h0M-8.5 -28.8h0M6.4 -33.3h0M2.6 -31.8h0M12.4 -43.5h0M-11.3 -47.2h0M11 -36.9h0M-35.3 -32.1h0M-11.1 -28.4h0M-20.7 -27.6h0M-8.5 -47.3h0M-19.3 -27.9h0M13.5 -43.1h0M-35.1 -33.3h0M-16.9 -27.9h0M-34.9 -37.8h0M-32.1 -40h0M-5.8 -47.5h0M12 -37.8h0M-35.6 -35.7h0M8 -45.7h0M2.9 -47.4h0M13.9 -42.1h0M-33.4 -39.2h0M13.5 -41.4h0M-35.2 -33.6h0M-34.6 -32.1h0M-28.4 -42.2h0M-17.3 -46h0M-28.8 -42h0M-34.9 -37h0M-17.3 -27.7h0M-4.3 -29.7h0M-33.3 -30.8h0M-12.5 -46.7h0M-21.8 -27.7h0M-22.8 -44.6h0M-3.5 -30.1h0M11.7 -37.2h0M8.1 -34.2h0M-28.9 -28.7h0M36.6 32.4h0M34.7 29h0M-5.3 33.8h0M-7.8 42.4h0M0.8 45.2h0M30 40.4h0M-9.5 38.1h0M7.7 28.3h0M4.4 45.5h0M34.5 28.9h0M-6.4 43.4h0M0.4 44.9h0M0.2 30.5h0M25.3 26.7h0M37.1 32.1h0M37.3 33.4h0M7 45.2h0M35 29.4h0M34.6 37.7h0M17.6 44.6h0M13.3 45.2h0M30.3 40.6h0M10.9 27.8h0M35 36.6h0M-6.1 43.2h0M-6.6 43.2h0M-1.1 31.6h0M24.9 26.7h0M-7 43.1h0M-6.7 43.4h0M0.8 30.6h0M28.2 41.2h0M-9 37.1h0M33.9 28.8h0M33.3 28.5h0M-10.1 37.9h0M35.5 29.5h0M16.3 26.8h0M-9 36.1h0M0.9 45.3h0M-3 32.4h0M-9.4 39.6h0M9.1 28h0M-9.1 36.4h0M-8.4 41.3h0M-1 44.8h0M8.4 45.6h0M-3.2 44.4h0M31.5 28.1h0M-5.2 43.2h0M4.8 29h0M-9.9 40.9h0M26 27.1h0M14 45.1h0M-9.4 40.7h0M19.1 43.9h0M25.6 42.3h0M-6.2 43.1h0M34.8 29.3h0M29.4 27.6h0M32.3 28.4h0M20.2 26.8h0M32.1 28.3h0M12 27.4h0M23.7 26.7h0M34 38h0M-4.5 -29.7h0M-3.2 -30.1h0M-23.9 -28h0M24.8 26.8h0M-4.1 32.9h0M33.7 38.5h0M-35.6 -34.2h0M-32.5 -39.8h0M-35.8 -34.8h0M-26.6 -28.2h0M7.9 -46.1h0M14 -42.8h0M-34.1 -31.9h0M12.4 -43.6h0M-36.1 -33.5h0M5.7 -33.1h0M-7.3 -47.3h0M6.7 -34h0M-19.7 -27.6h0M-35.8 -35.2h0M-24.7 -43.9h0M-26.1 -43.3h0M-26.8 -28.5h0M-35.4 -37h0M-35.5 -32.5h0M-9.4 37.6h0M11.7 45.4h0M-1 44.9h0M29.7 27.6h0M0.9 45.1h0M-10.2 40.3h0M7.6 28.6h0M9.7 45.2h0M-9 40.5h0"/><path stroke="#23a983" d="M-1.7 -47.1h0M-22.1 -44.2h0M-34.6 -33.9h0M9.5 -44.5h0M-2.8 -47.3h0M-24.1 -43.5h0M-34.6 -36.8h0M10.8 -43.2h0M-33.7 -37.9h0M6.7 -46h0M-19.2 -45.1h0M-25 -28.7h0M11.6 -43h0M3.8 -33.2h0M-8.4 -29.1h0M5.9 -45.9h0M-18.2 -45.6h0M7.7 -35.3h0M10.7 -44.4h0M-14.9 -28.4h0M9.1 -44.6h0M-11.4 -28.9h0M-25.8 -42.9h0M-8.5 -47h0M-28.6 -41.7h0M-25.5 -42.9h0M-19.1 -28.3h0M-28.7 -29.3h0M-23.4 -44h0M-30.1 -29.8h0M11.9 -40.2h0M0.3 -46.8h0M6.6 -34.1h0M5 -33.5h0M-4.8 -30.2h0M-16.6 -28.3h0M-33.7 -37.2h0M5.4 -46.1h0M-11.9 -46.7h0M11.4 -37.5h0M1 -46.9h0M-34 -36.9h0M12.3 -39.5h0M10.8 -44.2h0M-23.2 -43.8h0M-32 -39.7h0M-26.1 -28.7h0M-31.2 -30.1h0M-18.3 -28.2h0M-26 -28.6h0M-20.1 -45h0M-10.2 -46.6h0M11.5 -39.3h0M12.6 -41.5h0M16.9 27.2h0M12.1 -40.8h0M2.3 -32.5h0M4 -33h0M11 -37.5h0M-6.7 36.4h0M-0.5 44.3h0M-0.4 44.6h0M-8.8 39h0M29.3 27.7h0M15.3 44.4h0M21.1 27h0M-3.2 43.7h0M-8.4 39.4h0M-3.4 32.9h0M26.1 41.9h0M25.1 42h0M5.1 29.8h0M-8.5 37.9h0M-1.6 32.5h0M-5.2 42.8h0M-7.5 37.6h0M-3.9 33.6h0M4.3 44.9h0M33.8 29.8h0M8.8 28.6h0M-5.6 42.9h0M36 34.8h0M-1.6 32.3h0M36.2 33.5h0M18.1 27.1h0M33.8 30h0M-7.6 37.1h0M26.6 41.6h0M-2.3 44.1h0M17.6 43.9h0M6 29.3h0M13.7 44.7h0M-8 40.6h0M-8.1 36.7h0M30.8 39.8h0M5.8 44.9h0M14.3 44.6h0M13.9 27.8h0M-6.1 35.7h0M33.4 29.1h0M31.4 28.3h0M20.2 27.1h0M-8.6 38.6h0M22.3 43.1h0M27.2 41.2h0M12.4 27.7h0M-6.6 42.4h0M23.6 42.4h0M-8 38.3h0M9.1 28.6h0M22.7 27h0M25.7 41.9h0M17 27.2h0M13.6 44.7h0M7 44.7h0M31.7 39.2h0M33.8 37.5h0M23 27.1h0M24.9 27.4h0M34.2 29.7h0M7.4 44.8h0M21.2 43.3h0M36 34.9h0M-1.5 44.1h0M20.4 27.2h0M-7.2 -47h0M33.5 37.7h0M2.2 -46.5h0M-27.5 -29.2h0M10.8 -43h0M12.3 -41.6h0M-8.1 -46.9h0M-6.8 -47.1h0M-1.5 -31.1h0M-9.7 -29.2h0M3.8 -46.4h0M1.5 -31.9h0M12.2 -41.1h0M-28.7 -41.6h0M-20.8 -44.6h0M-34.6 -33.1h0M-5.3 -29.7h0M-35.1 -34.4h0M7.2 -34.9h0M9.5 -36.6h0M-22.4 -28.5h0M12.5 -41.2h0M-5.7 42.4h0M-8.5 38.6h0M-2.4 32.7h0M-4.8 43.2h0M25.4 41.9h0M-0.9 31.8h0M27.4 41h0M29.7 28.2h0M30 28h0M-8.5 39.7h0M29.8 27.8h0M6.9 45h0M-6.9 35.4h0M-6.5 41.6h0M2.6 30.4h0M-6.5 35.8h0M-7.6 41.6h0M29.3 40.2h0M11.6 44.9h0M20.8 26.9h0M-7.6 40.7h0"/><path stroke="#28ae80" d="M-29 -41h0M-33.7 -33.1h0M7.1 -35.5h0M-3.4 -46.4h0M8.3 -36h0M-3.4 -46.5h0M-26.5 -42.1h0M-4.8 -30.6h0M0.2 -32.2h0M6 -34.4h0M-22.5 -43.7h0M-24.2 -29h0M9.6 -43.6h0M-34 -34h0M11.1 -39.9h0M-17.9 -28.6h0M-26.5 -42.1h0M-26.2 -29.4h0M-30 -40.4h0M11.1 -41.8h0M-27.7 -29.8h0M-31.9 -31.7h0M-31 -39.6h0M1.8 -32.6h0M6.2 -34.7h0M-0.8 -46.4h0M11.2 -39.6h0M7.4 -44.4h0M9 -36.4h0M6.2 -35h0M-27.1 -29.4h0M-2.1 -46.7h0M-34 -34h0M-31.5 -31.2h0M-24 -28.9h0M-22.1 -28.8h0M-5.5 -30.4h0M-30.1 -30.4h0M10.1 -39h0M5.2 -45.8h0M-0.7 -46.7h0M10.8 -39.6h0M-13.4 -29h0M-24.6 -29h0M-29.1 -29.9h0M10.3 -41.6h0M-19.5 -44.6h0M-26.5 -29.3h0M-19.2 -44.7h0M-25.5 -42.6h0M-0.8 -31.6h0M-27.5 -29.4h0M-8.3 -46.4h0M7.4 -35.6h0M-21.2 -44.2h0M3.9 -33.3h0M24.2 41.9h0M4.5 30.4h0M4.1 44.5h0M31.5 38.3h0M30.8 29h0M35 31.6h0M33.3 36.6h0M-3.6 42.7h0M32.4 38.1h0M-3.1 42.7h0M-5.7 41.2h0M-4.9 41.6h0M-4.7 41.8h0M-1.5 43.2h0M18.3 27.7h0M18.6 27.6h0M1.1 43.7h0M-4.8 41.7h0M-6.6 40.3h0M-2.7 33.8h0M7.2 29.5h0M14.8 44.2h0M28.4 28h0M33.7 37h0M-3.7 34h0M-0.4 32.4h0M24.4 41.7h0M-6.2 40.5h0M3.5 30.4h0M-5.6 36h0M-2.2 33.4h0M10.1 44.3h0M25.6 27.9h0M2.8 30.9h0M15.6 43.9h0M18.7 27.4h0M-5.5 35.4h0M-1.8 33.1h0M26.1 28h0M-4.8 41.7h0M33.8 31.1h0M24.6 41.7h0M34.8 34.6h0M27.7 27.9h0M26.5 27.7h0M-7.1 37.8h0M-1.4 43h0M-7 -29.9h0M20.2 43h0M-6.8 39.9h0M-15.2 -28.7h0M-17.6 -28.5h0M-20.3 -28.5h0M-23.7 -43.2h0M10.9 -39.3h0M-22.9 -28.7h0M-17.3 -45.3h0M5.6 -45.6h0M-33.6 -37h0M-9.5 -46.3h0M-10.8 -46.2h0M-20.8 -28.6h0M-28.1 -29.6h0M-1.1 -46.5h0M-31.2 -30.8h0M-23 -43.4h0M7.3 -35.6h0M32.9 37.7h0M34.6 31.3h0M-2.7 42.8h0M29.7 28.3h0M6.4 44.2h0M-6.5 38.8h0M14.2 44.2h0M-7.1 40.3h0M24.6 27.6h0M25.4 41.6h0M2.1 31.2h0M29.1 39.8h0M3.5 44.2h0M25.8 41.5h0M-5.1 42.1h0M23.4 42.1h0M-0.1 32.4h0M32.9 30.1h0M2.8 30.8h0M28.9 39.7h0M-2 43.2h0M15 27.9h0M5.1 44.2h0"/><path stroke="#2eb37c" d="M9.1 -39h0M9.4 -38.8h0M0.2 -45.6h0M-28.9 -40.3h0M9.2 -37.8h0M-32.3 -36.2h0M-28.2 -30.2h0M-27.9 -41.1h0M-8.8 -29.8h0M-7.8 -46h0M-15.4 -45.2h0M-15.7 -45h0M-8 -46.2h0M0.9 -32.7h0M7.1 -36.8h0M5.1 -35h0M-32.9 -35.7h0M-1.5 -46h0M8.8 -42h0M-32.1 -36.8h0M6.1 -44.3h0M-31.3 -38.1h0M9.7 -40.8h0M-32.9 -34h0M-2.3 -31.5h0M5.3 -34.8h0M-16.3 -45h0M-4.2 -46.4h0M-25.8 -29.4h0M-32.4 -34.1h0M-1.7 -46.2h0M-0.5 -45.7h0M4.4 -34.4h0M5 -34.9h0M-28.1 -30.4h0M-27.7 -41.1h0M8.7 -43.3h0M-32.9 -34.3h0M5 -34.5h0M-1.2 -32h0M8 -37.5h0M-11 -46h0M-24 -29.2h0M-17.6 -29h0M-13.4 -45.7h0M-16.4 -45h0M9.7 -39.5h0M-31.2 -32.3h0M-26.6 -29.7h0M-29.9 -31.3h0M8.9 -41.8h0M6.5 -35.9h0M-33.2 -34h0M-24.2 -29.3h0M-33.1 -36.1h0M-28.4 -30.4h0M-8.4 -46.1h0M-31 -31.4h0M-5.1 38.4h0M22.7 27.7h0M4.8 44.1h0M-3.6 35.2h0M10.2 43.8h0M12.9 28.6h0M3.9 30.9h0M4.3 30.7h0M-5.8 39.9h0M29.3 39h0M30.8 38.5h0M33.6 35.5h0M9.6 43.9h0M-5.7 39.3h0M15.6 43.6h0M34.3 34.6h0M33 36.2h0M29.7 39h0M13.8 43.9h0M-4.8 39.7h0M14 28.5h0M27 28.3h0M18.7 27.8h0M2.9 43.7h0M31.3 29.8h0M33.2 31.1h0M7 30.1h0M0.4 42.9h0M12.6 43.7h0M34 33.3h0M19.2 42.8h0M-1.6 42.1h0M13.8 43.5h0M25 41.3h0M5.8 30.4h0M33.3 35.7h0M6.3 43.8h0M31.7 37.8h0M9 29.7h0M33.4 31h0M33.3 31.1h0M-4.9 39h0M6.6 44.1h0M18.9 43.1h0M-2.2 34.1h0M34.4 33.8h0M-1.5 42.3h0M-3.4 41.8h0M-5.2 38.9h0M20.5 42.4h0M34.1 32.9h0M-4.7 40.4h0M6.4 -43.8h0M-17.5 -44.9h0M-24.7 -42.5h0M-19.8 -44.3h0M3.7 -33.8h0M-8.2 -46.2h0M-24.3 -42.5h0M-32.8 -34.8h0M-21.7 -43.4h0M-23.3 -43h0M9.6 -41.1h0M3.2 -34h0M-20.9 -44h0M-10.1 -45.8h0M1.1 -32.7h0M-26.5 -41.6h0M-21.9 -28.9h0M5.5 -34.8h0M9.6 -41.2h0M7 -36h0M33.3 35.6h0M6.8 44h0M-4.4 36.2h0M33.5 35.1h0M-4.4 36.8h0M5.8 30.5h0M34.6 34.3h0M30 38.9h0M26.5 40.6h0M-0.5 32.9h0M30.2 29.3h0M14.5 28.4h0M28.4 39.5h0M6.2 44h0"/><path stroke="#35b779" d="M-29.1 -39.5h0M2.7 -44.9h0M7.4 -37.9h0M-1 -32.9h0M-28.7 -31.1h0M-24.6 -41.9h0M6 -36.8h0M-16.7 -44.7h0M-1.5 -32.6h0M-6.8 -45.8h0M-31.6 -36.6h0M5.2 -35.7h0M-32.3 -34.3h0M-24 -29.6h0M-13.2 -45h0M-29.1 -39.2h0M-3.1 -45.7h0M8.2 -38.9h0M-31.7 -34.1h0M-18.4 -29.4h0M6 -36.7h0M-26.4 -30.5h0M7.6 -37.8h0M-12 -45.3h0M-31.2 -33h0M-9.3 -30.5h0M8.8 -40.9h0M8.4 -40.5h0M-17.8 -44.2h0M-30.1 -32.2h0M-18.5 -29.2h0M-12.6 -45.5h0M-18.5 -44h0M-16.2 -29.6h0M-2.7 -32.2h0M1 -45.1h0M6.5 -43.1h0M2.6 -34.6h0M-26.8 -41.2h0M3.3 -34.9h0M-13.6 -29.8h0M4.2 -44.1h0M-10.3 -45.3h0M-11.9 -45.3h0M6.5 -36.7h0M-30.8 -38.1h0M-31.2 -36.7h0M-23.4 -42.6h0M-12.4 -30h0M-0.3 -45.5h0M7.6 -39.2h0M-14 -45.2h0M-13.6 -29.7h0M-22.2 -29.7h0M-30.9 -37.7h0M-16.1 -29.5h0M8.1 -38.7h0M-3.7 -31.7h0M0.5 -45.3h0M-16.5 -29.5h0M-31.3 -37.8h0M-28.6 -39.7h0M-26.7 -41.3h0M-31.8 -35.5h0M-11.9 -45.6h0M-29.2 -31.2h0M-31.6 -36.4h0M-30.6 -32h0M8 -38.7h0M-6.7 -45.6h0M-30.3 -38.1h0M13.4 43.2h0M8.8 43.7h0M-1.3 34.8h0M33.5 34.1h0M33 31.8h0M29.6 38.3h0M23.6 28.6h0M16.1 28.4h0M-1.6 41.1h0M1.3 33.1h0M-1.9 35.1h0M29.3 29.5h0M4.1 43.2h0M-2.1 35.2h0M19.9 42.3h0M4.4 43.5h0M5.4 30.9h0M8.1 43.4h0M4.4 43.4h0M24.1 28.4h0M-0.2 33.7h0M31.7 36.5h0M13.2 43.3h0M29.1 29.4h0M27.1 39.8h0M-4.3 37.2h0M15.1 43.4h0M30.9 37.8h0M32.8 32.2h0M33.1 35.7h0M32.9 32.3h0M-0.8 34.3h0M3.4 32.1h0M30 38.4h0M-2.4 40.4h0M29.3 38.5h0M13.7 43.2h0M19.7 28.2h0M32.9 31.5h0M32.5 35.6h0M23.2 41.3h0M8.8 30h0M30.6 29.7h0M15.8 43h0M32.1 31h0M17.9 28.6h0M7.9 43.5h0M3.7 31.5h0M19.9 42.4h0M32 30.9h0M27.7 29.2h0M4.9 31.4h0M-3.7 38.6h0M-6 -45.8h0M5.9 -36.5h0M-2 40.8h0M0.7 -45.2h0M-23.6 -29.8h0M-23.2 -42.6h0M0.5 -33.5h0M-9.1 -45.6h0M-6.1 -31.1h0M-28.2 -31.1h0M-10.1 -45.5h0M-19.9 -43.8h0M1.3 -45.1h0M6.3 -43.8h0M1.9 42.6h0M17.9 28.3h0M-2.9 41.3h0M20.3 42.3h0M3.1 31.8h0M-0.9 41.8h0M5.3 43.2h0M7.6 30.4h0M31.4 36.9h0M21.2 28.4h0M-0.9 34.3h0M-3.5 40.5h0M30.3 37.8h0M6.1 43.2h0M6.5 30.5h0M30.8 37.9h0M7 30.5h0"/><path stroke="#3fbc73" d="M-12.3 -44.9h0M-27.7 -31.2h0M-30.6 -33.4h0M-29 -32.1h0M6.4 -39.1h0M-29.9 -38.1h0M-31.3 -35.9h0M6.2 -42.2h0M-10.3 -45.2h0M-0.7 -33.5h0M-3.2 -32.3h0M-6.2 -31.6h0M-20.7 -43.2h0M-9.9 -30.7h0M-23.3 -30.2h0M-12.6 -30.3h0M5.7 -37.2h0M-30.8 -34.4h0M-30.7 -37.4h0M-6.7 -45.1h0M-21.5 -30h0M-18.8 -43.7h0M6.3 -40.5h0M4.8 -42.8h0M-8.9 -30.7h0M-18.6 -43.9h0M-3.6 -45.3h0M4.8 -42.9h0M-14.1 -30h0M-2 -32.7h0M-30.7 -33.9h0M-6.9 -31.1h0M-1.2 -45.2h0M5.4 -37.3h0M-20.8 -43h0M4.7 -43h0M-25.7 -41.2h0M-10.6 -30.3h0M-0.3 -44.7h0M-27.2 -31.3h0M-29.1 -38.7h0M-21.9 -30h0M-7 -45.4h0M1.2 -34.4h0M-23.6 -42.3h0M-23.5 -42.2h0M6.3 -39.7h0M-24.9 -41.5h0M-11 -30.3h0M-0.1 -33.6h0M-31.2 -35.2h0M-30.7 -37.2h0M-23.2 -30h0M-30.4 -37.3h0M6 -42.7h0M-29.9 -32.4h0M-30.7 -34.4h0M-20.3 -29.9h0M-1.4 -45.1h0M-8 -31h0M-14.4 -44.6h0M-2.7 -32.6h0M30.7 36.8h0M4.6 42.5h0M17.7 28.9h0M19.9 41.8h0M6.3 31.3h0M0.3 41.3h0M-3 39.1h0M-2 38h0M2.6 42.5h0M-0.1 34.1h0M12.3 29.5h0M-2.7 38.6h0M6.4 31.3h0M7.1 43.1h0M20.4 28.7h0M15.3 29.2h0M4 42.5h0M7.1 43.1h0M32.7 33.1h0M11.4 29.9h0M12.9 29.3h0M32.4 35.3h0M-1.8 39.5h0M-2.3 40.2h0M26.3 29.2h0M31 37h0M32.8 32.8h0M-2.9 38.5h0M-3.2 38.8h0M32.1 33h0M32.4 33.3h0M-0.5 40.7h0M19.3 41.9h0M11.5 29.5h0M25.7 39.9h0M-1.8 36.9h0M32.2 32.6h0M31.1 31.3h0M30.1 37.8h0M30.3 30.4h0M-3 38.5h0M29.6 37.6h0M21.6 41.4h0M32.3 35.5h0M25.5 40.2h0M-2.1 36h0M8.2 30.6h0M17.6 28.9h0M30.4 37h0M31.1 36.4h0M19.4 42.2h0M26.8 29.3h0M29.1 38h0M24.7 40.3h0M30.7 36.6h0M32.6 32.6h0M-2 40.7h0M12.2 29.7h0M-2.1 39.1h0M29.1 29.8h0M23.9 41h0M28.2 29.6h0M4.8 42.9h0M-12.2 -30.2h0M27.8 29.6h0M-31.6 -35.1h0M-28.3 -31.5h0M-18.5 -29.6h0M-13 -44.7h0M6.1 -37.6h0M-4.5 -45.1h0M6.7 -42.1h0M-5.9 -45.4h0M-31.2 -36h0M-1.4 -44.8h0M3.5 -35.3h0M-14.3 -44.6h0M2.3 -34.8h0M4.9 -42.8h0M17.8 42.6h0M32.2 34.4h0M0.4 41.6h0M-2 36.7h0M-1.7 39.2h0M8.3 43.1h0M27.9 29.8h0M3.4 32.2h0M31.5 31h0M25.5 40.3h0M30.3 37.4h0M31.5 36.2h0M20.7 28.5h0M-2 40h0M22.4 28.8h0M19.2 42.3h0"/><path stroke="#48c16e" d="M-22.6 -30.3h0M-16.9 -43.6h0M-15.9 -30.4h0M6.1 -39h0M-29.9 -36.7h0M-0.2 -43.9h0M-16.1 -30.3h0M-7 -31.6h0M-29.8 -37.3h0M-15.5 -30.2h0M2 -43.5h0M5.9 -39.6h0M-21.2 -30.1h0M-29.2 -32.8h0M-23.1 -42h0M-27.3 -31.6h0M5.1 -40.7h0M-20 -30h0M-4.5 -44.6h0M-9.8 -30.9h0M-5.7 -32.1h0M4.6 -41.5h0M-28.5 -38.5h0M-30.4 -35.6h0M-15.2 -44.1h0M-4.1 -32.4h0M0.1 -44.1h0M3.3 -36h0M-6.7 -32h0M4.8 -38.3h0M5.7 -40.2h0M-1.8 -44.4h0M0.5 -44.3h0M5 -37.6h0M5.2 -41.5h0M-21.7 -30.3h0M-14.8 -44.1h0M-17.4 -30.2h0M-22.5 -42.3h0M-17.3 -30.1h0M-2.2 -44.4h0M-17.7 -43.7h0M-21.6 -42.3h0M-1.9 -44.3h0M-28.7 -32.7h0M-9.2 -31.2h0M-11.1 -30.8h0M-7.3 -31.7h0M-28.9 -32.7h0M5 -39.4h0M-0.4 -34h0M-19.9 -42.9h0M-28.8 -32.6h0M2.8 41.3h0M2.4 41.7h0M6.1 42.4h0M-0.9 38.7h0M21.2 41.3h0M8.2 42.6h0M17.8 41.8h0M30.7 35.7h0M1.5 33.9h0M-1.4 38.2h0M31.1 35.4h0M30.4 31.8h0M4.8 42.3h0M28.6 30.2h0M31.5 34.7h0M-0.3 39.4h0M-1.2 36.3h0M2.5 41.7h0M2.2 33.5h0M-0.8 37h0M15.7 42.3h0M23.5 29.2h0M28.3 38.3h0M6 42.2h0M26.6 29.9h0M30.2 36.5h0M31.6 34.9h0M6.7 42.4h0M23.9 29.3h0M15.9 42.4h0M27 38.9h0M24.6 40.2h0M31.1 31.8h0M30.2 36.8h0M16.6 42h0M20.4 41.5h0M26.5 39.1h0M-0.3 36.4h0M31.2 35.3h0M-1.6 37.9h0M19.5 29.1h0M8.1 42.4h0M11.1 30.1h0M28.5 30.5h0M31.8 34.6h0M31 31.7h0M2.1 33.8h0M4.2 32.7h0M18.4 41.9h0M-0.1 40.4h0M30 37.1h0M7.9 31.2h0M30.2 31.7h0M14.6 42.4h0M11.7 30.1h0M25.2 29.3h0M-1.3 39.5h0M-0.7 39.6h0M29.3 30.8h0M7.4 42.5h0M-19.1 -30.1h0M14.5 42.3h0M6 -40.5h0M-28.9 -32.5h0M-12.3 -30.6h0M-11 -44.8h0M-7.4 -44.7h0M-29 -37.9h0M-18.6 -30.1h0M5.3 -39.5h0M5.9 -40.3h0M-20.2 -30.2h0M-24.8 -31h0M-18.8 -30.3h0M29.4 30.6h0M-1.8 38.1h0M28.8 30.7h0M26.6 29.7h0M19.7 41.7h0M29.5 31.2h0M29.2 37.8h0M31 31.6h0M30.9 32.6h0M5.1 42.5h0"/><path stroke="#52c569" d="M-7.6 -44.4h0M0.4 -43.5h0M-28.9 -36.2h0M-23.4 -41.2h0M-1.4 -33.9h0M-28.2 -38.3h0M-28.2 -37.9h0M4.2 -39.1h0M-26.7 -39.1h0M4.1 -39.7h0M3.8 -40.3h0M1.7 -36.1h0M-17.3 -43.5h0M-27.5 -32.3h0M-29.5 -34h0M-20.7 -30.5h0M1.7 -42.9h0M-8.8 -44.5h0M3.3 -42.2h0M-18.5 -30.4h0M-7.2 -44.5h0M-28.9 -33.6h0M-7.9 -31.7h0M-28.3 -37.9h0M-0.6 -34.7h0M1.1 -42.9h0M-28.4 -37.9h0M-28.5 -33.6h0M-29 -37.2h0M3.9 -37.8h0M-17.2 -43.4h0M-27.5 -38.7h0M-5.1 -32.8h0M-23.3 -41.5h0M-20.9 -30.6h0M3.8 -41.4h0M-29.6 -35.7h0M-3.1 -44h0M-7.8 -32.1h0M-19.9 -42.7h0M-20.5 -42.4h0M-5.2 -44.5h0M-0.7 -34.3h0M-21.9 -30.6h0M-15.5 -43.8h0M-29.6 -36.2h0M-27 -39.1h0M-10.6 -44.4h0M-5 -44.1h0M-27.1 -38.8h0M-3.6 -44.2h0M4.7 -39.1h0M-21.4 -42h0M-25.1 -40.7h0M-19 -42.9h0M3.4 -41.9h0M19.7 41.3h0M30.5 32.4h0M21.1 40.8h0M2.1 34.4h0M0.7 35.5h0M3.2 40.8h0M11.2 30.8h0M3.7 40.9h0M29 36.9h0M27.3 30.5h0M25.5 30h0M22.9 29.7h0M26 30h0M1.2 35.9h0M3.2 41.3h0M7.8 31.7h0M25.9 38.8h0M0.9 40.2h0M15.8 29.6h0M18.6 41.4h0M25.4 39.4h0M18.8 41.4h0M12.2 42.1h0M0.9 35.8h0M30.1 31.7h0M29.9 32.1h0M29.8 35.9h0M15 30.1h0M30.3 32.2h0M1.1 39.9h0M2.3 41h0M6.4 41.9h0M5.2 42h0M27.3 38h0M30.5 34.5h0M27.7 38.2h0M22.7 29.4h0M30.3 35.3h0M1.7 35.2h0M30.4 35h0M22.6 29.5h0M23.7 40.1h0M9.7 30.9h0M22.2 29.7h0M21.5 29.3h0M23.9 40.1h0M30.8 35.1h0M25.9 38.9h0M30.2 35.9h0M26 38.8h0M14.3 42h0M0.2 36.6h0M30.4 32.1h0M-0.1 39.2h0M1.4 -36h0M-5.2 -44.2h0M-28.4 -37.8h0M-4 -32.8h0M3.9 -41.5h0M-2.4 -33.6h0M-26 -39.7h0M2.7 -42.7h0M-26.1 -39.9h0M-19.7 -42.6h0M-1.1 -44h0M-29.2 -34.5h0M-27.3 -38.9h0M-11 -44.5h0M-4.7 -33h0M-26.8 -39.4h0M4.2 -40.7h0M-4.6 -44.4h0M-13.9 -30.7h0M-27.5 -38.7h0M0.6 37.4h0M1 35.4h0M22 40.8h0M0.7 35.7h0M27.2 30.2h0M18 29.6h0M10.7 42.1h0M0.5 35.6h0M-0.2 38.5h0M21.9 40.6h0M30.1 35.5h0M9.8 30.9h0M25.8 38.9h0M12.1 30.5h0M0.3 37.6h0M25.8 30h0"/><path stroke="#5ec962" d="M-2.9 -34.3h0M-14.6 -30.9h0M0 -43.1h0M0.6 -36.3h0M-13.6 -43.5h0M3.4 -39.8h0M-25.9 -32.2h0M0.6 -42.2h0M-12.1 -31.2h0M0.2 -42.5h0M1.2 -36.7h0M-6 -44.1h0M-17 -43.1h0M-23.3 -31.3h0M-21.1 -41.7h0M-28.4 -35.3h0M1.3 -42.5h0M-27 -38.7h0M-28.8 -36h0M-27.4 -38.1h0M1.1 -36.7h0M-9.6 -31.7h0M-19 -30.9h0M-21 -41.9h0M2.9 -40h0M-1.3 -43.2h0M-25.2 -31.7h0M0 -35.6h0M-27.9 -33.6h0M-1.3 -43.2h0M-24.6 -40.2h0M-13.1 -43.8h0M2.3 -41.1h0M1 -42.4h0M-13.2 -43.6h0M2.9 -39.8h0M-20.6 -41.9h0M-2 -34.4h0M-28.6 -34.2h0M-1.8 -34.6h0M-27.7 -33.6h0M-24.8 -31.7h0M-25.3 -39.7h0M2.7 -38.5h0M-6.5 -43.9h0M-12.5 -31.3h0M-13.7 -31.1h0M-4 -43.6h0M-0.3 -35.2h0M-19.8 -30.9h0M-16.7 -31.1h0M11.8 41.6h0M23 29.9h0M7.1 41.2h0M14.6 30.3h0M1.6 37.3h0M28.9 35.7h0M29.4 35h0M17.9 29.9h0M1.7 37.9h0M3.1 34.4h0M27.5 37.7h0M12.1 41.7h0M17.1 30h0M3.4 34.7h0M30.2 33.2h0M24 39.6h0M4.3 34.1h0M20.8 30h0M29.6 34.5h0M28.1 37.1h0M24.2 30h0M4.4 40.5h0M6.2 32.8h0M7.1 32.5h0M12 41.9h0M11.6 31.1h0M1.4 37.4h0M6.4 41.5h0M1.7 36.4h0M24.6 39.2h0M2.4 39.9h0M18.9 40.9h0M4.2 41h0M28.1 36.7h0M1.4 36.3h0M1.5 37h0M27.6 37.7h0M4.9 41.1h0M12.5 30.7h0M29.3 35.3h0M16.8 41.3h0M26.7 31h0M26.7 30.9h0M25.5 38.6h0M-27.7 -33.4h0M-27.6 -32.9h0M2.4 39.7h0M1.9 38.5h0M7.3 41.5h0M8 31.9h0M3.1 39.9h0M-7 -43.8h0M2.8 -38.5h0M-24.3 -40.4h0M-13.5 -43.6h0M-22.4 -31.1h0M0.4 -42.3h0M-27.5 -33.1h0M-25 -40.2h0M0.9 -35.8h0M0.2 -42.4h0M-6.1 -44.1h0M-7.7 -32.4h0M1.9 -38h0M-15.5 -30.9h0M-27.4 -33.2h0M1.8 37h0M1.6 38.6h0M8.5 41.9h0M29.4 34.8h0M21.4 40.2h0M12.8 30.6h0M6.6 32.7h0M11 41.8h0M26.2 30.8h0"/><path stroke="#69cd5b" d="M-16.7 -31.2h0M1.6 -37.9h0M-25.9 -32.9h0M-8.8 -43.6h0M0.9 -38h0M-1.2 -35.8h0M-2.8 -34.7h0M-28 -35.2h0M1.3 -37.6h0M-0.7 -35.8h0M-22.6 -31.7h0M-18.1 -42.4h0M2.1 -38.6h0M-10.2 -43.5h0M0.4 -36.9h0M-6.5 -33.2h0M-26.2 -38.3h0M-14.2 -43.3h0M-25 -39.6h0M0 -36.6h0M-15.4 -42.8h0M-16.2 -42.8h0M-27.7 -36.4h0M1 -38h0M2.1 -40.2h0M1.1 -37.8h0M-25.3 -32.8h0M-25.5 -32.8h0M-6.2 -33.4h0M-20.2 -41.7h0M-9.8 -32.4h0M-11.8 -43.3h0M-27.8 -35.2h0M-6.3 -33.1h0M-2.2 -43h0M-26.8 -33.4h0M-15.4 -31.3h0M-17.8 -42.6h0M0 -41.5h0M-6.9 -33h0M-9.4 -32.5h0M-3.5 -42.9h0M-12.4 -31.7h0M-22.2 -31.8h0M-24.4 -39.8h0M-18.2 -42.3h0M-8 -32.7h0M-2.6 -43.1h0M-4.2 -43.3h0M-22.7 -31.8h0M-26.5 -38.3h0M-27.5 -34.1h0M0.3 -41.9h0M-23.9 -40.1h0M-4.7 -33.6h0M-8.3 -43.5h0M-26.5 -38.5h0M-0.1 -36.7h0M-1.1 -35.9h0M15.3 41.3h0M15.8 30.5h0M21.7 39.9h0M16.3 41.1h0M2.7 36.9h0M28.8 32.9h0M16.6 41.1h0M20.9 30.4h0M7.8 32.9h0M26.7 31.4h0M3 37.5h0M4.7 34.6h0M23.8 30.7h0M3.9 40.1h0M5.3 34.4h0M27.1 37.2h0M19 30.2h0M13.6 41.2h0M19.6 40.4h0M13.8 30.9h0M8.6 32.4h0M28.7 32.6h0M19.7 40.5h0M13.8 31h0M17.8 41h0M7 41h0M28.6 32.8h0M16 41h0M18.3 40.7h0M28.2 32.1h0M20.2 30.1h0M26.9 37.3h0M12.9 41.3h0M29.2 34.5h0M28.7 32.8h0M2 37.2h0M24.9 38.6h0M16.7 30.5h0M18.1 30.2h0M28.6 32.9h0M21 30.2h0M28.7 33.6h0M2.6 38.9h0M4 39.5h0M9.6 32h0M28.9 33.1h0M10.1 32h0M2.4 37.2h0M2.3 37.8h0M-19.1 -31.2h0M-1.3 -42.7h0M1.8 -38.5h0M-26.5 -38h0M-14.2 -43.1h0M-21 -31.5h0M-2.9 -43.2h0M-23.4 -32.1h0M7.1 33.2h0M28.5 32.5h0M13.9 30.7h0M3.9 39.6h0M6.2 40.9h0M28.2 32.1h0M25.9 30.9h0M17.5 40.8h0M23.6 39h0M4.5 39.7h0M17.1 40.9h0M7.6 41h0"/><path stroke="#75d054" d="M-20.3 -31.8h0M-1.7 -41.9h0M-9.7 -32.5h0M1.2 -39.3h0M-5.5 -34h0M-2.7 -35.1h0M-23.3 -39.9h0M-1.2 -36.7h0M-0.8 -40.9h0M0.4 -38.2h0M-21.1 -32.1h0M-24.3 -39.1h0M-17.2 -31.5h0M-12.2 -43.1h0M0.9 -39.8h0M-23 -40h0M-18.1 -31.5h0M-13.1 -43h0M-5.8 -43.1h0M-3.5 -34.9h0M-24.2 -39.1h0M0.6 -38.9h0M-26 -37.4h0M-11.8 -32h0M-25.8 -38.2h0M-15.5 -31.9h0M-1.3 -42h0M-6.3 -42.8h0M-8.9 -32.9h0M-0.9 -37.1h0M-26.9 -34.5h0M-27 -36.2h0M-16.7 -31.6h0M-22.9 -32.2h0M-16.6 -31.7h0M-1.2 -41.3h0M-13.6 -32h0M-17.4 -42h0M-10.1 -32.5h0M-14.7 -42.8h0M-3.3 -42.8h0M0.6 -40.5h0M-16.7 -31.5h0M-0.9 -37h0M-25.2 -33.1h0M-25.1 -38.6h0M-25.8 -37.9h0M-4 -34.9h0M-5.8 -33.7h0M-16.6 -42.3h0M-1.8 -36.2h0M-24.8 -39h0M-23.2 -39.9h0M-26.5 -37.1h0M-0.5 -41.3h0M3.5 38.3h0M18.3 40.5h0M7.5 33.4h0M25.5 38h0M11.6 32h0M10.1 41h0M7.8 40.2h0M15.6 40.7h0M17.1 31h0M23.2 30.8h0M4.3 38.4h0M3.3 37.1h0M3.6 37.5h0M7.7 40.2h0M13.1 41h0M23.8 38.6h0M11.3 31.8h0M21.5 39.3h0M28.1 32.9h0M27.6 36.2h0M22.6 30.9h0M5.1 39.4h0M16.1 40.5h0M27.3 36.4h0M25.6 37.5h0M27.6 32.7h0M26.4 32.2h0M21.3 39.4h0M8.2 40.6h0M8 40.8h0M27.9 34.1h0M18.7 30.7h0M6.7 39.9h0M7.2 33.9h0M27.9 33.6h0M27.4 32.5h0M6 34.5h0M20 40h0M7.1 33.5h0M5.8 39.8h0M9.4 40.8h0M20.1 30.5h0M-4.1 -42.7h0M-0.7 -41.1h0M-6.4 -42.9h0M-26.5 -37.7h0M-23.6 -39.5h0M-6.9 -43h0M5.9 34.3h0M15.9 40.7h0M20.9 30.8h0M13.1 41.1h0M8.8 40.4h0M5.9 40h0M12.4 40.9h0M27.2 32.1h0M8.3 32.9h0M14.7 31.1h0M10.4 40.9h0M10.1 41h0M19.2 30.7h0M27.2 36.3h0"/><path stroke="#84d44b" d="M-0.8 -38.1h0M-24.8 -34h0M-1 -37.8h0M-0.8 -38.6h0M-3.4 -42.1h0M-24.5 -33.6h0M-0.4 -39.6h0M-17.4 -31.9h0M-19.5 -32.3h0M-10.2 -32.8h0M-1.3 -36.9h0M-9.5 -33.2h0M-15.6 -42.2h0M-16.8 -32h0M-0.4 -40.2h0M-12.6 -32.3h0M-0.1 -38.8h0M-24 -33.1h0M-25.1 -37.8h0M-5.4 -34.3h0M-20.6 -40.7h0M-6.4 -34h0M-1 -38.6h0M-2 -36.5h0M-0.4 -40.1h0M-8.3 -42.8h0M-1.1 -39.5h0M-2.8 -41.9h0M-9.5 -33h0M-23.3 -32.7h0M-4.1 -35.5h0M-7.9 -42.6h0M-1.5 -41.2h0M-8.3 -42.6h0M-7.8 -42.7h0M-6.5 -34.1h0M-25.1 -34.2h0M-4.3 -42.2h0M-18.3 -31.9h0M-14.3 -42.5h0M-0.4 -38.3h0M-10.8 -43h0M-20.5 -40.7h0M-21.6 -40.6h0M-1.1 -40.9h0M-9.1 -42.7h0M-25.6 -37.2h0M-17.7 -32.2h0M-21.3 -40.6h0M-5.1 -42.2h0M-25.3 -38.1h0M-1 -40.4h0M-1.7 -37.5h0M-10.5 -32.7h0M-3.3 -35.5h0M-20.6 -41h0M8.9 33.1h0M16.2 31.2h0M26 32.1h0M14 40.4h0M11.5 40.4h0M9.6 32.9h0M23.4 31.6h0M15.2 31.6h0M10 32.6h0M26.8 35.5h0M5.3 38.9h0M27.1 33.1h0M9.4 33.2h0M22.8 31.4h0M26.2 33h0M12 32.1h0M27.1 33h0M27.2 34.1h0M7.4 39.9h0M5.4 37h0M17 40.1h0M23.3 38.4h0M26.4 32.3h0M26.7 32.9h0M18 31h0M27.4 34.9h0M8 39.6h0M24.9 37.4h0M27.1 33.9h0M9.4 40.4h0M25.3 37h0M18.6 39.9h0M12.1 40.5h0M15.2 31.3h0M25.7 32.1h0M24.1 31.6h0M5.8 38.1h0M27.2 35.6h0M26.6 33.6h0M21.5 39.3h0M4.9 37.1h0M5.7 38.6h0M14.2 31.8h0M10.2 33h0M15.9 40.3h0M21.9 31h0M4.6 37.2h0M-1.5 -37.7h0M-15.8 -32h0M-19.7 -41.2h0M-3.8 -41.7h0M-24.1 -39.1h0M-20.9 -32.3h0M-17.6 -41.9h0M-12.2 -32.4h0M-10 -42.7h0M-26.2 -36.7h0M-10.2 -42.6h0M-26 -36.6h0M-3.9 -41.8h0M-26.1 -36.5h0M21.6 31h0M5 37.7h0M23.1 38.5h0M14.4 31.4h0M11.4 32.2h0M15.8 31.5h0M15 31.7h0"/><path stroke="#90d743" d="M-3.5 -36.3h0M-4.7 -35.4h0M-25.1 -34.9h0M-2.2 -39.9h0M-23.4 -38.5h0M-3.5 -36.6h0M-3.5 -36.5h0M-25.5 -35.6h0M-4.7 -35.3h0M-24.8 -37h0M-25.3 -36h0M-22.5 -39.6h0M-15.3 -32.5h0M-10.7 -33.1h0M-12.4 -42.2h0M-13.4 -42.1h0M-23.6 -33.8h0M-3.1 -36.8h0M-2.5 -40.9h0M-6.6 -42.3h0M-19.3 -40.9h0M-22 -39.8h0M-25.2 -36.4h0M-22.8 -33.3h0M-13.8 -42.1h0M-6 -42.2h0M-7.8 -42.2h0M-2.1 -39.9h0M-11.1 -42.3h0M-14 -32.7h0M-8.1 -34.1h0M-17.7 -41.5h0M-16.3 -32.4h0M-16.3 -32.3h0M-4.3 -35.4h0M-20.1 -40.4h0M-21.8 -40h0M-18.7 -41.1h0M-21.3 -32.9h0M-2.2 -39.9h0M-24.2 -37.6h0M-1.3 -39.2h0M-8.2 -42.5h0M-25 -35h0M-18.3 -41.1h0M-6.8 -42h0M-7.9 -42.4h0M-23.8 -38.5h0M21.9 38.5h0M6.4 38.1h0M21.4 38.9h0M24.8 37h0M8.5 39.5h0M26 36.2h0M14.6 31.9h0M23.8 32.3h0M18.5 39.5h0M21.5 38.5h0M10.9 32.9h0M11.8 32.7h0M18.4 39.6h0M10.6 33.2h0M17.6 39.8h0M6.6 37.2h0M24.2 32.1h0M25.1 33h0M7.5 38.5h0M6 37.8h0M21.1 38.8h0M26.1 35.6h0M25.7 36h0M8.3 39.1h0M25.2 36.8h0M26.6 33.7h0M22.1 38.4h0M26.4 33.4h0M24.4 32h0M20.1 31.3h0M17.3 31.7h0M14.9 31.8h0M7.7 38.8h0M23.8 32.1h0M10.7 33.2h0M22.8 31.7h0M15.1 40h0M14.5 32.1h0M10.9 39.8h0M8.6 39.6h0M15.8 40.1h0M10 39.6h0M8.4 39.5h0M17.3 39.7h0M16.6 39.7h0M14.2 31.9h0M21.7 38.7h0M25.8 33.2h0M12.1 40h0M-6.8 -34.7h0M10.5 33.3h0M-2.1 -39.6h0M-13.9 -32.6h0M-3.2 -40.7h0M-1.7 -40.4h0M-10.1 -33.4h0M-2.5 -37.3h0M-6.7 -42.4h0M-21.6 -32.7h0M-24.9 -34.8h0M9.9 39.9h0M7.8 39.2h0M19.1 31.4h0M9.6 39.4h0M25.4 32.7h0M9.4 39.4h0M23.9 37.2h0M6.4 36.2h0M19.7 31.4h0"/><path stroke="#9dd93b" d="M-18.1 -32.7h0M-3.8 -36.7h0M-20.1 -40.2h0M-19.5 -33.1h0M-4.7 -40.8h0M-18.2 -40.6h0M-4.3 -40.5h0M-14.7 -32.9h0M-24.7 -36.1h0M-3.1 -38.4h0M-4.1 -41h0M-23.5 -34.5h0M-17.3 -40.9h0M-13.1 -33.3h0M-24.2 -36.9h0M-16.6 -32.9h0M-23.5 -34.5h0M-12.9 -33h0M-23.9 -37.7h0M-23.6 -34.2h0M-21.5 -39.4h0M-10.3 -41.9h0M-3.7 -40.1h0M-3.5 -37.4h0M-14.8 -32.7h0M-23.8 -37.9h0M-3.4 -39.8h0M-2.6 -39.3h0M-3.2 -40h0M-2.9 -38h0M-13.2 -33.2h0M-14.3 -32.9h0M-3.2 -38.3h0M-17.9 -32.9h0M-15.9 -32.9h0M-24.1 -35.6h0M-6.6 -35.2h0M-18 -32.8h0M-20.4 -39.9h0M-21.2 -39.4h0M-6.4 -35.2h0M-4 -40.4h0M-20.8 -33.3h0M-11.5 -33.6h0M-12.8 -33.4h0M-3.6 -37.3h0M-3.8 -40.7h0M-22.8 -38.3h0M-4.9 -41.3h0M-9.3 -34.1h0M-9.6 -33.9h0M-6.9 -41.6h0M-24.2 -34.8h0M-23 -34.1h0M-2.5 -39.3h0M-3.1 -39.4h0M-23.8 -35h0M-24.8 -36.1h0M-21 -33.2h0M9.7 34.2h0M20.8 32.2h0M25.5 35.2h0M20.2 31.9h0M7.8 37.9h0M15.5 39.4h0M10.9 33.6h0M15.1 39.7h0M24.6 36h0M7.9 36.4h0M11.6 39.5h0M25.1 34h0M12.7 33.2h0M7.8 36.4h0M24.8 34.4h0M11.2 39.4h0M10.2 39.1h0M12 39.4h0M13.2 39.5h0M8.2 37.3h0M12.4 32.9h0M21 32h0M16.5 39.4h0M25.6 34.4h0M19.1 32.1h0M23.9 32.8h0M14.8 32.5h0M23.9 33.1h0M8.9 35.1h0M7.6 38.1h0M9.9 33.9h0M12.3 33.1h0M24.7 35.9h0M20.3 38.5h0M20.2 38.6h0M15.6 39.5h0M19.4 32.1h0M25 34.7h0M19.7 31.8h0M9.8 34.2h0M23 32.7h0M15.4 39.8h0M15.6 39.5h0M16.9 39.6h0M8 36.1h0M25.2 34.8h0M-24.6 -35.6h0M-16.8 -41.4h0M-22.6 -38.9h0M-13.1 -33.2h0M-5.5 -35.7h0M-8 -34.3h0M-13.4 -41.7h0M-3.6 -40.3h0M-11.7 -42.1h0M-3.1 -39.4h0M16.1 32.1h0M25.1 35.1h0M18.7 39.2h0M7.8 38.3h0M24 36.7h0M11.4 39.4h0M7.3 37.8h0"/><path stroke="#addc30" d="M-4.4 -38h0M-21.8 -34.1h0M-5.3 -40.5h0M-16.8 -40.7h0M-15 -33.2h0M-5.9 -36.1h0M-12.5 -33.7h0M-22.5 -38.2h0M-11.6 -33.8h0M-13.1 -33.5h0M-5.2 -39.8h0M-15.6 -40.9h0M-21.2 -33.8h0M-21.9 -38.6h0M-14.9 -33.1h0M-4.6 -36.9h0M-4.9 -39.5h0M-9.3 -34.5h0M-5.3 -36.6h0M-5.4 -36.2h0M-17.6 -40.5h0M-17.7 -33.1h0M-17.2 -40.8h0M-23.4 -36.5h0M-23 -37.3h0M-5.2 -36.6h0M-22.6 -37.6h0M-23.8 -36.4h0M-4.2 -39.9h0M-23.6 -35.2h0M-6.4 -41.1h0M-19.3 -33.5h0M-19 -33.3h0M-14.7 -33.1h0M-20.1 -33.3h0M-17.3 -40.6h0M-8.7 -41.3h0M-22.1 -34h0M-4.4 -40.3h0M-4.2 -39.1h0M-3.8 -38.9h0M-12.3 -33.8h0M-9.9 -34.2h0M-11.5 -41.4h0M-10.3 -41.7h0M-10.6 -41.3h0M-22.4 -38.4h0M-22 -38.5h0M-3.9 -38.5h0M-9.8 -41.5h0M-4.4 -37.9h0M-4.6 -39.3h0M-8.6 -41.1h0M-4.8 -39.2h0M14.3 39.3h0M24.1 36.1h0M9.8 35.6h0M12.6 33.6h0M24.5 34.7h0M12.1 33.5h0M23.8 34.1h0M18.8 38.6h0M23.9 34.1h0M20.1 37.9h0M20.5 37.9h0M23.7 36.4h0M20.7 37.8h0M17.6 32.5h0M20.9 38.1h0M20.2 38.2h0M14.2 33.2h0M22.6 33.1h0M9.8 35.5h0M9.4 36.1h0M9.3 38.2h0M8.9 35.6h0M23.1 33.2h0M23.8 33.5h0M16.3 39.1h0M19.1 38.2h0M16.3 32.5h0M9.2 38.1h0M9.1 38h0M13.9 39.2h0M23.8 34.4h0M13.4 39.2h0M8.8 35.7h0M10 34.8h0M21.3 37.4h0M15.6 38.9h0M18.5 38.5h0M13.2 33h0M11 38.5h0M21.1 37.9h0M22.1 32.5h0M9.5 35.4h0M17.6 32.4h0M23.6 33.3h0M20.8 32.6h0M21.6 32.9h0M17.4 38.7h0M-22.9 -34.8h0M-5.2 -37.2h0M-23.4 -37.4h0M-18.8 -33.2h0M-4.8 -40.3h0M-15.5 -33.1h0M-12.2 -33.6h0M-4.3 -38.2h0M-21.1 -33.8h0M-23.4 -35.6h0M23.6 33.1h0M9.2 37.4h0M17.5 32.5h0M8.5 36.2h0M9.4 38.2h0M10.2 34.6h0M12.8 38.9h0M12.1 33.9h0M23.5 33h0M18.9 32.5h0M19.6 32.2h0M19.2 32.4h0"/><path stroke="#bade28" d="M-10.6 -41.2h0M-10.4 -41.1h0M-11.8 -34.1h0M-12.7 -41.1h0M-20.8 -38.8h0M-6.2 -40.4h0M-22.2 -35.4h0M-5.9 -37.3h0M-15.4 -40.7h0M-11.7 -34.2h0M-10.1 -34.6h0M-12.8 -41h0M-13.8 -41h0M-5 -39.3h0M-20.1 -38.8h0M-17.8 -33.8h0M-21.4 -34.6h0M-17.7 -40.1h0M-9 -40.8h0M-11.8 -34.5h0M-13.2 -33.7h0M-14.6 -33.7h0M-17.7 -40.2h0M-18.8 -39.5h0M-21.9 -38.2h0M-21.1 -34.4h0M-22.2 -35.9h0M-16.9 -40.3h0M-10.4 -41.2h0M11.5 35.1h0M21.3 36.8h0M14.6 33.3h0M22.6 35.5h0M10.5 37.2h0M19.3 38h0M11.2 37.6h0M16.9 32.9h0M18 33h0M12.4 38.7h0M10.3 37.1h0M12.2 34.7h0M13.9 33.6h0M13.3 38.4h0M22.1 36.3h0M12.7 38.5h0M15.2 33.1h0M22.1 33.1h0M11.1 38.1h0M18.4 37.8h0M23.2 35.3h0M16.1 38.6h0M14.2 33.4h0M23.5 35.2h0M17.8 33.2h0M23 33.9h0M22.6 35h0M23 35.2h0M18 38.2h0M21 36.8h0M22.8 36.2h0M10.8 35.9h0M22.3 35.9h0M10.2 37.7h0M12.9 38.4h0M15.6 33.4h0M14 38.7h0M16.3 38.6h0M21.3 36.7h0M22.5 33.5h0M14.2 33.5h0M21.9 34h0M14.3 33.6h0M17.5 38.2h0M23.3 35.3h0M16.2 33.3h0M12.7 38.1h0M-22.4 -35.7h0M-5.3 -38.8h0M-17.9 -33.5h0M-8.1 -40.4h0M-7.8 -40.6h0M-5.4 -37.5h0M14.6 38.5h0M22.5 35.5h0M11.4 35.1h0M14.4 33.7h0M14.5 38.5h0M21.8 36.2h0M21.3 37h0M10.4 37.3h0M20.6 37.7h0M22.6 36.1h0M19.8 37.9h0M12 38.4h0M19.7 37.5h0M23 35.2h0M22.1 35.8h0"/><path stroke="#c8e020" d="M-8.4 -36.5h0M-19.5 -34.3h0M-18 -34h0M-6.2 -38.2h0M-9.1 -40.3h0M-14.7 -40.1h0M-20.8 -35.8h0M-21.2 -35.5h0M-9 -40.2h0M-6.4 -37.4h0M-13.2 -40.3h0M-16.5 -34.3h0M-11.3 -40.3h0M-17.2 -34h0M-8.3 -39.9h0M-8.7 -35.8h0M-10.1 -35.3h0M-15.4 -33.9h0M-8.1 -39.9h0M-11.7 -34.6h0M-7.2 -37h0M-17.8 -34h0M-10.3 -40.3h0M-17.4 -34.3h0M-7.5 -37.1h0M-19.4 -34.6h0M-7.2 -39.7h0M-19.4 -38.8h0M-21.3 -37.8h0M-18.7 -39.1h0M-11.3 -40.4h0M-17.3 -34.4h0M-18.1 -39.4h0M-6.8 -39.7h0M-7.1 -36.9h0M-16.6 -40.2h0M-21 -35.1h0M-11.3 -34.7h0M-12.4 -40.7h0M-7 -39.6h0M-8.6 -35.9h0M-20.6 -37.4h0M-21.9 -35.8h0M-21.5 -36.1h0M-8.1 -36.7h0M-8.8 -36.1h0M13 37h0M16.3 38.1h0M16.6 38h0M18.9 37.1h0M12.5 36.9h0M12.6 36.2h0M21.6 34.8h0M17.3 33.3h0M12.8 34.9h0M15.4 33.9h0M17.1 37.6h0M21.1 36.5h0M15.5 34.1h0M11.4 36.9h0M21.6 36h0M18.8 33.3h0M17.6 33.3h0M14 34.2h0M19.1 33.4h0M11.4 36.1h0M19.4 37.4h0M21.8 35.6h0M15.5 37.6h0M20.7 34.7h0M18.6 33.9h0M15.3 33.8h0M13.9 34.7h0M18.7 33.6h0M13.2 37.7h0M20.9 36.1h0M12.1 36.2h0M20.8 34.8h0M19.2 37.5h0M15.7 37.9h0M11.2 35.8h0M12.1 35.8h0M15.3 34.3h0M14.5 34.1h0M20.5 36.4h0M15.8 33.8h0M18.9 33.3h0M14.3 38.1h0M21.9 35.8h0M15.8 34.2h0M19.5 33.5h0M11.2 37.1h0M14.5 34.3h0M12.6 34.8h0M20 36.9h0M11.2 36.3h0M15.7 38.2h0M11.3 36.5h0M13.2 37.8h0M20.4 33.8h0M12.5 35.9h0M21.5 34.8h0M21.8 34h0M19.4 37.5h0M20.3 33.9h0M21.2 34.8h0M-7.7 -36.5h0M-18.7 -34.2h0M-10.9 -35.1h0M-6.6 -39.2h0M-9.6 -40.6h0M-6.7 -39.1h0M-9.7 -35.2h0M-20.6 -35h0M-7.5 -37.3h0M-15.8 -40h0M-20.5 -37.8h0M-10.6 -40.6h0M-9.8 -40.7h0M-7.2 -39h0M20.2 34.2h0M16.7 38h0M15.4 34.1h0M19.3 33.4h0M12.1 36.3h0M14.1 34.5h0M12.4 36h0M11.7 37.6h0M13.1 37.5h0M20.8 36.3h0M20.6 36.8h0M13.9 37.3h0"/><path stroke="#d8e219" d="M-12.1 -35.4h0M-19.2 -35.3h0M-8.5 -36.5h0M-10.3 -39.7h0M-11.4 -39.9h0M-8.9 -38.8h0M-8.6 -37.5h0M-12.4 -40h0M-18.8 -34.8h0M-14 -34.6h0M-20.4 -36.6h0M-7.6 -39.1h0M-19.3 -38.2h0M-19 -38h0M-15.1 -34.9h0M-20 -35.2h0M-9 -39h0M-13.2 -39.8h0M-17.6 -34.6h0M-17.2 -34.5h0M-7.4 -38.7h0M-10.9 -35.8h0M-18.9 -34.9h0M-10 -39.4h0M-20.7 -36.9h0M-8.1 -38.8h0M-9.3 -39.5h0M-18.2 -35h0M-9.6 -36.4h0M-17.6 -39h0M-8.6 -38.2h0M-20 -36.7h0M-10.5 -39.7h0M-15.7 -39.8h0M-17.3 -34.9h0M-18.1 -38.6h0M-14.1 -39.7h0M-19.6 -35.3h0M-10 -40h0M-17.9 -39h0M-19.6 -37.3h0M-8.2 -37.4h0M-20 -35.5h0M-10.6 -35.8h0M-13.6 -35h0M-17.5 -34.4h0M-18.6 -38.2h0M-20.6 -37.2h0M-16.5 -39.6h0M-15 -34.5h0M-9.4 -36.2h0M-13.9 -39.9h0M-14.9 -39.9h0M-12.2 -35.1h0M-19.8 -37.2h0M-19.1 -38.1h0M-20.3 -36.2h0M-15.6 -34.8h0M17.2 36.5h0M15.9 36.9h0M14.5 36.6h0M18.1 35.5h0M18.7 34.4h0M17.5 36.6h0M20.3 34.4h0M14.3 37.4h0M17.7 37h0M19.4 34.8h0M14.5 37h0M14.2 37h0M19.4 35.6h0M15.2 36.2h0M20 35h0M16 35h0M18.5 36.8h0M17.8 34.8h0M16.3 35h0M16.7 36.6h0M18.3 36.1h0M18.7 36.4h0M18.8 36.2h0M13.4 36.9h0M16.9 34.9h0M16.1 36.9h0M18.7 34.7h0M13.1 35.7h0M13.9 36.8h0M20.7 34.8h0M13 36.2h0M20.5 35.9h0M20.3 34.4h0M14.3 35.5h0M19.6 35h0M15.9 35.5h0M16.4 37.2h0M13.9 35.1h0M19.5 34.7h0M18.1 36.1h0M19.2 34.7h0M15.8 37.4h0M14 35.7h0M-11.7 -39.9h0M-13.2 -34.7h0M-18.6 -38.5h0M-19.9 -35.3h0M-8.5 -37.4h0M-11.5 -40.1h0M-11.6 -35.1h0M-20.3 -35.4h0M-13.9 -39.9h0M-20.6 -36.1h0M-20.4 -36.5h0M-7.9 -37.2h0M18.3 36h0M19.9 36.1h0M19 36.8h0M19.5 35.9h0M14.5 37.1h0M20.7 35.6h0M16.5 34.3h0"/><path stroke="#e5e419" d="M-12.4 -36h0M-16.7 -35.2h0M-16.8 -35.5h0M-9 -38h0M-13.6 -39.1h0M-18.5 -37.8h0M-19.2 -37h0M-13.9 -35.3h0M-11.5 -36h0M-17.7 -38.2h0M-11.5 -36h0M-14.8 -39.5h0M-12.9 -39.7h0M-12.8 -35.4h0M-9.8 -36.6h0M-11.1 -36.2h0M-17.3 -35.3h0M-16.3 -38.8h0M-16.4 -38.9h0M-18.6 -36.3h0M-14.7 -35.2h0M-10.3 -36.6h0M-11.1 -38.9h0M-14 -35.4h0M-17.6 -37.8h0M-10 -37.2h0M-15.6 -35h0M-15.1 -35h0M-19.6 -36.8h0M-10.3 -38.3h0M-9.3 -38.6h0M-10.6 -36.1h0M-13.2 -39h0M-10.1 -36.3h0M-10.4 -38.1h0M-10.3 -37.6h0M17.5 35.3h0M16.3 35.7h0M17.6 35.3h0M16.7 35.7h0M-10.6 -38.4h0M-9.7 -38.4h0M-18.5 -37.3h0M-11.4 -38.8h0M-10.6 -36.9h0M-13.4 -39h0M-18.6 -37.7h0M16.7 36.2h0M17.5 35.5h0M17.4 35.9h0"/><path stroke="#f1e51d" d="M-15.9 -37.3h0M-12.6 -36.6h0M-14.7 -35.8h0M-12 -36.6h0M-16.3 -37.3h0M-17.7 -36.4h0M-12.6 -36.7h0M-12.3 -36.4h0M-12.1 -38.1h0M-11.4 -37.4h0M-15.2 -35.8h0M-16.4 -37.8h0M-12.8 -38.7h0M-13.3 -38.8h0M-13.6 -38.3h0M-12.9 -38.3h0M-16.4 -36.5h0M-17.2 -36.1h0M-15.2 -37.8h0M-15.9 -36.2h0M-13.4 -36.8h0M-14.5 -38.8h0M-15.8 -36.7h0M-14.9 -37.6h0M-14.3 -36.7h0M-14.7 -38h0M-13.2 -37.9h0M-17.7 -36.1h0M-16.1 -36.6h0M-14.9 -36h0M-13.2 -37.6h0M-15.1 -37.7h0M-18.1 -36.8h0M-15.1 -36.1h0M-15.6 -36h0M-14.5 -38.1h0M-17.8 -37h0M-15.6 -36.3h0M-12.2 -38.6h0M-12.7 -38.3h0M-12.5 -38.8h0M-14.3 -37.9h0M-11.4 -37.3h0M-12.1 -38.7h0M-15 -38.6h0M-14.1 -37.5h0M-13.5 -37.2h0M-15.9 -36.9h0M-15.1 -36.5h0M-17.5 -37.7h0M-11.5 -38.7h0M-17.5 -36.9h0M-12.4 -37.4h0M-17.7 -36.7h0M-11.1 -37h0"/></g>
<circle cx="0" cy="-81" r="2.8"/><circle cx="0" cy="81" r="2.8"/><circle cx="-36" cy="-45" r="2.8"/><circle cx="-54" cy="-27" r="2.8"/><circle cx="-81" cy="0" r="2.8"/><circle cx="81" cy="0" r="2.8"/><circle cx="54" cy="27" r="2.8"/><circle cx="36" cy="45" r="2.8"/></g>
<g font-size="8.2"><text x="120.0" y="23.9">+Iso</text><text x="120.0" y="194.3">-Iso</text><text x="45.6" y="60.5">+Crack</text><text x="21.6" y="80.5">+Dipole</text><text x="4.9" y="105.0">+Clvd</text><text x="202.0" y="113.0">-Clvd</text><text x="174.3" y="141.3">-Dipole</text><text x="151.1" y="165.4">-Crack</text></g>
<rect x="205.5" y="127.4" width="44.6" height="66.8" fill="#fff" stroke="#b4b4b4" stroke-width="0.7"/><g stroke="#1874b8" stroke-width="1" fill="none"><path d="M214.3 151.9V139.2M214.3 163.5V176.6M212.5 139.2H216.1M212.5 176.6H216.1"/><circle cx="214.3" cy="139.2" r="2.1"/><circle cx="214.3" cy="138.3" r="2.1"/><circle cx="214.3" cy="137.5" r="2.1"/><circle cx="214.3" cy="136.7" r="2.1"/><circle cx="214.3" cy="135.8" r="2.1"/><circle cx="214.3" cy="135" r="2.1"/><circle cx="214.3" cy="134.1" r="2.1"/><circle cx="214.3" cy="133.3" r="2.1"/><circle cx="214.3" cy="132.4" r="2.1"/><circle cx="214.3" cy="131.6" r="2.1"/><circle cx="214.3" cy="130.7" r="2.1"/><circle cx="214.3" cy="129.9" r="2.1"/><circle cx="214.3" cy="129" r="2.1"/><circle cx="214.3" cy="128.2" r="2.1"/><circle cx="214.3" cy="127.3" r="2.1"/><circle cx="214.3" cy="126.5" r="2.1"/><circle cx="214.3" cy="125.6" r="2.1"/><circle cx="214.3" cy="124.8" r="2.1"/><circle cx="214.3" cy="123.9" r="2.1"/><circle cx="214.3" cy="123.1" r="2.1"/><circle cx="214.3" cy="122.2" r="2.1"/><circle cx="214.3" cy="121.4" r="2.1"/><circle cx="214.3" cy="187.2" r="2.1"/><circle cx="214.3" cy="186.4" r="2.1"/><circle cx="214.3" cy="185.5" r="2.1"/><circle cx="214.3" cy="184.7" r="2.1"/><circle cx="214.3" cy="183.8" r="2.1"/><circle cx="214.3" cy="183" r="2.1"/><circle cx="214.3" cy="182.1" r="2.1"/><circle cx="214.3" cy="181.3" r="2.1"/><circle cx="214.3" cy="180.4" r="2.1"/><circle cx="214.3" cy="179.6" r="2.1"/><circle cx="214.3" cy="178.7" r="2.1"/><circle cx="214.3" cy="177.9" r="2.1"/><circle cx="214.3" cy="177" r="2.1"/></g><path d="M210.6 151.9H218V157.5L216.6 157.5L218 157.6V163.5H210.6V157.6L212 157.5L210.6 157.5Z" fill="#1874b8" stroke="#1874b8" stroke-width="0.5"/><g stroke="#ff7f0e" stroke-width="1" fill="none"><path d="M227.7 155V132.8M227.7 170.9V187.2M225.9 132.8H229.5M225.9 187.2H229.5"/><circle cx="227.7" cy="132.8" r="2.1"/><circle cx="227.7" cy="132" r="2.1"/><circle cx="227.7" cy="131.1" r="2.1"/><circle cx="227.7" cy="130.3" r="2.1"/><circle cx="227.7" cy="129.4" r="2.1"/><circle cx="227.7" cy="128.6" r="2.1"/><circle cx="227.7" cy="127.8" r="2.1"/><circle cx="227.7" cy="126.9" r="2.1"/><circle cx="227.7" cy="126.1" r="2.1"/><circle cx="227.7" cy="125.2" r="2.1"/><circle cx="227.7" cy="124.4" r="2.1"/><circle cx="227.7" cy="123.5" r="2.1"/><circle cx="227.7" cy="122.7" r="2.1"/><circle cx="227.7" cy="121.8" r="2.1"/><circle cx="227.7" cy="121" r="2.1"/><circle cx="227.7" cy="120.1" r="2.1"/><circle cx="227.7" cy="119.3" r="2.1"/></g><path d="M224 155H231.4V162.9L230 163.2L231.4 163.5V170.9H224V163.5L225.4 163.2L224 162.9Z" fill="#ff7f0e" stroke="#ff7f0e" stroke-width="0.5"/><g stroke="#a00000" stroke-width="1" fill="none"><path d="M241.4 162.5V139.2M241.4 179.4V187.2M239.6 139.2H243.2M239.6 187.2H243.2"/><circle cx="241.4" cy="139.2" r="2.1"/><circle cx="241.4" cy="138.3" r="2.1"/><circle cx="241.4" cy="137.5" r="2.1"/><circle cx="241.4" cy="136.7" r="2.1"/><circle cx="241.4" cy="135.8" r="2.1"/><circle cx="241.4" cy="135" r="2.1"/><circle cx="241.4" cy="134.1" r="2.1"/><circle cx="241.4" cy="133.3" r="2.1"/><circle cx="241.4" cy="132.4" r="2.1"/><circle cx="241.4" cy="131.6" r="2.1"/><circle cx="241.4" cy="130.7" r="2.1"/><circle cx="241.4" cy="129.9" r="2.1"/><circle cx="241.4" cy="129" r="2.1"/><circle cx="241.4" cy="128.2" r="2.1"/><circle cx="241.4" cy="127.3" r="2.1"/><circle cx="241.4" cy="126.5" r="2.1"/><circle cx="241.4" cy="125.6" r="2.1"/><circle cx="241.4" cy="124.8" r="2.1"/><circle cx="241.4" cy="123.9" r="2.1"/><circle cx="241.4" cy="123.1" r="2.1"/><circle cx="241.4" cy="122.2" r="2.1"/><circle cx="241.4" cy="121.4" r="2.1"/></g><path d="M237.7 162.5H245.1V171.3L243.7 171.7L245.1 172V179.4H237.7V172L239.1 171.7L237.7 171.3Z" fill="#a00000" stroke="#a00000" stroke-width="0.5"/><path d="M250.1 187.2h2.8M250.1 169.5h2.8M250.1 151.9h2.8M250.1 134.2h2.8M214.3 194.2v2.8M227.7 194.2v2.8M241.4 194.2v2.8" stroke="#000" stroke-width="0.7" fill="none"/><g font-size="7.6"><text x="255.9" y="190.1">0</text><text x="255.9" y="172.4">25</text><text x="255.9" y="154.8">50</text><text x="255.9" y="137.2">75</text><text x="214.3" y="205.2" text-anchor="middle">iso</text><text x="227.7" y="205.2" text-anchor="middle">dc</text><text x="241.4" y="205.2" text-anchor="middle">clvd</text></g></g>
</svg>
</body></html>
